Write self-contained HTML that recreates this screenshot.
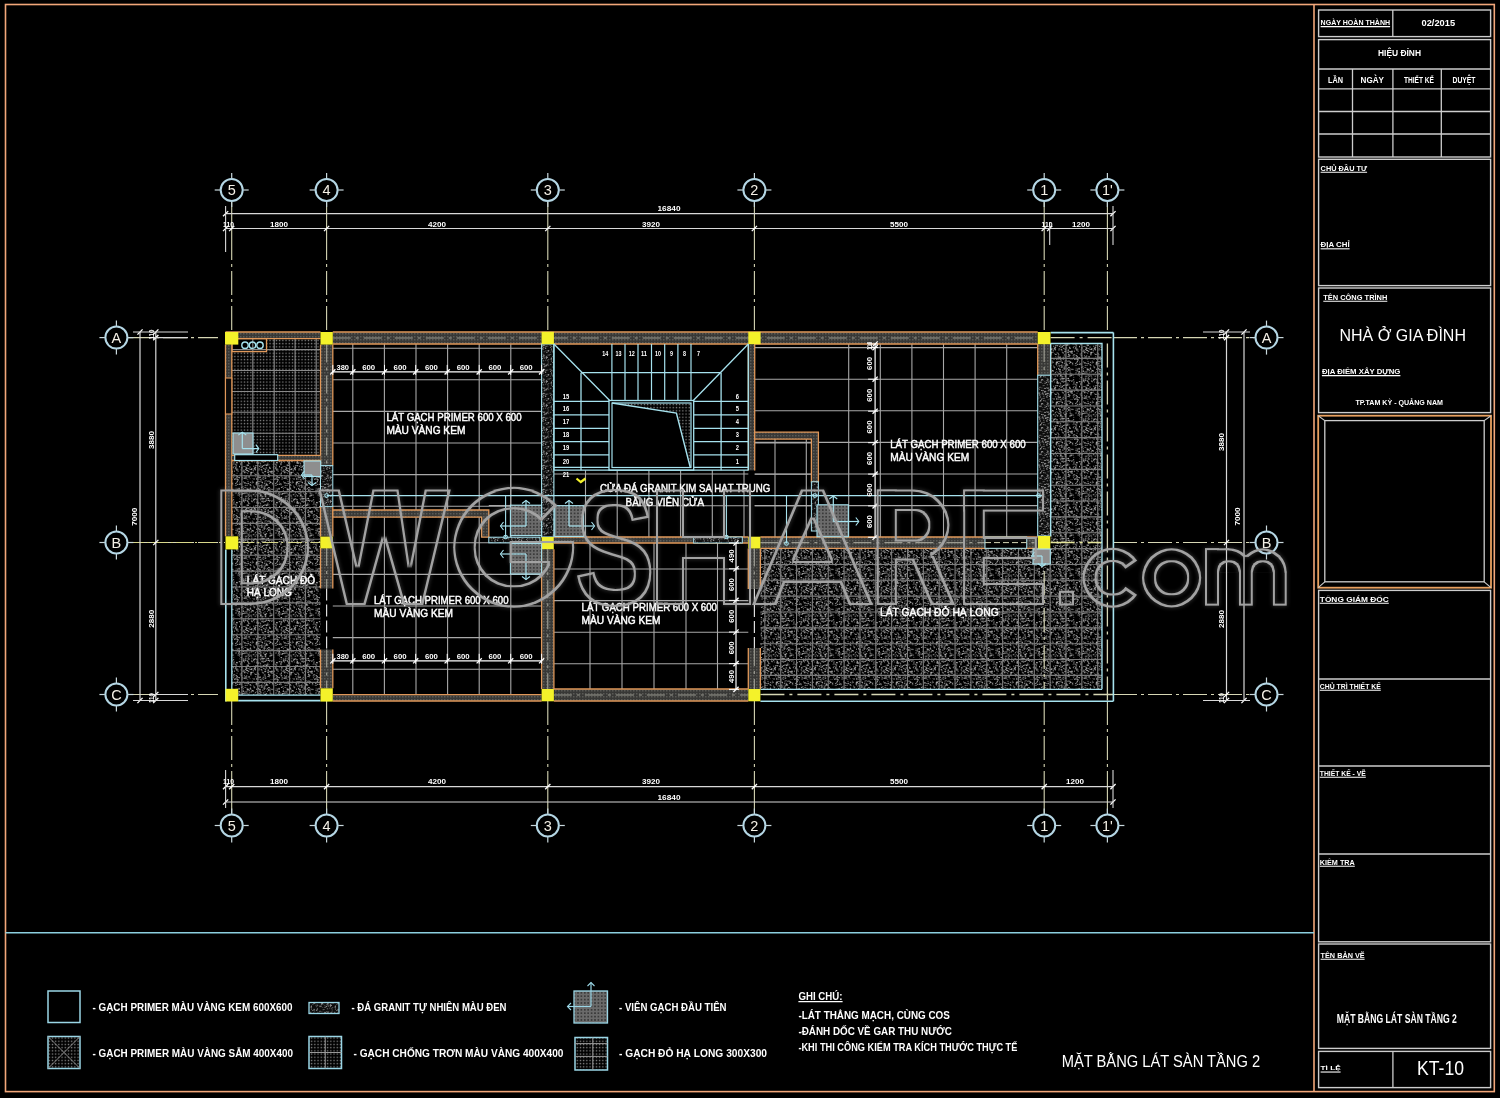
<!DOCTYPE html><html><head><meta charset="utf-8"><title>Mat bang lat san tang 2</title><style>html,body{margin:0;padding:0;background:#000;overflow:hidden}svg{display:block;will-change:transform}</style></head><body><svg width="1500" height="1098" viewBox="0 0 1500 1098" font-family='"Liberation Sans", sans-serif'><defs><pattern id="spk" width="40" height="40" patternUnits="userSpaceOnUse"><rect x="18.1" y="22.39" width="1.5" height="1" fill="#b0b0b0" fill-opacity="0.73"/><rect x="23.5" y="7.39" width="1.5" height="1.2" fill="#b0b0b0" fill-opacity="0.79"/><rect x="7.45" y="17.86" width="1" height="0.8" fill="#b0b0b0" fill-opacity="0.75"/><rect x="35.62" y="25.38" width="1.5" height="1" fill="#b0b0b0" fill-opacity="0.81"/><rect x="24.62" y="6.3" width="0.8" height="1.2" fill="#b0b0b0" fill-opacity="0.48"/><rect x="1.43" y="35.18" width="0.8" height="1" fill="#b0b0b0" fill-opacity="0.63"/><rect x="23.64" y="7.81" width="1" height="1.2" fill="#b0b0b0" fill-opacity="0.61"/><rect x="0.18" y="3.4" width="1.2" height="1" fill="#b0b0b0" fill-opacity="1"/><rect x="39.83" y="33.61" width="1.2" height="1" fill="#b0b0b0" fill-opacity="0.87"/><rect x="20.52" y="1.19" width="0.8" height="1" fill="#b0b0b0" fill-opacity="0.51"/><rect x="11.64" y="2.67" width="0.8" height="1.2" fill="#b0b0b0" fill-opacity="0.45"/><rect x="8.39" y="36.41" width="1.5" height="1" fill="#b0b0b0" fill-opacity="0.99"/><rect x="15.9" y="2.92" width="1" height="1.2" fill="#b0b0b0" fill-opacity="0.6"/><rect x="3.49" y="13.3" width="1.5" height="0.8" fill="#b0b0b0" fill-opacity="0.52"/><rect x="28.28" y="0.44" width="1.5" height="1" fill="#b0b0b0" fill-opacity="0.55"/><rect x="22.37" y="17.9" width="1" height="1.2" fill="#b0b0b0" fill-opacity="0.87"/><rect x="16.77" y="15.35" width="1.5" height="1" fill="#b0b0b0" fill-opacity="0.99"/><rect x="0.02" y="34.57" width="1.2" height="0.8" fill="#b0b0b0" fill-opacity="0.57"/><rect x="15.77" y="34.18" width="0.8" height="0.8" fill="#b0b0b0" fill-opacity="0.99"/><rect x="8.53" y="10.33" width="1.2" height="1" fill="#b0b0b0" fill-opacity="0.66"/><rect x="2.97" y="8.35" width="1" height="0.8" fill="#b0b0b0" fill-opacity="0.78"/><rect x="14.87" y="18.13" width="1.5" height="1.2" fill="#b0b0b0" fill-opacity="0.52"/><rect x="15.44" y="25.09" width="1.2" height="0.8" fill="#b0b0b0" fill-opacity="0.9"/><rect x="9.98" y="7.59" width="1" height="1.2" fill="#b0b0b0" fill-opacity="0.97"/><rect x="35.29" y="24.14" width="1.5" height="0.8" fill="#b0b0b0" fill-opacity="0.51"/><rect x="1.55" y="38.51" width="1" height="1.2" fill="#b0b0b0" fill-opacity="0.84"/><rect x="10.28" y="32.95" width="1.5" height="1" fill="#b0b0b0" fill-opacity="0.74"/><rect x="37.17" y="39.09" width="1" height="0.8" fill="#b0b0b0" fill-opacity="0.71"/><rect x="26.14" y="24.63" width="0.8" height="1" fill="#b0b0b0" fill-opacity="0.57"/><rect x="36.6" y="29.96" width="0.8" height="1" fill="#b0b0b0" fill-opacity="0.68"/><rect x="9.96" y="1.86" width="1.2" height="1" fill="#b0b0b0" fill-opacity="0.74"/><rect x="38.92" y="3.69" width="1" height="1" fill="#b0b0b0" fill-opacity="0.99"/><rect x="26.28" y="27.65" width="1" height="1.2" fill="#b0b0b0" fill-opacity="0.47"/><rect x="0.72" y="36.41" width="1.2" height="0.8" fill="#b0b0b0" fill-opacity="0.46"/><rect x="25.45" y="19.29" width="1.2" height="1" fill="#b0b0b0" fill-opacity="0.53"/><rect x="2.9" y="18.12" width="1.2" height="1.2" fill="#b0b0b0" fill-opacity="0.47"/><rect x="37.45" y="29.49" width="1" height="1" fill="#b0b0b0" fill-opacity="0.64"/><rect x="27.41" y="36.03" width="1.5" height="0.8" fill="#b0b0b0" fill-opacity="0.92"/><rect x="22.91" y="25" width="1.5" height="1" fill="#b0b0b0" fill-opacity="0.77"/><rect x="24.35" y="3.21" width="0.8" height="1" fill="#b0b0b0" fill-opacity="0.93"/><rect x="29.13" y="15.54" width="1.5" height="1" fill="#b0b0b0" fill-opacity="0.7"/><rect x="21.65" y="20.75" width="0.8" height="1" fill="#b0b0b0" fill-opacity="0.78"/><rect x="19.24" y="9.21" width="0.8" height="1" fill="#b0b0b0" fill-opacity="0.88"/><rect x="26.41" y="19.45" width="0.8" height="1" fill="#b0b0b0" fill-opacity="0.62"/><rect x="27.13" y="8.1" width="1" height="1" fill="#b0b0b0" fill-opacity="0.81"/><rect x="17.68" y="35.67" width="1.2" height="1" fill="#b0b0b0" fill-opacity="0.82"/><rect x="7.94" y="17.24" width="1" height="0.8" fill="#b0b0b0" fill-opacity="0.66"/><rect x="23.32" y="12.66" width="1" height="0.8" fill="#b0b0b0" fill-opacity="0.72"/><rect x="33.48" y="33.95" width="0.8" height="1" fill="#b0b0b0" fill-opacity="0.9"/><rect x="4.51" y="18.85" width="1" height="1" fill="#b0b0b0" fill-opacity="0.66"/><rect x="20.8" y="26.89" width="1.5" height="1" fill="#b0b0b0" fill-opacity="0.49"/><rect x="1.26" y="34.91" width="0.8" height="1.2" fill="#b0b0b0" fill-opacity="0.84"/><rect x="22.82" y="12.36" width="0.8" height="1.2" fill="#b0b0b0" fill-opacity="0.52"/><rect x="18.19" y="0.99" width="1.2" height="0.8" fill="#b0b0b0" fill-opacity="0.88"/><rect x="31.87" y="39.36" width="0.8" height="1" fill="#b0b0b0" fill-opacity="0.51"/><rect x="21.42" y="25.6" width="1.2" height="0.8" fill="#b0b0b0" fill-opacity="0.83"/><rect x="7.97" y="19.01" width="1" height="1.2" fill="#b0b0b0" fill-opacity="0.46"/><rect x="18.89" y="28.57" width="1" height="0.8" fill="#b0b0b0" fill-opacity="0.6"/><rect x="13.83" y="27.89" width="1" height="1" fill="#b0b0b0" fill-opacity="0.92"/><rect x="27.99" y="8.96" width="1.5" height="1.2" fill="#b0b0b0" fill-opacity="0.66"/><rect x="18.02" y="7.88" width="0.8" height="1" fill="#b0b0b0" fill-opacity="0.75"/><rect x="26.11" y="20.11" width="1.2" height="1" fill="#b0b0b0" fill-opacity="0.63"/><rect x="39.29" y="3.96" width="0.8" height="0.8" fill="#b0b0b0" fill-opacity="0.58"/><rect x="15.61" y="3.51" width="1.2" height="1.2" fill="#b0b0b0" fill-opacity="0.99"/><rect x="37.29" y="10.48" width="0.8" height="1" fill="#b0b0b0" fill-opacity="0.73"/><rect x="1.49" y="13.68" width="1.5" height="1" fill="#b0b0b0" fill-opacity="0.72"/><rect x="1.14" y="32.37" width="0.8" height="1" fill="#b0b0b0" fill-opacity="0.89"/><rect x="6.92" y="13.4" width="1" height="1" fill="#b0b0b0" fill-opacity="0.53"/><rect x="20.66" y="28.94" width="1.5" height="1" fill="#b0b0b0" fill-opacity="0.77"/><rect x="27.56" y="30.31" width="1.5" height="1.2" fill="#b0b0b0" fill-opacity="0.76"/><rect x="33.25" y="22.46" width="1" height="1.2" fill="#b0b0b0" fill-opacity="0.73"/><rect x="36.29" y="10.26" width="1.5" height="1.2" fill="#b0b0b0" fill-opacity="0.56"/><rect x="34.03" y="38.74" width="1.2" height="1.2" fill="#b0b0b0" fill-opacity="0.72"/><rect x="16.44" y="4.57" width="0.8" height="1.2" fill="#b0b0b0" fill-opacity="0.66"/><rect x="21.53" y="1.76" width="1.5" height="1.2" fill="#b0b0b0" fill-opacity="0.89"/><rect x="22.51" y="19.64" width="1" height="0.8" fill="#b0b0b0" fill-opacity="0.96"/><rect x="18.36" y="36.83" width="1.5" height="1" fill="#b0b0b0" fill-opacity="0.59"/><rect x="19.72" y="13.59" width="1.5" height="1.2" fill="#b0b0b0" fill-opacity="0.62"/><rect x="7.66" y="24.72" width="1.2" height="0.8" fill="#b0b0b0" fill-opacity="0.84"/><rect x="39.09" y="1.42" width="1" height="0.8" fill="#b0b0b0" fill-opacity="0.46"/><rect x="11.36" y="28.94" width="1" height="1.2" fill="#b0b0b0" fill-opacity="0.72"/><rect x="19.99" y="23.29" width="1.2" height="1.2" fill="#b0b0b0" fill-opacity="0.56"/><rect x="21.21" y="17.47" width="1.5" height="1.2" fill="#b0b0b0" fill-opacity="0.68"/><rect x="21.17" y="6.39" width="1" height="1.2" fill="#b0b0b0" fill-opacity="0.74"/><rect x="8.73" y="8.65" width="1" height="0.8" fill="#b0b0b0" fill-opacity="0.95"/><rect x="25.12" y="13.9" width="1" height="1" fill="#b0b0b0" fill-opacity="0.78"/><rect x="35.63" y="7.79" width="1" height="0.8" fill="#b0b0b0" fill-opacity="0.52"/><rect x="9.57" y="29.06" width="1.2" height="1" fill="#b0b0b0" fill-opacity="0.5"/><rect x="33.29" y="16.87" width="1" height="0.8" fill="#b0b0b0" fill-opacity="0.67"/><rect x="27.41" y="0.71" width="1" height="1.2" fill="#b0b0b0" fill-opacity="0.83"/><rect x="36.45" y="38.74" width="0.8" height="1.2" fill="#b0b0b0" fill-opacity="0.73"/><rect x="30.33" y="20.11" width="1" height="0.8" fill="#b0b0b0" fill-opacity="0.72"/><rect x="0.97" y="30.48" width="1.5" height="0.8" fill="#b0b0b0" fill-opacity="0.55"/><rect x="4.6" y="6.9" width="1" height="1" fill="#b0b0b0" fill-opacity="0.96"/><rect x="3.81" y="2.48" width="1.5" height="0.8" fill="#b0b0b0" fill-opacity="0.87"/><rect x="13.07" y="18.68" width="1.2" height="1" fill="#b0b0b0" fill-opacity="0.57"/><rect x="14.93" y="25.36" width="0.8" height="0.8" fill="#b0b0b0" fill-opacity="0.55"/><rect x="18.16" y="29.57" width="1.5" height="0.8" fill="#b0b0b0" fill-opacity="0.78"/><rect x="3.79" y="31.69" width="1.2" height="0.8" fill="#b0b0b0" fill-opacity="0.89"/><rect x="28.19" y="34.43" width="1.5" height="1.2" fill="#b0b0b0" fill-opacity="0.78"/><rect x="20.17" y="39.31" width="1.2" height="1" fill="#b0b0b0" fill-opacity="0.95"/><rect x="29.78" y="31.12" width="1.5" height="0.8" fill="#b0b0b0" fill-opacity="0.94"/><rect x="35.19" y="27.79" width="1.5" height="0.8" fill="#b0b0b0" fill-opacity="0.67"/><rect x="28.91" y="2.82" width="1.2" height="1" fill="#b0b0b0" fill-opacity="0.71"/><rect x="0.42" y="14.23" width="0.8" height="0.8" fill="#b0b0b0" fill-opacity="0.6"/><rect x="38.46" y="11.95" width="1" height="1.2" fill="#b0b0b0" fill-opacity="0.67"/><rect x="7.28" y="3.07" width="1.5" height="1.2" fill="#b0b0b0" fill-opacity="0.57"/><rect x="4.78" y="15.81" width="0.8" height="0.8" fill="#b0b0b0" fill-opacity="0.79"/><rect x="29.55" y="10.27" width="1.5" height="1.2" fill="#b0b0b0" fill-opacity="0.48"/><rect x="7.82" y="15.03" width="0.8" height="1" fill="#b0b0b0" fill-opacity="0.59"/><rect x="36.23" y="22" width="1.5" height="1.2" fill="#b0b0b0" fill-opacity="0.76"/><rect x="39.8" y="25.52" width="0.8" height="1.2" fill="#b0b0b0" fill-opacity="0.78"/><rect x="30.37" y="1.8" width="1" height="1" fill="#b0b0b0" fill-opacity="0.71"/><rect x="6.76" y="19.82" width="0.8" height="1" fill="#b0b0b0" fill-opacity="0.97"/><rect x="16.83" y="21.07" width="1.2" height="1" fill="#b0b0b0" fill-opacity="0.74"/><rect x="19.33" y="10.79" width="1.2" height="1.2" fill="#b0b0b0" fill-opacity="0.84"/><rect x="11.84" y="0.56" width="1" height="1.2" fill="#b0b0b0" fill-opacity="0.47"/><rect x="6.26" y="30.19" width="1.5" height="0.8" fill="#b0b0b0" fill-opacity="0.94"/><rect x="29.93" y="2.01" width="1.2" height="0.8" fill="#b0b0b0" fill-opacity="0.89"/><rect x="8.95" y="28.76" width="1.2" height="0.8" fill="#b0b0b0" fill-opacity="0.47"/><rect x="3.94" y="32.41" width="1.5" height="0.8" fill="#b0b0b0" fill-opacity="0.99"/><rect x="32.67" y="24.14" width="0.8" height="0.8" fill="#b0b0b0" fill-opacity="0.79"/><rect x="18.23" y="8.15" width="0.8" height="1" fill="#b0b0b0" fill-opacity="0.74"/><rect x="4.97" y="17.71" width="1.5" height="1" fill="#b0b0b0" fill-opacity="0.78"/><rect x="25.58" y="27.28" width="1.2" height="1.2" fill="#b0b0b0" fill-opacity="0.74"/><rect x="39.91" y="38.11" width="1" height="0.8" fill="#b0b0b0" fill-opacity="0.71"/><rect x="20.12" y="12.34" width="1.2" height="1" fill="#b0b0b0" fill-opacity="0.6"/><rect x="27.4" y="22.6" width="1" height="1.2" fill="#b0b0b0" fill-opacity="0.6"/><rect x="9.58" y="38.08" width="1" height="1.2" fill="#b0b0b0" fill-opacity="0.47"/><rect x="2.43" y="10.84" width="1.5" height="0.8" fill="#b0b0b0" fill-opacity="0.79"/><rect x="4.1" y="21.67" width="0.8" height="0.8" fill="#b0b0b0" fill-opacity="0.95"/><rect x="6.43" y="9.39" width="1.2" height="1" fill="#b0b0b0" fill-opacity="0.71"/><rect x="8.43" y="13.75" width="1" height="0.8" fill="#b0b0b0" fill-opacity="0.89"/><rect x="17.89" y="32.88" width="1" height="1" fill="#b0b0b0" fill-opacity="0.68"/><rect x="10.32" y="32.4" width="1.2" height="0.8" fill="#b0b0b0" fill-opacity="0.81"/><rect x="39.57" y="13.02" width="1" height="1" fill="#b0b0b0" fill-opacity="0.81"/><rect x="23.22" y="18.48" width="1.2" height="0.8" fill="#b0b0b0" fill-opacity="0.75"/><rect x="17.28" y="22.72" width="1.5" height="1" fill="#b0b0b0" fill-opacity="0.9"/><rect x="0.37" y="12.41" width="0.8" height="1.2" fill="#b0b0b0" fill-opacity="0.62"/><rect x="29" y="27.76" width="1.2" height="0.8" fill="#b0b0b0" fill-opacity="0.57"/><rect x="26.29" y="13.08" width="0.8" height="1" fill="#b0b0b0" fill-opacity="0.84"/><rect x="22.77" y="36.74" width="1.2" height="1" fill="#b0b0b0" fill-opacity="0.74"/><rect x="39.69" y="18.33" width="1" height="1" fill="#b0b0b0" fill-opacity="0.98"/><rect x="29.19" y="20.65" width="0.8" height="1" fill="#b0b0b0" fill-opacity="0.91"/><rect x="0.96" y="27.08" width="1.5" height="0.8" fill="#b0b0b0" fill-opacity="0.86"/><rect x="14.73" y="15.61" width="1" height="1.2" fill="#b0b0b0" fill-opacity="0.76"/><rect x="7.06" y="30.36" width="1.2" height="0.8" fill="#b0b0b0" fill-opacity="0.57"/><rect x="2.31" y="6.35" width="1.2" height="0.8" fill="#b0b0b0" fill-opacity="0.81"/><rect x="32.17" y="2.56" width="1.2" height="1.2" fill="#b0b0b0" fill-opacity="0.5"/><rect x="3.27" y="29.48" width="1.2" height="0.8" fill="#b0b0b0" fill-opacity="0.46"/><rect x="26.14" y="3.9" width="1.5" height="0.8" fill="#b0b0b0" fill-opacity="0.84"/><rect x="19.56" y="36.31" width="1.2" height="1" fill="#b0b0b0" fill-opacity="0.67"/><rect x="13.51" y="38.73" width="1" height="1" fill="#b0b0b0" fill-opacity="0.72"/><rect x="32.19" y="2.9" width="0.8" height="1" fill="#b0b0b0" fill-opacity="0.87"/><rect x="39.43" y="13.97" width="0.8" height="1" fill="#b0b0b0" fill-opacity="0.91"/><rect x="35.55" y="38.31" width="0.8" height="1.2" fill="#b0b0b0" fill-opacity="0.65"/><rect x="0.41" y="4.4" width="1.5" height="0.8" fill="#b0b0b0" fill-opacity="0.59"/><rect x="6.49" y="25.41" width="1" height="1" fill="#b0b0b0" fill-opacity="0.56"/><rect x="17" y="11.68" width="0.8" height="1" fill="#b0b0b0" fill-opacity="0.62"/><rect x="4.59" y="25.92" width="1" height="0.8" fill="#b0b0b0" fill-opacity="0.86"/><rect x="0.69" y="19.24" width="0.8" height="1" fill="#b0b0b0" fill-opacity="0.51"/><rect x="7.38" y="8.69" width="1" height="1.2" fill="#b0b0b0" fill-opacity="0.84"/><rect x="23.79" y="8.96" width="1" height="1" fill="#b0b0b0" fill-opacity="0.67"/><rect x="36.43" y="37.49" width="1.5" height="1" fill="#b0b0b0" fill-opacity="0.72"/><rect x="16.1" y="38.23" width="0.8" height="1" fill="#b0b0b0" fill-opacity="0.92"/><rect x="15.98" y="8.7" width="1" height="1" fill="#b0b0b0" fill-opacity="0.99"/><rect x="31.79" y="30.97" width="0.8" height="1.2" fill="#b0b0b0" fill-opacity="0.96"/><rect x="35.69" y="34.96" width="1.2" height="1" fill="#b0b0b0" fill-opacity="0.89"/><rect x="28.53" y="24.24" width="1" height="1" fill="#b0b0b0" fill-opacity="0.54"/><rect x="12.87" y="10.38" width="1" height="1.2" fill="#b0b0b0" fill-opacity="0.86"/><rect x="24.78" y="20.64" width="0.8" height="0.8" fill="#b0b0b0" fill-opacity="0.76"/><rect x="7.13" y="8.17" width="1" height="0.8" fill="#b0b0b0" fill-opacity="0.5"/><rect x="10.8" y="28.66" width="0.8" height="1" fill="#b0b0b0" fill-opacity="0.83"/><rect x="3.31" y="29.94" width="1.2" height="0.8" fill="#b0b0b0" fill-opacity="0.88"/><rect x="16.68" y="36.67" width="0.8" height="1" fill="#b0b0b0" fill-opacity="0.56"/><rect x="21.73" y="21.03" width="1" height="1" fill="#b0b0b0" fill-opacity="0.62"/><rect x="16.22" y="22.26" width="1.5" height="1.2" fill="#b0b0b0" fill-opacity="0.84"/><rect x="14.39" y="27.48" width="0.8" height="1.2" fill="#b0b0b0" fill-opacity="0.67"/><rect x="18.47" y="38.68" width="0.8" height="1.2" fill="#b0b0b0" fill-opacity="0.69"/><rect x="34.55" y="28.47" width="1.5" height="0.8" fill="#b0b0b0" fill-opacity="0.61"/><rect x="4.53" y="30.87" width="1" height="1.2" fill="#b0b0b0" fill-opacity="0.53"/><rect x="25.11" y="37.5" width="1.2" height="1" fill="#b0b0b0" fill-opacity="0.87"/><rect x="22.22" y="3.48" width="1" height="0.8" fill="#b0b0b0" fill-opacity="0.66"/><rect x="4.38" y="12.39" width="1.2" height="1.2" fill="#b0b0b0" fill-opacity="0.71"/><rect x="25.61" y="17.87" width="1.5" height="0.8" fill="#b0b0b0" fill-opacity="0.51"/><rect x="24.87" y="5.26" width="1" height="0.8" fill="#b0b0b0" fill-opacity="0.56"/><rect x="1.46" y="18.53" width="0.8" height="0.8" fill="#b0b0b0" fill-opacity="0.57"/><rect x="6.28" y="4.96" width="1.5" height="0.8" fill="#b0b0b0" fill-opacity="0.64"/><rect x="32.93" y="37.08" width="1" height="1.2" fill="#b0b0b0" fill-opacity="0.56"/><rect x="5.92" y="27.65" width="1.5" height="1" fill="#b0b0b0" fill-opacity="0.96"/><rect x="24.92" y="29.08" width="1.2" height="0.8" fill="#b0b0b0" fill-opacity="0.81"/><rect x="24.34" y="0.74" width="1.2" height="0.8" fill="#b0b0b0" fill-opacity="0.64"/><rect x="26.03" y="4.25" width="1.5" height="0.8" fill="#b0b0b0" fill-opacity="0.73"/><rect x="31.54" y="33.01" width="1" height="1" fill="#b0b0b0" fill-opacity="0.87"/><rect x="36.12" y="21.93" width="1.2" height="1.2" fill="#b0b0b0" fill-opacity="0.73"/><rect x="5.67" y="28.54" width="1" height="1.2" fill="#b0b0b0" fill-opacity="0.97"/><rect x="25.08" y="7.92" width="0.8" height="0.8" fill="#b0b0b0" fill-opacity="0.58"/><rect x="23.06" y="27.88" width="1.2" height="0.8" fill="#b0b0b0" fill-opacity="0.96"/><rect x="14.45" y="18.52" width="0.8" height="1" fill="#b0b0b0" fill-opacity="0.99"/><rect x="5.42" y="36.16" width="0.8" height="1.2" fill="#b0b0b0" fill-opacity="0.95"/><rect x="6.74" y="29.83" width="1.2" height="1.2" fill="#b0b0b0" fill-opacity="0.53"/><rect x="37.36" y="0.15" width="1.2" height="0.8" fill="#b0b0b0" fill-opacity="0.87"/><rect x="14.52" y="6.64" width="0.8" height="1" fill="#b0b0b0" fill-opacity="0.47"/><rect x="7.2" y="39.48" width="1" height="1" fill="#b0b0b0" fill-opacity="0.87"/><rect x="33.89" y="36.26" width="0.8" height="0.8" fill="#b0b0b0" fill-opacity="0.56"/><rect x="18.72" y="5.72" width="1.5" height="0.8" fill="#b0b0b0" fill-opacity="0.76"/><rect x="6.95" y="20.79" width="1.2" height="0.8" fill="#b0b0b0" fill-opacity="0.76"/><rect x="13.28" y="25.67" width="0.8" height="1.2" fill="#b0b0b0" fill-opacity="0.82"/><rect x="5.79" y="38.37" width="0.8" height="1" fill="#b0b0b0" fill-opacity="0.64"/><rect x="35.87" y="36.52" width="1.5" height="1" fill="#b0b0b0" fill-opacity="0.72"/><rect x="39.78" y="33.53" width="1.5" height="1" fill="#b0b0b0" fill-opacity="0.51"/><rect x="4.59" y="37.56" width="1.2" height="1.2" fill="#b0b0b0" fill-opacity="0.74"/><rect x="16.81" y="0.97" width="0.8" height="1" fill="#b0b0b0" fill-opacity="0.85"/><rect x="36.01" y="29.28" width="1.2" height="1" fill="#b0b0b0" fill-opacity="0.94"/><rect x="35.08" y="9.77" width="1.5" height="0.8" fill="#b0b0b0" fill-opacity="0.73"/><rect x="15.87" y="2.08" width="0.8" height="1.2" fill="#b0b0b0" fill-opacity="0.95"/><rect x="21.8" y="26.27" width="1" height="0.8" fill="#b0b0b0" fill-opacity="1"/><rect x="29.23" y="34.86" width="1.2" height="1.2" fill="#b0b0b0" fill-opacity="0.68"/><rect x="32.21" y="8.87" width="1.5" height="1.2" fill="#b0b0b0" fill-opacity="0.52"/><rect x="2.87" y="20.79" width="1" height="0.8" fill="#b0b0b0" fill-opacity="0.94"/><rect x="23.04" y="18.13" width="1.2" height="0.8" fill="#b0b0b0" fill-opacity="0.85"/><rect x="0.96" y="6.88" width="1.5" height="1" fill="#b0b0b0" fill-opacity="0.9"/><rect x="15.89" y="14.26" width="1" height="0.8" fill="#b0b0b0" fill-opacity="0.62"/><rect x="18.19" y="12.55" width="1.2" height="1" fill="#b0b0b0" fill-opacity="0.53"/><rect x="31.07" y="31.06" width="1" height="0.8" fill="#b0b0b0" fill-opacity="0.61"/><rect x="36.91" y="35.87" width="1" height="1" fill="#b0b0b0" fill-opacity="0.91"/><rect x="14.17" y="18.9" width="1" height="1.2" fill="#b0b0b0" fill-opacity="0.93"/><rect x="39.82" y="8.08" width="1" height="0.8" fill="#b0b0b0" fill-opacity="0.97"/><rect x="39.05" y="26" width="1.2" height="1.2" fill="#b0b0b0" fill-opacity="0.9"/><rect x="38.45" y="10.96" width="1.5" height="1.2" fill="#b0b0b0" fill-opacity="0.93"/><rect x="13.4" y="38.28" width="1.5" height="1" fill="#b0b0b0" fill-opacity="0.49"/><rect x="8.93" y="12.29" width="1" height="1" fill="#b0b0b0" fill-opacity="0.55"/><rect x="9.42" y="26.58" width="1.2" height="1" fill="#b0b0b0" fill-opacity="0.89"/><rect x="20.98" y="4.63" width="1" height="1" fill="#b0b0b0" fill-opacity="0.94"/><rect x="7.22" y="9.04" width="1" height="1.2" fill="#b0b0b0" fill-opacity="0.82"/><rect x="18.51" y="3.05" width="0.8" height="1.2" fill="#b0b0b0" fill-opacity="0.95"/><rect x="0.28" y="23.46" width="1.2" height="1" fill="#b0b0b0" fill-opacity="0.89"/><rect x="3.49" y="11.41" width="1" height="0.8" fill="#b0b0b0" fill-opacity="0.55"/><rect x="29.37" y="1.15" width="1" height="0.8" fill="#b0b0b0" fill-opacity="0.79"/><rect x="36.66" y="23.4" width="0.8" height="1" fill="#b0b0b0" fill-opacity="0.48"/><rect x="2.56" y="31.07" width="1.2" height="1" fill="#b0b0b0" fill-opacity="0.81"/><rect x="31.32" y="20.67" width="1" height="1.2" fill="#b0b0b0" fill-opacity="0.88"/><rect x="6.61" y="24.32" width="1" height="1.2" fill="#b0b0b0" fill-opacity="0.69"/><rect x="30.92" y="31.46" width="1" height="1" fill="#b0b0b0" fill-opacity="0.72"/><rect x="8.85" y="23.2" width="1.5" height="1" fill="#b0b0b0" fill-opacity="0.47"/><rect x="23.87" y="28.59" width="1.5" height="0.8" fill="#b0b0b0" fill-opacity="0.63"/><rect x="24.33" y="24.34" width="1.5" height="1.2" fill="#b0b0b0" fill-opacity="0.69"/><rect x="10.52" y="31.94" width="0.8" height="0.8" fill="#b0b0b0" fill-opacity="0.95"/><rect x="22.76" y="21.73" width="1" height="1.2" fill="#b0b0b0" fill-opacity="0.53"/><rect x="12.44" y="1.69" width="1.2" height="1.2" fill="#b0b0b0" fill-opacity="0.86"/><rect x="31.23" y="30.61" width="1.5" height="0.8" fill="#b0b0b0" fill-opacity="0.81"/><rect x="20.42" y="15.15" width="1" height="0.8" fill="#b0b0b0" fill-opacity="0.72"/><rect x="26.36" y="23.84" width="1.5" height="0.8" fill="#b0b0b0" fill-opacity="0.62"/><rect x="18.67" y="27.95" width="0.8" height="0.8" fill="#b0b0b0" fill-opacity="0.72"/><rect x="30.45" y="39.45" width="1" height="1.2" fill="#b0b0b0" fill-opacity="0.7"/><rect x="29.8" y="1.57" width="1" height="1" fill="#b0b0b0" fill-opacity="0.94"/><rect x="5.66" y="15.72" width="1.2" height="1" fill="#b0b0b0" fill-opacity="0.68"/><rect x="3.06" y="1.37" width="1" height="1" fill="#b0b0b0" fill-opacity="0.59"/><rect x="22.08" y="9.67" width="1.5" height="0.8" fill="#b0b0b0" fill-opacity="0.96"/><rect x="14.56" y="13.48" width="1" height="0.8" fill="#b0b0b0" fill-opacity="0.54"/><rect x="23.41" y="39.79" width="1.2" height="1.2" fill="#b0b0b0" fill-opacity="0.83"/><rect x="34.58" y="23.63" width="1" height="1" fill="#b0b0b0" fill-opacity="0.92"/><rect x="37.42" y="8.53" width="1.5" height="0.8" fill="#b0b0b0" fill-opacity="0.57"/><rect x="13.9" y="7.34" width="1" height="1" fill="#b0b0b0" fill-opacity="0.56"/><rect x="8.58" y="18.71" width="1.2" height="1" fill="#b0b0b0" fill-opacity="0.7"/><rect x="39.73" y="27.17" width="1.5" height="0.8" fill="#b0b0b0" fill-opacity="0.75"/><rect x="16.77" y="1.89" width="1.2" height="1" fill="#b0b0b0" fill-opacity="0.97"/><rect x="24.84" y="20.76" width="1.2" height="1.2" fill="#b0b0b0" fill-opacity="0.67"/><rect x="36.94" y="28.61" width="1.2" height="0.8" fill="#b0b0b0" fill-opacity="0.65"/><rect x="6.14" y="37.47" width="1.2" height="0.8" fill="#b0b0b0" fill-opacity="0.87"/><rect x="28.94" y="36.28" width="0.8" height="1" fill="#b0b0b0" fill-opacity="0.91"/><rect x="18" y="34.18" width="1.5" height="1" fill="#b0b0b0" fill-opacity="0.59"/><rect x="35.15" y="26.77" width="1.2" height="1" fill="#b0b0b0" fill-opacity="0.78"/><rect x="19.54" y="7.51" width="1" height="0.8" fill="#b0b0b0" fill-opacity="0.56"/><rect x="16.43" y="19.14" width="1" height="1.2" fill="#b0b0b0" fill-opacity="0.84"/><rect x="10.42" y="29.02" width="1.5" height="0.8" fill="#b0b0b0" fill-opacity="0.93"/><rect x="33.38" y="21.4" width="1.5" height="1" fill="#b0b0b0" fill-opacity="0.53"/><rect x="20.67" y="14.22" width="0.8" height="1" fill="#b0b0b0" fill-opacity="0.65"/><rect x="24.45" y="5.61" width="0.8" height="1.2" fill="#b0b0b0" fill-opacity="0.8"/><rect x="22.64" y="32.35" width="1.2" height="1.2" fill="#b0b0b0" fill-opacity="0.82"/><rect x="36.76" y="8.65" width="1.2" height="1.2" fill="#b0b0b0" fill-opacity="0.52"/><rect x="30.99" y="14.97" width="1.2" height="0.8" fill="#b0b0b0" fill-opacity="0.89"/><rect x="4.79" y="19.72" width="1.5" height="1" fill="#b0b0b0" fill-opacity="0.96"/><rect x="11.38" y="28.13" width="1" height="0.8" fill="#b0b0b0" fill-opacity="0.96"/><rect x="8.08" y="30.73" width="1.2" height="1.2" fill="#b0b0b0" fill-opacity="0.84"/><rect x="20.82" y="29.71" width="1.5" height="0.8" fill="#b0b0b0" fill-opacity="0.71"/><rect x="10.28" y="34.12" width="1.2" height="1.2" fill="#b0b0b0" fill-opacity="0.95"/><rect x="36.1" y="4.81" width="0.8" height="1" fill="#b0b0b0" fill-opacity="0.6"/><rect x="15.09" y="33.87" width="1.2" height="1" fill="#b0b0b0" fill-opacity="0.85"/><rect x="35.44" y="2.89" width="0.8" height="1" fill="#b0b0b0" fill-opacity="0.63"/><rect x="14.93" y="11.89" width="1" height="1.2" fill="#b0b0b0" fill-opacity="0.71"/><rect x="24.61" y="38.19" width="1.2" height="0.8" fill="#b0b0b0" fill-opacity="0.77"/><rect x="37.7" y="30.86" width="0.8" height="1.2" fill="#b0b0b0" fill-opacity="0.75"/><rect x="24.51" y="2.55" width="0.8" height="1" fill="#b0b0b0" fill-opacity="0.93"/><rect x="15.28" y="36.38" width="0.8" height="0.8" fill="#b0b0b0" fill-opacity="0.83"/><rect x="10.91" y="19.8" width="1.5" height="0.8" fill="#b0b0b0" fill-opacity="0.53"/><rect x="7.7" y="9.14" width="1" height="0.8" fill="#b0b0b0" fill-opacity="0.74"/><rect x="37.06" y="39.19" width="0.8" height="0.8" fill="#b0b0b0" fill-opacity="0.75"/><rect x="33.96" y="30.61" width="0.8" height="1.2" fill="#b0b0b0" fill-opacity="0.9"/><rect x="35.37" y="27.64" width="1.2" height="1" fill="#b0b0b0" fill-opacity="0.64"/><rect x="35.45" y="12.53" width="1" height="1.2" fill="#b0b0b0" fill-opacity="0.67"/><rect x="6.26" y="7.69" width="1" height="0.8" fill="#b0b0b0" fill-opacity="0.63"/><rect x="27.57" y="32.2" width="1.2" height="1" fill="#b0b0b0" fill-opacity="0.68"/><rect x="14.67" y="26.72" width="1.5" height="0.8" fill="#b0b0b0" fill-opacity="0.81"/><rect x="14.49" y="28.25" width="1" height="0.8" fill="#b0b0b0" fill-opacity="0.99"/><rect x="32.71" y="35.42" width="1.2" height="0.8" fill="#b0b0b0" fill-opacity="0.92"/><rect x="20.49" y="27.17" width="0.8" height="0.8" fill="#b0b0b0" fill-opacity="0.79"/><rect x="16.51" y="19.28" width="1.2" height="1" fill="#b0b0b0" fill-opacity="0.67"/><rect x="29.58" y="27.75" width="1.2" height="1.2" fill="#b0b0b0" fill-opacity="0.8"/><rect x="14.71" y="27.31" width="1" height="1" fill="#b0b0b0" fill-opacity="0.92"/><rect x="8.19" y="22.55" width="1" height="1.2" fill="#b0b0b0" fill-opacity="0.99"/><rect x="25.65" y="5.02" width="1.2" height="0.8" fill="#b0b0b0" fill-opacity="0.52"/><rect x="15.08" y="26.77" width="1" height="1.2" fill="#b0b0b0" fill-opacity="0.55"/><rect x="0.55" y="23.42" width="1" height="1" fill="#b0b0b0" fill-opacity="0.83"/><rect x="16.77" y="25.26" width="1.5" height="1" fill="#b0b0b0" fill-opacity="0.96"/><rect x="39.55" y="1.95" width="0.8" height="0.8" fill="#b0b0b0" fill-opacity="0.56"/><rect x="14.26" y="21.54" width="0.8" height="1" fill="#b0b0b0" fill-opacity="0.63"/><rect x="1.06" y="21.7" width="1.5" height="0.8" fill="#b0b0b0" fill-opacity="0.66"/><rect x="12.37" y="32.02" width="1.2" height="0.8" fill="#b0b0b0" fill-opacity="0.67"/><rect x="24.71" y="30.61" width="1.5" height="1.2" fill="#b0b0b0" fill-opacity="0.83"/><rect x="21.84" y="32.01" width="1" height="1" fill="#b0b0b0" fill-opacity="0.55"/><rect x="4.28" y="37.34" width="1.2" height="1" fill="#b0b0b0" fill-opacity="0.69"/><rect x="6.07" y="35.38" width="1.2" height="1.2" fill="#b0b0b0" fill-opacity="0.76"/><rect x="10.95" y="16.01" width="1.2" height="0.8" fill="#b0b0b0" fill-opacity="0.49"/><rect x="8.04" y="22.06" width="0.8" height="0.8" fill="#b0b0b0" fill-opacity="0.49"/><rect x="35.71" y="12.37" width="0.8" height="0.8" fill="#b0b0b0" fill-opacity="0.55"/><rect x="19.34" y="39.89" width="1" height="1" fill="#b0b0b0" fill-opacity="0.72"/><rect x="16.58" y="32.28" width="1.5" height="1.2" fill="#b0b0b0" fill-opacity="0.48"/><rect x="22.02" y="26.28" width="1.2" height="1" fill="#b0b0b0" fill-opacity="0.55"/><rect x="11.63" y="9.98" width="1.5" height="1.2" fill="#b0b0b0" fill-opacity="0.91"/><rect x="29" y="7.03" width="0.8" height="0.8" fill="#b0b0b0" fill-opacity="0.75"/><rect x="26.99" y="10.84" width="0.8" height="1.2" fill="#b0b0b0" fill-opacity="0.62"/><rect x="20.57" y="0.42" width="1" height="0.8" fill="#b0b0b0" fill-opacity="0.98"/><rect x="0.44" y="21.09" width="1" height="1.2" fill="#b0b0b0" fill-opacity="0.72"/><rect x="12.32" y="21.25" width="0.8" height="1" fill="#b0b0b0" fill-opacity="0.67"/><rect x="28.21" y="10.02" width="0.8" height="0.8" fill="#b0b0b0" fill-opacity="0.77"/><rect x="9.09" y="15.54" width="1.2" height="1.2" fill="#b0b0b0" fill-opacity="0.81"/><rect x="32.43" y="14.59" width="1.5" height="1" fill="#b0b0b0" fill-opacity="0.62"/><rect x="2.67" y="26.13" width="0.8" height="1" fill="#b0b0b0" fill-opacity="0.63"/><rect x="29.67" y="8.45" width="1" height="1.2" fill="#b0b0b0" fill-opacity="0.62"/><rect x="8.24" y="13.9" width="1" height="0.8" fill="#b0b0b0" fill-opacity="0.66"/><rect x="7.29" y="0.88" width="1.5" height="1.2" fill="#b0b0b0" fill-opacity="0.48"/><rect x="3.79" y="38.02" width="1" height="0.8" fill="#b0b0b0" fill-opacity="0.93"/><rect x="12.84" y="30.17" width="0.8" height="1.2" fill="#b0b0b0" fill-opacity="0.99"/><rect x="17.2" y="38.51" width="1" height="1" fill="#b0b0b0" fill-opacity="0.67"/><rect x="28.24" y="7.11" width="1.2" height="0.8" fill="#b0b0b0" fill-opacity="0.82"/><rect x="37.91" y="12.89" width="1" height="1" fill="#b0b0b0" fill-opacity="0.74"/><rect x="0.4" y="29.21" width="1.5" height="1.2" fill="#b0b0b0" fill-opacity="0.48"/><rect x="24.66" y="13.78" width="1.5" height="1.2" fill="#b0b0b0" fill-opacity="0.8"/><rect x="20.19" y="22.71" width="0.8" height="0.8" fill="#b0b0b0" fill-opacity="0.91"/><rect x="27.59" y="18.13" width="1.5" height="1" fill="#b0b0b0" fill-opacity="0.91"/><rect x="20.06" y="15.02" width="0.8" height="1.2" fill="#b0b0b0" fill-opacity="0.96"/><rect x="21.13" y="18.07" width="1.2" height="1.2" fill="#b0b0b0" fill-opacity="0.48"/><rect x="2.18" y="12.99" width="1.5" height="1" fill="#b0b0b0" fill-opacity="1"/><rect x="29.52" y="12.52" width="1.5" height="1.2" fill="#b0b0b0" fill-opacity="0.67"/><rect x="34.7" y="5.07" width="1.5" height="0.8" fill="#b0b0b0" fill-opacity="0.58"/><rect x="33.61" y="25.97" width="1" height="0.8" fill="#b0b0b0" fill-opacity="0.89"/><rect x="20.46" y="39.75" width="0.8" height="0.8" fill="#b0b0b0" fill-opacity="0.93"/><rect x="28.47" y="10.03" width="1.2" height="1" fill="#b0b0b0" fill-opacity="0.56"/><rect x="0.57" y="17.07" width="1.5" height="1" fill="#b0b0b0" fill-opacity="0.98"/><rect x="9.54" y="4.29" width="1.5" height="1" fill="#b0b0b0" fill-opacity="0.93"/><rect x="2.89" y="19.87" width="0.8" height="1.2" fill="#b0b0b0" fill-opacity="0.98"/><rect x="2.63" y="37.67" width="1.2" height="0.8" fill="#b0b0b0" fill-opacity="0.51"/><rect x="1.47" y="13.83" width="1" height="1" fill="#b0b0b0" fill-opacity="0.51"/><rect x="7.27" y="15.55" width="1.5" height="1" fill="#b0b0b0" fill-opacity="0.49"/><rect x="39.51" y="8.27" width="1.2" height="1.2" fill="#b0b0b0" fill-opacity="0.98"/><rect x="22.4" y="39.78" width="1.5" height="0.8" fill="#b0b0b0" fill-opacity="0.9"/><rect x="27.99" y="33.79" width="1.2" height="1.2" fill="#b0b0b0" fill-opacity="0.78"/><rect x="27.79" y="7.23" width="1" height="0.8" fill="#b0b0b0" fill-opacity="0.83"/><rect x="18.66" y="5.16" width="0.8" height="1" fill="#b0b0b0" fill-opacity="0.97"/><rect x="24.4" y="14.3" width="1" height="0.8" fill="#b0b0b0" fill-opacity="1"/><rect x="27.67" y="29.45" width="1.2" height="1" fill="#b0b0b0" fill-opacity="0.87"/><rect x="8.01" y="2.86" width="1.2" height="1" fill="#b0b0b0" fill-opacity="0.66"/><rect x="24.51" y="11.17" width="1" height="1.2" fill="#b0b0b0" fill-opacity="0.52"/><rect x="3.8" y="20.55" width="1.5" height="0.8" fill="#b0b0b0" fill-opacity="0.72"/><rect x="4.7" y="4.93" width="1.2" height="0.8" fill="#b0b0b0" fill-opacity="0.82"/><rect x="18.2" y="37.35" width="1.5" height="0.8" fill="#b0b0b0" fill-opacity="0.86"/><rect x="24.05" y="17.94" width="0.8" height="1" fill="#b0b0b0" fill-opacity="0.68"/><rect x="11.25" y="17.64" width="1.2" height="1" fill="#b0b0b0" fill-opacity="0.81"/><rect x="0.51" y="24.42" width="0.8" height="1" fill="#b0b0b0" fill-opacity="0.66"/><rect x="23.73" y="34.65" width="1.5" height="1" fill="#b0b0b0" fill-opacity="0.6"/><rect x="4.08" y="35.2" width="0.8" height="1.2" fill="#b0b0b0" fill-opacity="0.81"/><rect x="18.13" y="8.37" width="1.2" height="0.8" fill="#b0b0b0" fill-opacity="0.66"/><rect x="28.92" y="26.77" width="1.2" height="0.8" fill="#b0b0b0" fill-opacity="0.82"/><rect x="6.23" y="2.9" width="1" height="1" fill="#b0b0b0" fill-opacity="0.73"/><rect x="19.19" y="26.08" width="0.8" height="0.8" fill="#b0b0b0" fill-opacity="0.99"/><rect x="39.7" y="15.81" width="1" height="1.2" fill="#b0b0b0" fill-opacity="0.75"/><rect x="4.4" y="2.3" width="1.5" height="1.2" fill="#b0b0b0" fill-opacity="0.67"/><rect x="26.24" y="8.72" width="1" height="1" fill="#b0b0b0" fill-opacity="0.65"/><rect x="5.72" y="15.79" width="0.8" height="0.8" fill="#b0b0b0" fill-opacity="0.54"/><rect x="25.96" y="24.92" width="1.2" height="1.2" fill="#b0b0b0" fill-opacity="0.9"/><rect x="29.23" y="31.04" width="0.8" height="1" fill="#b0b0b0" fill-opacity="0.71"/><rect x="0.63" y="34.39" width="0.8" height="0.8" fill="#b0b0b0" fill-opacity="0.64"/><rect x="21.44" y="21.35" width="0.8" height="0.8" fill="#b0b0b0" fill-opacity="0.62"/><rect x="20.29" y="4.98" width="1" height="0.8" fill="#b0b0b0" fill-opacity="0.81"/><rect x="20.39" y="12.34" width="1.2" height="0.8" fill="#b0b0b0" fill-opacity="0.59"/><rect x="16.56" y="2.17" width="1" height="1.2" fill="#b0b0b0" fill-opacity="0.7"/><rect x="22.32" y="18.38" width="0.8" height="1.2" fill="#b0b0b0" fill-opacity="0.54"/><rect x="38.81" y="21" width="1.5" height="1.2" fill="#b0b0b0" fill-opacity="0.79"/><rect x="34.55" y="38.55" width="1.5" height="0.8" fill="#b0b0b0" fill-opacity="0.58"/><rect x="31.89" y="4.38" width="1.5" height="0.8" fill="#b0b0b0" fill-opacity="0.61"/><rect x="24.74" y="16.2" width="1.5" height="1" fill="#b0b0b0" fill-opacity="0.95"/><rect x="21.73" y="30.5" width="0.8" height="1" fill="#b0b0b0" fill-opacity="0.68"/><rect x="3.13" y="10.43" width="0.8" height="1.2" fill="#b0b0b0" fill-opacity="0.96"/><rect x="13.15" y="19.56" width="1" height="1.2" fill="#b0b0b0" fill-opacity="0.99"/><rect x="37.08" y="3.89" width="1.2" height="1" fill="#b0b0b0" fill-opacity="0.86"/><rect x="10.33" y="14.71" width="1.5" height="1" fill="#b0b0b0" fill-opacity="0.66"/><rect x="25.95" y="13.35" width="0.8" height="0.8" fill="#b0b0b0" fill-opacity="0.62"/><rect x="21.24" y="6.53" width="1.5" height="1.2" fill="#b0b0b0" fill-opacity="0.63"/><rect x="32.75" y="27" width="1.2" height="0.8" fill="#b0b0b0" fill-opacity="0.62"/><rect x="19.36" y="9.21" width="1.5" height="1.2" fill="#b0b0b0" fill-opacity="0.45"/><rect x="16.26" y="38.65" width="0.8" height="1.2" fill="#b0b0b0" fill-opacity="0.78"/><rect x="38.43" y="14.63" width="1.2" height="1" fill="#b0b0b0" fill-opacity="0.57"/><rect x="30.51" y="2.24" width="1" height="1" fill="#b0b0b0" fill-opacity="0.51"/><rect x="30.34" y="13.79" width="0.8" height="0.8" fill="#b0b0b0" fill-opacity="0.59"/><rect x="10.8" y="31.83" width="1.5" height="1.2" fill="#b0b0b0" fill-opacity="0.92"/><rect x="16.09" y="11.43" width="0.8" height="0.8" fill="#b0b0b0" fill-opacity="0.67"/><rect x="9.01" y="10.01" width="0.8" height="1" fill="#b0b0b0" fill-opacity="0.53"/><rect x="6.24" y="11.42" width="1.2" height="0.8" fill="#b0b0b0" fill-opacity="1"/><rect x="19.61" y="15.81" width="0.8" height="1.2" fill="#b0b0b0" fill-opacity="0.53"/><rect x="13.6" y="28.71" width="1" height="1.2" fill="#b0b0b0" fill-opacity="0.75"/><rect x="32.95" y="19.17" width="1.2" height="1.2" fill="#b0b0b0" fill-opacity="0.79"/><rect x="36.54" y="32.85" width="1" height="0.8" fill="#b0b0b0" fill-opacity="0.69"/><rect x="30.06" y="15.11" width="1.5" height="1.2" fill="#b0b0b0" fill-opacity="0.69"/><rect x="4.72" y="12.8" width="0.8" height="0.8" fill="#b0b0b0" fill-opacity="0.98"/><rect x="14.24" y="33.27" width="0.8" height="1.2" fill="#b0b0b0" fill-opacity="0.52"/><rect x="12.4" y="38.15" width="0.8" height="0.8" fill="#b0b0b0" fill-opacity="0.5"/><rect x="12.97" y="5.6" width="0.8" height="0.8" fill="#b0b0b0" fill-opacity="0.93"/><rect x="18.9" y="1.26" width="1.5" height="1" fill="#b0b0b0" fill-opacity="0.56"/><rect x="28.12" y="19.78" width="1.5" height="1.2" fill="#b0b0b0" fill-opacity="0.89"/><rect x="20.46" y="19.27" width="1" height="1.2" fill="#b0b0b0" fill-opacity="0.63"/><rect x="0.59" y="32.93" width="1.2" height="1" fill="#b0b0b0" fill-opacity="0.78"/><rect x="20.8" y="15.54" width="1.5" height="1" fill="#b0b0b0" fill-opacity="0.87"/><rect x="5.91" y="28.15" width="1.5" height="1" fill="#b0b0b0" fill-opacity="0.5"/><rect x="19.58" y="25.3" width="1.2" height="1.2" fill="#b0b0b0" fill-opacity="0.68"/><rect x="1.8" y="36.87" width="1.2" height="1" fill="#b0b0b0" fill-opacity="0.58"/><rect x="8.53" y="36.32" width="0.8" height="1.2" fill="#b0b0b0" fill-opacity="0.55"/><rect x="16.55" y="21.24" width="1.5" height="1" fill="#b0b0b0" fill-opacity="0.51"/><rect x="7.45" y="24.8" width="1.2" height="1.2" fill="#b0b0b0" fill-opacity="0.92"/><rect x="1.4" y="27.94" width="1" height="1.2" fill="#b0b0b0" fill-opacity="0.72"/><rect x="19.58" y="17.87" width="1.2" height="1" fill="#b0b0b0" fill-opacity="0.5"/><rect x="31.36" y="8.74" width="1" height="1.2" fill="#b0b0b0" fill-opacity="0.86"/><rect x="13.77" y="6.52" width="1" height="1.2" fill="#b0b0b0" fill-opacity="0.54"/><rect x="39.84" y="14.75" width="1.2" height="1" fill="#b0b0b0" fill-opacity="0.51"/><rect x="31.5" y="32.28" width="1.2" height="0.8" fill="#b0b0b0" fill-opacity="0.59"/><rect x="0.81" y="21.49" width="1.2" height="1.2" fill="#b0b0b0" fill-opacity="0.61"/><rect x="10.11" y="5.26" width="1.5" height="0.8" fill="#b0b0b0" fill-opacity="0.6"/><rect x="11.4" y="11.1" width="1" height="1" fill="#b0b0b0" fill-opacity="0.54"/><rect x="34.38" y="34.19" width="0.8" height="1.2" fill="#b0b0b0" fill-opacity="0.89"/><rect x="6.51" y="30.02" width="1.2" height="1" fill="#b0b0b0" fill-opacity="0.48"/><rect x="37.47" y="14.51" width="1" height="1" fill="#b0b0b0" fill-opacity="0.7"/><rect x="14.82" y="29.17" width="1.2" height="1.2" fill="#b0b0b0" fill-opacity="0.85"/><rect x="35.42" y="3.01" width="0.8" height="1.2" fill="#b0b0b0" fill-opacity="0.97"/><rect x="26.29" y="2.87" width="0.8" height="0.8" fill="#b0b0b0" fill-opacity="0.96"/><rect x="38.44" y="7.81" width="1.2" height="1" fill="#b0b0b0" fill-opacity="0.64"/><rect x="5.63" y="37.97" width="0.8" height="0.8" fill="#b0b0b0" fill-opacity="0.47"/><rect x="22.84" y="39.31" width="0.8" height="1" fill="#b0b0b0" fill-opacity="0.74"/><rect x="7.38" y="21.07" width="1.2" height="1.2" fill="#b0b0b0" fill-opacity="0.72"/><rect x="7.9" y="28.2" width="1.5" height="0.8" fill="#b0b0b0" fill-opacity="0.72"/><rect x="3.15" y="19.48" width="0.8" height="0.8" fill="#b0b0b0" fill-opacity="0.94"/><rect x="10.24" y="8.78" width="1.2" height="0.8" fill="#b0b0b0" fill-opacity="0.99"/><rect x="38" y="37.01" width="1.5" height="0.8" fill="#b0b0b0" fill-opacity="0.78"/><rect x="31.82" y="39.86" width="1.2" height="0.8" fill="#b0b0b0" fill-opacity="0.5"/><rect x="20.77" y="38.38" width="0.8" height="0.8" fill="#b0b0b0" fill-opacity="0.51"/><rect x="34.76" y="38.29" width="0.8" height="1" fill="#b0b0b0" fill-opacity="0.47"/><rect x="33.19" y="27.54" width="0.8" height="0.8" fill="#b0b0b0" fill-opacity="0.65"/><rect x="38.33" y="8.65" width="1.5" height="0.8" fill="#b0b0b0" fill-opacity="0.67"/><rect x="13.42" y="13.87" width="0.8" height="0.8" fill="#b0b0b0" fill-opacity="0.59"/><rect x="23.43" y="21.04" width="1.2" height="1.2" fill="#b0b0b0" fill-opacity="0.82"/><rect x="18.2" y="9.38" width="1.5" height="0.8" fill="#b0b0b0" fill-opacity="0.56"/><rect x="8.46" y="18.05" width="1" height="1" fill="#b0b0b0" fill-opacity="0.55"/><rect x="27.12" y="24.41" width="1.2" height="1.2" fill="#b0b0b0" fill-opacity="0.93"/><rect x="7.38" y="9.29" width="1.2" height="1.2" fill="#b0b0b0" fill-opacity="0.63"/><rect x="29.06" y="26.97" width="1" height="1.2" fill="#b0b0b0" fill-opacity="0.5"/><rect x="27.39" y="20.15" width="1.5" height="0.8" fill="#b0b0b0" fill-opacity="0.47"/><rect x="22.28" y="5.52" width="1.2" height="0.8" fill="#b0b0b0" fill-opacity="0.95"/><rect x="39.62" y="15.49" width="1" height="1" fill="#b0b0b0" fill-opacity="0.88"/><rect x="31.29" y="13.53" width="1" height="1" fill="#b0b0b0" fill-opacity="0.95"/><rect x="22.49" y="37.76" width="0.8" height="1" fill="#b0b0b0" fill-opacity="0.99"/><rect x="36.47" y="2.08" width="0.8" height="1" fill="#b0b0b0" fill-opacity="0.97"/><rect x="16.99" y="6.34" width="0.8" height="0.8" fill="#b0b0b0" fill-opacity="0.54"/><rect x="19.71" y="9.04" width="1.2" height="1" fill="#b0b0b0" fill-opacity="0.53"/><rect x="5.45" y="32.14" width="1.2" height="0.8" fill="#b0b0b0" fill-opacity="0.56"/><rect x="5.43" y="27.13" width="1.5" height="1" fill="#b0b0b0" fill-opacity="0.65"/><rect x="4.81" y="10.92" width="0.8" height="0.8" fill="#b0b0b0" fill-opacity="0.85"/><rect x="27.05" y="4.93" width="1.2" height="0.8" fill="#b0b0b0" fill-opacity="0.77"/><rect x="10.96" y="20.88" width="1.5" height="1.2" fill="#b0b0b0" fill-opacity="0.59"/><rect x="3.69" y="26.14" width="0.8" height="0.8" fill="#b0b0b0" fill-opacity="0.96"/><rect x="39.02" y="37.37" width="1" height="0.8" fill="#b0b0b0" fill-opacity="0.98"/><rect x="25.53" y="4.19" width="1.5" height="1.2" fill="#b0b0b0" fill-opacity="0.7"/><rect x="24.12" y="33.84" width="1.5" height="0.8" fill="#b0b0b0" fill-opacity="0.55"/><rect x="37.76" y="39.12" width="0.8" height="1" fill="#b0b0b0" fill-opacity="0.87"/><rect x="16.02" y="2.08" width="1" height="0.8" fill="#b0b0b0" fill-opacity="0.55"/><rect x="29.46" y="8.46" width="0.8" height="0.8" fill="#b0b0b0" fill-opacity="0.57"/><rect x="31.97" y="19.97" width="0.8" height="1" fill="#b0b0b0" fill-opacity="0.46"/><rect x="13.68" y="6.65" width="0.8" height="1" fill="#b0b0b0" fill-opacity="0.59"/><rect x="24.75" y="14.77" width="1.5" height="1" fill="#b0b0b0" fill-opacity="0.79"/><rect x="12.68" y="14.26" width="1.5" height="1" fill="#b0b0b0" fill-opacity="0.75"/><rect x="18.41" y="13.3" width="1.5" height="0.8" fill="#b0b0b0" fill-opacity="0.82"/><rect x="24.87" y="35.64" width="1" height="1" fill="#b0b0b0" fill-opacity="0.73"/><rect x="39.38" y="11.55" width="1" height="1.2" fill="#b0b0b0" fill-opacity="0.62"/><rect x="22.2" y="16.15" width="1.2" height="1" fill="#b0b0b0" fill-opacity="0.8"/><rect x="25.35" y="0.13" width="1.5" height="1.2" fill="#b0b0b0" fill-opacity="0.51"/><rect x="29.81" y="32.02" width="1.5" height="1.2" fill="#b0b0b0" fill-opacity="0.45"/><rect x="19.86" y="10.76" width="1.5" height="0.8" fill="#b0b0b0" fill-opacity="0.5"/><rect x="19.9" y="19.27" width="1" height="0.8" fill="#b0b0b0" fill-opacity="0.6"/><rect x="17.71" y="3.38" width="0.8" height="0.8" fill="#b0b0b0" fill-opacity="0.77"/><rect x="15.94" y="1.67" width="1" height="1.2" fill="#b0b0b0" fill-opacity="0.73"/><rect x="17.05" y="22.21" width="0.8" height="1" fill="#b0b0b0" fill-opacity="0.92"/><rect x="6.06" y="12.64" width="1.2" height="0.8" fill="#b0b0b0" fill-opacity="0.81"/><rect x="27.58" y="17.84" width="1.2" height="1.2" fill="#b0b0b0" fill-opacity="0.95"/><rect x="27.4" y="31.9" width="1.2" height="1" fill="#b0b0b0" fill-opacity="0.89"/><rect x="7.05" y="32.59" width="1.2" height="1.2" fill="#b0b0b0" fill-opacity="0.58"/><rect x="36.78" y="0.91" width="1.2" height="1" fill="#b0b0b0" fill-opacity="0.89"/><rect x="24.42" y="36.44" width="0.8" height="1.2" fill="#b0b0b0" fill-opacity="0.54"/><rect x="10.39" y="11.52" width="1.5" height="1" fill="#b0b0b0" fill-opacity="0.59"/><rect x="24.41" y="30.99" width="1.2" height="1.2" fill="#b0b0b0" fill-opacity="0.79"/><rect x="5.01" y="29.07" width="0.8" height="1" fill="#b0b0b0" fill-opacity="0.93"/><rect x="30.75" y="31.41" width="0.8" height="1.2" fill="#b0b0b0" fill-opacity="0.6"/><rect x="19.75" y="36.98" width="1" height="1" fill="#b0b0b0" fill-opacity="0.84"/></pattern><pattern id="spk2" width="30" height="30" patternUnits="userSpaceOnUse"><rect x="14.24" y="19.72" width="1.2" height="0.8" fill="#c8c8c8" fill-opacity="0.66"/><rect x="29.9" y="14.48" width="1.5" height="1.2" fill="#c8c8c8" fill-opacity="0.93"/><rect x="6.83" y="0.05" width="1" height="1" fill="#c8c8c8" fill-opacity="0.65"/><rect x="10.19" y="6.31" width="1" height="0.8" fill="#c8c8c8" fill-opacity="0.73"/><rect x="24.58" y="20.44" width="0.8" height="0.8" fill="#c8c8c8" fill-opacity="0.96"/><rect x="24.59" y="19.86" width="1" height="0.8" fill="#c8c8c8" fill-opacity="0.99"/><rect x="12.71" y="13.31" width="1.5" height="0.8" fill="#c8c8c8" fill-opacity="0.75"/><rect x="26.46" y="16.74" width="0.8" height="1.2" fill="#c8c8c8" fill-opacity="0.54"/><rect x="24.47" y="12.02" width="1.5" height="1.2" fill="#c8c8c8" fill-opacity="0.78"/><rect x="14.3" y="11.54" width="0.8" height="1.2" fill="#c8c8c8" fill-opacity="0.85"/><rect x="29.02" y="29.29" width="1.2" height="1" fill="#c8c8c8" fill-opacity="0.97"/><rect x="25.98" y="11.57" width="1.2" height="0.8" fill="#c8c8c8" fill-opacity="0.59"/><rect x="10.06" y="11.14" width="1" height="0.8" fill="#c8c8c8" fill-opacity="0.66"/><rect x="25.77" y="0.98" width="0.8" height="0.8" fill="#c8c8c8" fill-opacity="0.82"/><rect x="1.3" y="6.13" width="0.8" height="1.2" fill="#c8c8c8" fill-opacity="0.57"/><rect x="2.34" y="8.21" width="1.5" height="1" fill="#c8c8c8" fill-opacity="0.72"/><rect x="18.06" y="21.78" width="1.5" height="1" fill="#c8c8c8" fill-opacity="0.56"/><rect x="8.46" y="14.29" width="1.5" height="0.8" fill="#c8c8c8" fill-opacity="0.98"/><rect x="5.03" y="27.73" width="1.2" height="0.8" fill="#c8c8c8" fill-opacity="0.55"/><rect x="22.46" y="27.36" width="0.8" height="1" fill="#c8c8c8" fill-opacity="0.95"/><rect x="24.04" y="5.39" width="0.8" height="1.2" fill="#c8c8c8" fill-opacity="0.47"/><rect x="18.57" y="29.51" width="1" height="0.8" fill="#c8c8c8" fill-opacity="0.96"/><rect x="26.46" y="20.06" width="1.2" height="1.2" fill="#c8c8c8" fill-opacity="0.51"/><rect x="23.53" y="15.07" width="1.5" height="1.2" fill="#c8c8c8" fill-opacity="0.64"/><rect x="20.54" y="13.34" width="1" height="1" fill="#c8c8c8" fill-opacity="0.61"/><rect x="26.2" y="8.35" width="1.5" height="1.2" fill="#c8c8c8" fill-opacity="0.89"/><rect x="22.02" y="15.63" width="0.8" height="1.2" fill="#c8c8c8" fill-opacity="0.45"/><rect x="0.82" y="16.74" width="1.2" height="1" fill="#c8c8c8" fill-opacity="0.53"/><rect x="6.01" y="14.15" width="0.8" height="1.2" fill="#c8c8c8" fill-opacity="0.76"/><rect x="21.56" y="28.09" width="1.2" height="0.8" fill="#c8c8c8" fill-opacity="0.68"/><rect x="17.65" y="27.03" width="1" height="1.2" fill="#c8c8c8" fill-opacity="0.76"/><rect x="29.4" y="19.14" width="1.5" height="1.2" fill="#c8c8c8" fill-opacity="0.54"/><rect x="20.66" y="4.66" width="0.8" height="0.8" fill="#c8c8c8" fill-opacity="0.94"/><rect x="27.32" y="16.05" width="1.5" height="0.8" fill="#c8c8c8" fill-opacity="0.84"/><rect x="5.67" y="8.12" width="1.5" height="1.2" fill="#c8c8c8" fill-opacity="0.79"/><rect x="6.36" y="17.97" width="1.5" height="1.2" fill="#c8c8c8" fill-opacity="0.59"/><rect x="12.21" y="9.71" width="1.2" height="0.8" fill="#c8c8c8" fill-opacity="0.83"/><rect x="21.62" y="9.32" width="1" height="1.2" fill="#c8c8c8" fill-opacity="0.81"/><rect x="28.04" y="10.97" width="0.8" height="0.8" fill="#c8c8c8" fill-opacity="0.72"/><rect x="13.31" y="5.38" width="1.2" height="1" fill="#c8c8c8" fill-opacity="0.58"/><rect x="9.82" y="28.31" width="0.8" height="1" fill="#c8c8c8" fill-opacity="0.65"/><rect x="25.46" y="20.65" width="1.2" height="0.8" fill="#c8c8c8" fill-opacity="0.73"/><rect x="4.4" y="27.08" width="1.2" height="0.8" fill="#c8c8c8" fill-opacity="0.73"/><rect x="11.67" y="15.03" width="1" height="1" fill="#c8c8c8" fill-opacity="0.7"/><rect x="25.64" y="24.95" width="1" height="1" fill="#c8c8c8" fill-opacity="0.75"/><rect x="22.84" y="11.86" width="1.5" height="1.2" fill="#c8c8c8" fill-opacity="0.48"/><rect x="3.19" y="17.11" width="1.2" height="1" fill="#c8c8c8" fill-opacity="0.87"/><rect x="0.51" y="23.25" width="1.2" height="1.2" fill="#c8c8c8" fill-opacity="0.62"/><rect x="4.08" y="6.77" width="1" height="1" fill="#c8c8c8" fill-opacity="0.72"/><rect x="12.87" y="10.94" width="1.5" height="1.2" fill="#c8c8c8" fill-opacity="0.78"/><rect x="11.67" y="26.19" width="1.2" height="0.8" fill="#c8c8c8" fill-opacity="0.52"/><rect x="19.23" y="25.28" width="1.5" height="1" fill="#c8c8c8" fill-opacity="0.68"/><rect x="19.75" y="10.2" width="1.5" height="1" fill="#c8c8c8" fill-opacity="0.66"/><rect x="11.99" y="24.22" width="1" height="0.8" fill="#c8c8c8" fill-opacity="0.91"/><rect x="3.29" y="8.04" width="0.8" height="1.2" fill="#c8c8c8" fill-opacity="0.93"/><rect x="24.63" y="10.76" width="1.2" height="0.8" fill="#c8c8c8" fill-opacity="0.92"/><rect x="9.33" y="26.18" width="0.8" height="1.2" fill="#c8c8c8" fill-opacity="0.62"/><rect x="0.39" y="5.13" width="1" height="0.8" fill="#c8c8c8" fill-opacity="0.84"/><rect x="8.9" y="5.7" width="1" height="1" fill="#c8c8c8" fill-opacity="0.75"/><rect x="0.65" y="27.32" width="1.2" height="1.2" fill="#c8c8c8" fill-opacity="0.72"/><rect x="6.01" y="2.94" width="0.8" height="1.2" fill="#c8c8c8" fill-opacity="0.52"/><rect x="11.78" y="14.59" width="1.2" height="1" fill="#c8c8c8" fill-opacity="0.65"/><rect x="25.21" y="25.59" width="0.8" height="1.2" fill="#c8c8c8" fill-opacity="0.91"/><rect x="0.62" y="4.65" width="1.2" height="1.2" fill="#c8c8c8" fill-opacity="0.51"/><rect x="25.3" y="23.89" width="1.5" height="1.2" fill="#c8c8c8" fill-opacity="0.66"/><rect x="2.15" y="27.51" width="1.2" height="0.8" fill="#c8c8c8" fill-opacity="0.58"/><rect x="12.69" y="24.18" width="0.8" height="0.8" fill="#c8c8c8" fill-opacity="0.47"/><rect x="20.6" y="16.94" width="0.8" height="1.2" fill="#c8c8c8" fill-opacity="0.58"/><rect x="27.78" y="14.26" width="1" height="1" fill="#c8c8c8" fill-opacity="0.87"/><rect x="12.71" y="16.29" width="1.2" height="0.8" fill="#c8c8c8" fill-opacity="0.66"/><rect x="19.68" y="10.12" width="0.8" height="1.2" fill="#c8c8c8" fill-opacity="0.96"/><rect x="10.87" y="8.95" width="1.5" height="1.2" fill="#c8c8c8" fill-opacity="0.53"/><rect x="8.33" y="5.92" width="0.8" height="1" fill="#c8c8c8" fill-opacity="0.69"/><rect x="10.2" y="12.16" width="1.2" height="1" fill="#c8c8c8" fill-opacity="0.78"/><rect x="22.96" y="26.45" width="1.5" height="1" fill="#c8c8c8" fill-opacity="0.56"/><rect x="18.73" y="16.08" width="1.2" height="0.8" fill="#c8c8c8" fill-opacity="0.58"/><rect x="11.56" y="18.37" width="1" height="1.2" fill="#c8c8c8" fill-opacity="0.82"/><rect x="13.21" y="8.37" width="1.2" height="1" fill="#c8c8c8" fill-opacity="0.99"/><rect x="3.58" y="17.61" width="1.5" height="0.8" fill="#c8c8c8" fill-opacity="0.65"/><rect x="4.68" y="18.63" width="1.2" height="1" fill="#c8c8c8" fill-opacity="0.63"/><rect x="11.23" y="27.2" width="1.2" height="1.2" fill="#c8c8c8" fill-opacity="0.78"/><rect x="2.14" y="18.74" width="1" height="1" fill="#c8c8c8" fill-opacity="0.79"/><rect x="18.48" y="25.75" width="1" height="1" fill="#c8c8c8" fill-opacity="0.63"/><rect x="29.75" y="19.27" width="0.8" height="1.2" fill="#c8c8c8" fill-opacity="0.63"/><rect x="16.12" y="25.05" width="0.8" height="1" fill="#c8c8c8" fill-opacity="0.54"/><rect x="14.56" y="2.72" width="1.2" height="0.8" fill="#c8c8c8" fill-opacity="0.89"/><rect x="6.86" y="2.02" width="1" height="0.8" fill="#c8c8c8" fill-opacity="0.56"/><rect x="19.14" y="19.12" width="1" height="1" fill="#c8c8c8" fill-opacity="0.86"/><rect x="9.3" y="3.97" width="1.5" height="1" fill="#c8c8c8" fill-opacity="0.69"/><rect x="11.66" y="8.19" width="1" height="0.8" fill="#c8c8c8" fill-opacity="0.77"/><rect x="23.53" y="14.55" width="1.2" height="1" fill="#c8c8c8" fill-opacity="0.67"/><rect x="4.1" y="2.23" width="1.2" height="1" fill="#c8c8c8" fill-opacity="0.82"/><rect x="8.7" y="14.42" width="1.5" height="1.2" fill="#c8c8c8" fill-opacity="0.62"/><rect x="7.77" y="12.41" width="0.8" height="0.8" fill="#c8c8c8" fill-opacity="0.48"/><rect x="3.51" y="9.22" width="1" height="0.8" fill="#c8c8c8" fill-opacity="0.52"/><rect x="24.96" y="11.39" width="1.5" height="1" fill="#c8c8c8" fill-opacity="0.78"/><rect x="27.99" y="4.38" width="1" height="1" fill="#c8c8c8" fill-opacity="0.92"/><rect x="27.29" y="27.95" width="1.2" height="0.8" fill="#c8c8c8" fill-opacity="0.52"/><rect x="6.22" y="25.32" width="0.8" height="0.8" fill="#c8c8c8" fill-opacity="0.59"/><rect x="16.01" y="27.2" width="0.8" height="1" fill="#c8c8c8" fill-opacity="0.79"/><rect x="5.56" y="25.13" width="0.8" height="1" fill="#c8c8c8" fill-opacity="0.62"/><rect x="29.73" y="11.52" width="1.5" height="0.8" fill="#c8c8c8" fill-opacity="0.49"/><rect x="27.61" y="15.66" width="1.5" height="1.2" fill="#c8c8c8" fill-opacity="0.45"/><rect x="15.13" y="12.45" width="1" height="0.8" fill="#c8c8c8" fill-opacity="0.63"/><rect x="2.18" y="20.33" width="1.2" height="1" fill="#c8c8c8" fill-opacity="0.57"/><rect x="12.22" y="23.99" width="1.5" height="1.2" fill="#c8c8c8" fill-opacity="0.49"/><rect x="20.39" y="1.35" width="1.2" height="1.2" fill="#c8c8c8" fill-opacity="0.98"/><rect x="20.77" y="10.4" width="0.8" height="0.8" fill="#c8c8c8" fill-opacity="0.51"/><rect x="24.23" y="1.92" width="1" height="0.8" fill="#c8c8c8" fill-opacity="0.88"/><rect x="15.1" y="5.03" width="1.2" height="0.8" fill="#c8c8c8" fill-opacity="0.91"/><rect x="0.59" y="4.34" width="1.5" height="1.2" fill="#c8c8c8" fill-opacity="0.7"/><rect x="9.79" y="5.03" width="1.2" height="0.8" fill="#c8c8c8" fill-opacity="0.61"/><rect x="22.67" y="13.01" width="1" height="0.8" fill="#c8c8c8" fill-opacity="0.96"/><rect x="10.65" y="8.78" width="1.5" height="1" fill="#c8c8c8" fill-opacity="0.68"/><rect x="9.76" y="16.99" width="0.8" height="1" fill="#c8c8c8" fill-opacity="0.79"/><rect x="16.78" y="4.18" width="0.8" height="1" fill="#c8c8c8" fill-opacity="0.58"/><rect x="16.36" y="23.46" width="1" height="0.8" fill="#c8c8c8" fill-opacity="0.5"/><rect x="28.76" y="18.29" width="1.5" height="1.2" fill="#c8c8c8" fill-opacity="0.64"/><rect x="8.03" y="1.35" width="1" height="1" fill="#c8c8c8" fill-opacity="0.62"/><rect x="1.54" y="28.78" width="1.2" height="1.2" fill="#c8c8c8" fill-opacity="0.83"/><rect x="27.04" y="25.81" width="0.8" height="0.8" fill="#c8c8c8" fill-opacity="0.82"/><rect x="14.81" y="24.24" width="1" height="1.2" fill="#c8c8c8" fill-opacity="0.56"/><rect x="27.14" y="16.02" width="1.5" height="1.2" fill="#c8c8c8" fill-opacity="0.63"/><rect x="5.73" y="27.59" width="1" height="1.2" fill="#c8c8c8" fill-opacity="0.83"/><rect x="15.9" y="21.52" width="1" height="0.8" fill="#c8c8c8" fill-opacity="0.56"/><rect x="12.34" y="5.27" width="0.8" height="1" fill="#c8c8c8" fill-opacity="0.71"/><rect x="27.7" y="13.52" width="0.8" height="1" fill="#c8c8c8" fill-opacity="0.81"/><rect x="27.24" y="5.07" width="1" height="1.2" fill="#c8c8c8" fill-opacity="0.77"/><rect x="2.52" y="21.04" width="1.2" height="1.2" fill="#c8c8c8" fill-opacity="0.77"/><rect x="5.11" y="6.99" width="1.5" height="1.2" fill="#c8c8c8" fill-opacity="0.94"/><rect x="4.78" y="2.66" width="1.5" height="1.2" fill="#c8c8c8" fill-opacity="1"/><rect x="16.86" y="6.89" width="1.5" height="0.8" fill="#c8c8c8" fill-opacity="0.94"/><rect x="15.5" y="17.83" width="1.2" height="1" fill="#c8c8c8" fill-opacity="0.49"/><rect x="4.89" y="8.16" width="0.8" height="1" fill="#c8c8c8" fill-opacity="0.78"/><rect x="13.52" y="15.61" width="1" height="1.2" fill="#c8c8c8" fill-opacity="0.69"/><rect x="25.87" y="5.49" width="0.8" height="1.2" fill="#c8c8c8" fill-opacity="0.95"/><rect x="0.25" y="22.03" width="1" height="1" fill="#c8c8c8" fill-opacity="0.61"/><rect x="6.23" y="13.17" width="0.8" height="1.2" fill="#c8c8c8" fill-opacity="0.55"/><rect x="8.86" y="23.82" width="1.5" height="0.8" fill="#c8c8c8" fill-opacity="0.91"/><rect x="29.33" y="0.32" width="0.8" height="0.8" fill="#c8c8c8" fill-opacity="0.46"/><rect x="22.79" y="11.13" width="1.2" height="1.2" fill="#c8c8c8" fill-opacity="0.65"/><rect x="27.5" y="17.54" width="1.5" height="1.2" fill="#c8c8c8" fill-opacity="0.89"/><rect x="2.9" y="21.03" width="1.5" height="1" fill="#c8c8c8" fill-opacity="0.97"/><rect x="27.42" y="29.96" width="0.8" height="1" fill="#c8c8c8" fill-opacity="0.6"/><rect x="20.88" y="26.56" width="1.2" height="1" fill="#c8c8c8" fill-opacity="0.71"/><rect x="0.12" y="2.55" width="0.8" height="0.8" fill="#c8c8c8" fill-opacity="0.58"/><rect x="27.98" y="20.38" width="1.5" height="1.2" fill="#c8c8c8" fill-opacity="0.87"/><rect x="11.6" y="2.02" width="1" height="1.2" fill="#c8c8c8" fill-opacity="0.69"/><rect x="20.63" y="22.34" width="1.5" height="1" fill="#c8c8c8" fill-opacity="0.75"/><rect x="28.88" y="7.08" width="0.8" height="0.8" fill="#c8c8c8" fill-opacity="0.62"/></pattern><pattern id="dot3" width="3.2" height="3.2" patternUnits="userSpaceOnUse"><rect x="0.6" y="0.6" width="1.3" height="1.3" fill="#8c8c8c"/></pattern><pattern id="wallh" width="3" height="3" patternUnits="userSpaceOnUse"><rect width="3" height="3" fill="#383836"/><rect x="0" y="0" width="1.5" height="1.5" fill="#5a5a56"/></pattern><pattern id="ftile" width="3.4" height="3.4" patternUnits="userSpaceOnUse"><rect width="3.4" height="3.4" fill="#3a3a3a"/><circle cx="1.7" cy="1.7" r="1.1" fill="none" stroke="#9a9a9a" stroke-width="0.7"/></pattern><pattern id="gran" width="24" height="24" patternUnits="userSpaceOnUse"><rect width="24" height="24" fill="#0c0c0c"/><rect x="3.96" y="16.55" width="1.2" height="1" fill="#9a9a9a" fill-opacity="0.91"/><rect x="23.75" y="11.39" width="1" height="1.2" fill="#9a9a9a" fill-opacity="0.74"/><rect x="18.92" y="0.34" width="1.5" height="0.8" fill="#9a9a9a" fill-opacity="0.53"/><rect x="18.03" y="22.12" width="0.8" height="1" fill="#9a9a9a" fill-opacity="1"/><rect x="17.73" y="21" width="1.5" height="0.8" fill="#9a9a9a" fill-opacity="0.98"/><rect x="12.96" y="16.65" width="1.2" height="0.8" fill="#9a9a9a" fill-opacity="0.54"/><rect x="19.62" y="3" width="0.8" height="1" fill="#9a9a9a" fill-opacity="0.54"/><rect x="17.48" y="9.63" width="1" height="0.8" fill="#9a9a9a" fill-opacity="0.82"/><rect x="11.28" y="19.68" width="0.8" height="0.8" fill="#9a9a9a" fill-opacity="0.56"/><rect x="23.25" y="21.46" width="0.8" height="0.8" fill="#9a9a9a" fill-opacity="0.76"/><rect x="13.41" y="9.31" width="1.2" height="0.8" fill="#9a9a9a" fill-opacity="0.94"/><rect x="9.83" y="8.77" width="1.5" height="1.2" fill="#9a9a9a" fill-opacity="0.66"/><rect x="23.88" y="9.28" width="0.8" height="0.8" fill="#9a9a9a" fill-opacity="0.54"/><rect x="17.18" y="23.58" width="0.8" height="1" fill="#9a9a9a" fill-opacity="0.49"/><rect x="14.39" y="12.53" width="1.2" height="1.2" fill="#9a9a9a" fill-opacity="0.99"/><rect x="2.71" y="16.07" width="1.2" height="1" fill="#9a9a9a" fill-opacity="0.64"/><rect x="14.33" y="7.36" width="0.8" height="0.8" fill="#9a9a9a" fill-opacity="0.49"/><rect x="19.53" y="18.65" width="1.2" height="0.8" fill="#9a9a9a" fill-opacity="0.83"/><rect x="16.22" y="21.57" width="1" height="1" fill="#9a9a9a" fill-opacity="0.95"/><rect x="3.91" y="17.8" width="0.8" height="1" fill="#9a9a9a" fill-opacity="0.72"/><rect x="9.01" y="5.93" width="1" height="0.8" fill="#9a9a9a" fill-opacity="0.76"/><rect x="10.54" y="9.78" width="1.5" height="0.8" fill="#9a9a9a" fill-opacity="0.91"/><rect x="1.25" y="6.19" width="1.2" height="0.8" fill="#9a9a9a" fill-opacity="0.68"/><rect x="4.1" y="1.67" width="1.2" height="1.2" fill="#9a9a9a" fill-opacity="0.94"/><rect x="23.6" y="17.9" width="1.5" height="0.8" fill="#9a9a9a" fill-opacity="0.59"/><rect x="23.01" y="12.62" width="1.5" height="0.8" fill="#9a9a9a" fill-opacity="0.97"/><rect x="21.59" y="8.78" width="1" height="1" fill="#9a9a9a" fill-opacity="0.78"/><rect x="10.23" y="13.95" width="1.5" height="1" fill="#9a9a9a" fill-opacity="0.53"/><rect x="14.12" y="3.34" width="0.8" height="1" fill="#9a9a9a" fill-opacity="0.83"/><rect x="22.9" y="0.56" width="1.2" height="1.2" fill="#9a9a9a" fill-opacity="0.59"/><rect x="22.94" y="10.11" width="1.5" height="0.8" fill="#9a9a9a" fill-opacity="0.52"/><rect x="2.28" y="2.25" width="0.8" height="1.2" fill="#9a9a9a" fill-opacity="0.7"/><rect x="3.38" y="20.82" width="1.2" height="0.8" fill="#9a9a9a" fill-opacity="0.62"/><rect x="22.61" y="9.51" width="1" height="1.2" fill="#9a9a9a" fill-opacity="0.54"/><rect x="4.41" y="9.07" width="0.8" height="1.2" fill="#9a9a9a" fill-opacity="0.84"/><rect x="20.97" y="18.58" width="0.8" height="1" fill="#9a9a9a" fill-opacity="0.71"/><rect x="1.52" y="18.33" width="1" height="1.2" fill="#9a9a9a" fill-opacity="0.58"/><rect x="23.14" y="14.52" width="0.8" height="0.8" fill="#9a9a9a" fill-opacity="0.66"/><rect x="7.43" y="21.62" width="1.2" height="1.2" fill="#9a9a9a" fill-opacity="0.89"/><rect x="11.76" y="13.75" width="0.8" height="1.2" fill="#9a9a9a" fill-opacity="0.78"/><rect x="7.77" y="12.4" width="1.2" height="1.2" fill="#9a9a9a" fill-opacity="0.79"/><rect x="18.19" y="4.55" width="1.2" height="0.8" fill="#9a9a9a" fill-opacity="0.65"/><rect x="7.63" y="23.84" width="0.8" height="0.8" fill="#9a9a9a" fill-opacity="0.81"/><rect x="15.04" y="19.38" width="1.5" height="1.2" fill="#9a9a9a" fill-opacity="0.79"/><rect x="0.47" y="15.47" width="1.5" height="1" fill="#9a9a9a" fill-opacity="0.73"/><rect x="9.35" y="9.64" width="1" height="0.8" fill="#9a9a9a" fill-opacity="0.48"/><rect x="10.41" y="5.93" width="1.5" height="1.2" fill="#9a9a9a" fill-opacity="0.68"/><rect x="19.14" y="9.57" width="1.2" height="1" fill="#9a9a9a" fill-opacity="0.58"/><rect x="21.95" y="15.7" width="0.8" height="1" fill="#9a9a9a" fill-opacity="0.55"/><rect x="8.95" y="14.51" width="1" height="1" fill="#9a9a9a" fill-opacity="0.79"/><rect x="18.2" y="16.03" width="1.2" height="0.8" fill="#9a9a9a" fill-opacity="0.71"/><rect x="11.97" y="7.34" width="1.5" height="1.2" fill="#9a9a9a" fill-opacity="0.98"/><rect x="23.74" y="0.15" width="1.2" height="0.8" fill="#9a9a9a" fill-opacity="0.62"/><rect x="9.39" y="3.49" width="1" height="0.8" fill="#9a9a9a" fill-opacity="0.74"/><rect x="14.88" y="9.01" width="1.5" height="0.8" fill="#9a9a9a" fill-opacity="0.99"/><rect x="3.99" y="10.4" width="1.2" height="1" fill="#9a9a9a" fill-opacity="0.8"/><rect x="16.36" y="6.26" width="0.8" height="1" fill="#9a9a9a" fill-opacity="0.73"/><rect x="22.68" y="23.21" width="1" height="0.8" fill="#9a9a9a" fill-opacity="0.78"/><rect x="6.66" y="9.1" width="1.5" height="1" fill="#9a9a9a" fill-opacity="0.67"/><rect x="11.06" y="15.98" width="1" height="1.2" fill="#9a9a9a" fill-opacity="0.66"/><rect x="6.54" y="4.52" width="1" height="0.8" fill="#9a9a9a" fill-opacity="0.64"/><rect x="15.11" y="20.93" width="1.2" height="0.8" fill="#9a9a9a" fill-opacity="0.49"/><rect x="13.92" y="9.56" width="1.5" height="1.2" fill="#9a9a9a" fill-opacity="0.7"/><rect x="23.78" y="22.6" width="1" height="0.8" fill="#9a9a9a" fill-opacity="0.99"/><rect x="4.57" y="8.89" width="0.8" height="1" fill="#9a9a9a" fill-opacity="0.54"/><rect x="13.7" y="21.89" width="1.5" height="1.2" fill="#9a9a9a" fill-opacity="0.91"/><rect x="7.41" y="10.01" width="1" height="0.8" fill="#9a9a9a" fill-opacity="0.77"/><rect x="19.77" y="14.03" width="1.5" height="0.8" fill="#9a9a9a" fill-opacity="0.81"/><rect x="1.75" y="10.46" width="1" height="0.8" fill="#9a9a9a" fill-opacity="0.48"/><rect x="19.56" y="14.56" width="1.5" height="1" fill="#9a9a9a" fill-opacity="0.82"/><rect x="16.23" y="3.66" width="1" height="1" fill="#9a9a9a" fill-opacity="0.61"/><rect x="15.36" y="0.22" width="0.8" height="1.2" fill="#9a9a9a" fill-opacity="0.49"/><rect x="12.28" y="16.27" width="1" height="1" fill="#9a9a9a" fill-opacity="0.6"/><rect x="1.41" y="0.89" width="1.5" height="1" fill="#9a9a9a" fill-opacity="0.82"/><rect x="15.68" y="3.8" width="0.8" height="0.8" fill="#9a9a9a" fill-opacity="0.96"/><rect x="12.93" y="9.8" width="1" height="1.2" fill="#9a9a9a" fill-opacity="0.97"/><rect x="10.16" y="7.79" width="1" height="0.8" fill="#9a9a9a" fill-opacity="0.73"/><rect x="17.47" y="14.56" width="1" height="0.8" fill="#9a9a9a" fill-opacity="0.84"/><rect x="11.85" y="3.89" width="1.5" height="0.8" fill="#9a9a9a" fill-opacity="0.95"/><rect x="16.31" y="5.22" width="0.8" height="1" fill="#9a9a9a" fill-opacity="0.66"/><rect x="22.6" y="22.48" width="1.2" height="0.8" fill="#9a9a9a" fill-opacity="0.95"/><rect x="4.16" y="6.36" width="0.8" height="1" fill="#9a9a9a" fill-opacity="0.81"/><rect x="3.88" y="22.34" width="1.5" height="0.8" fill="#9a9a9a" fill-opacity="0.57"/><rect x="12.35" y="6.86" width="1.5" height="1.2" fill="#9a9a9a" fill-opacity="0.87"/><rect x="22.92" y="21.84" width="1" height="1" fill="#9a9a9a" fill-opacity="0.78"/><rect x="8.45" y="16.12" width="1.2" height="1.2" fill="#9a9a9a" fill-opacity="0.52"/><rect x="0.65" y="10.15" width="0.8" height="1.2" fill="#9a9a9a" fill-opacity="0.86"/><rect x="17.8" y="5.1" width="1.2" height="1.2" fill="#9a9a9a" fill-opacity="0.61"/><rect x="3.87" y="15.89" width="1.5" height="1" fill="#9a9a9a" fill-opacity="0.86"/><rect x="15.62" y="6.07" width="1.5" height="1" fill="#9a9a9a" fill-opacity="0.57"/><rect x="11.45" y="0.97" width="1.5" height="0.8" fill="#9a9a9a" fill-opacity="0.47"/><rect x="19.75" y="14.07" width="1.2" height="1.2" fill="#9a9a9a" fill-opacity="0.53"/><rect x="5.25" y="3.8" width="1" height="1" fill="#9a9a9a" fill-opacity="0.47"/><rect x="18.66" y="20.8" width="1.2" height="1.2" fill="#9a9a9a" fill-opacity="0.91"/><rect x="10.99" y="11.66" width="1.5" height="1.2" fill="#9a9a9a" fill-opacity="0.48"/><rect x="8.89" y="19.83" width="1.5" height="1" fill="#9a9a9a" fill-opacity="0.7"/><rect x="9.35" y="15.08" width="0.8" height="1" fill="#9a9a9a" fill-opacity="0.86"/><rect x="9" y="6.01" width="1.5" height="0.8" fill="#9a9a9a" fill-opacity="0.96"/><rect x="4.77" y="20.34" width="0.8" height="1.2" fill="#9a9a9a" fill-opacity="0.62"/><rect x="15.21" y="3.51" width="1.2" height="0.8" fill="#9a9a9a" fill-opacity="0.83"/><rect x="7.1" y="5.24" width="1" height="0.8" fill="#9a9a9a" fill-opacity="0.72"/><rect x="17.11" y="5.23" width="1.2" height="1.2" fill="#9a9a9a" fill-opacity="0.74"/><rect x="0.22" y="20.23" width="1.2" height="0.8" fill="#9a9a9a" fill-opacity="0.59"/><rect x="19.8" y="1.45" width="0.8" height="1.2" fill="#9a9a9a" fill-opacity="0.58"/><rect x="16.91" y="11.71" width="1.2" height="1" fill="#9a9a9a" fill-opacity="0.8"/><rect x="15.26" y="8.78" width="1.2" height="1" fill="#9a9a9a" fill-opacity="0.87"/><rect x="15.26" y="10.97" width="1" height="1" fill="#9a9a9a" fill-opacity="0.88"/><rect x="0.48" y="15.44" width="1.5" height="0.8" fill="#9a9a9a" fill-opacity="0.88"/><rect x="21.65" y="17.98" width="1.2" height="1" fill="#9a9a9a" fill-opacity="0.53"/><rect x="0.32" y="6.51" width="1.2" height="1" fill="#9a9a9a" fill-opacity="0.57"/><rect x="1.16" y="4.48" width="1" height="0.8" fill="#9a9a9a" fill-opacity="0.79"/><rect x="20.34" y="5.3" width="0.8" height="0.8" fill="#9a9a9a" fill-opacity="0.74"/><rect x="2.77" y="9.73" width="0.8" height="0.8" fill="#9a9a9a" fill-opacity="0.84"/><rect x="5" y="0.43" width="1" height="0.8" fill="#9a9a9a" fill-opacity="0.78"/><rect x="2.31" y="4.89" width="0.8" height="1" fill="#9a9a9a" fill-opacity="0.62"/><rect x="7.64" y="21.92" width="1.2" height="1" fill="#9a9a9a" fill-opacity="0.47"/><rect x="11.96" y="21.39" width="1.5" height="0.8" fill="#9a9a9a" fill-opacity="0.47"/><rect x="15.37" y="18.7" width="1.2" height="1" fill="#9a9a9a" fill-opacity="0.85"/><rect x="12.74" y="3.94" width="1.2" height="1" fill="#9a9a9a" fill-opacity="0.82"/><rect x="15.74" y="9.34" width="1.2" height="0.8" fill="#9a9a9a" fill-opacity="0.51"/><rect x="14.04" y="11.68" width="1" height="1.2" fill="#9a9a9a" fill-opacity="0.53"/><rect x="7.4" y="2.69" width="1.5" height="0.8" fill="#9a9a9a" fill-opacity="0.48"/><rect x="17.9" y="19.86" width="0.8" height="1.2" fill="#9a9a9a" fill-opacity="0.98"/><rect x="5.23" y="21.2" width="1" height="0.8" fill="#9a9a9a" fill-opacity="0.72"/><rect x="7.31" y="7.92" width="1" height="0.8" fill="#9a9a9a" fill-opacity="0.68"/><rect x="4.81" y="0.76" width="1" height="0.8" fill="#9a9a9a" fill-opacity="0.93"/><rect x="8.08" y="16.01" width="1" height="1.2" fill="#9a9a9a" fill-opacity="0.98"/><rect x="5.97" y="8.51" width="1.5" height="0.8" fill="#9a9a9a" fill-opacity="0.6"/><rect x="14.26" y="19.96" width="1.2" height="1" fill="#9a9a9a" fill-opacity="0.53"/><rect x="8.83" y="21.66" width="1" height="1" fill="#9a9a9a" fill-opacity="0.82"/><rect x="18.53" y="16.22" width="0.8" height="0.8" fill="#9a9a9a" fill-opacity="0.59"/><rect x="23.92" y="7.86" width="1.5" height="0.8" fill="#9a9a9a" fill-opacity="0.85"/><rect x="0.67" y="13.87" width="1.2" height="0.8" fill="#9a9a9a" fill-opacity="0.89"/><rect x="14.7" y="17.85" width="0.8" height="0.8" fill="#9a9a9a" fill-opacity="0.94"/><rect x="19.76" y="23.48" width="1.5" height="1.2" fill="#9a9a9a" fill-opacity="0.84"/><rect x="12.33" y="23.26" width="1.5" height="1" fill="#9a9a9a" fill-opacity="0.82"/><rect x="7.08" y="3.11" width="1.5" height="0.8" fill="#9a9a9a" fill-opacity="0.53"/><rect x="0.1" y="2.22" width="1.5" height="0.8" fill="#9a9a9a" fill-opacity="0.87"/><rect x="1.16" y="15.28" width="0.8" height="0.8" fill="#9a9a9a" fill-opacity="0.73"/><rect x="7.1" y="10.7" width="1.2" height="1" fill="#9a9a9a" fill-opacity="0.87"/><rect x="22.82" y="13.3" width="1.2" height="1" fill="#9a9a9a" fill-opacity="0.45"/><rect x="9.82" y="19" width="1.2" height="1" fill="#9a9a9a" fill-opacity="0.79"/><rect x="7.5" y="16.84" width="1.2" height="0.8" fill="#9a9a9a" fill-opacity="0.74"/><rect x="15.63" y="15.12" width="1" height="1.2" fill="#9a9a9a" fill-opacity="0.54"/><rect x="2.2" y="19.07" width="1" height="0.8" fill="#9a9a9a" fill-opacity="0.98"/><rect x="1.04" y="18.94" width="1" height="1.2" fill="#9a9a9a" fill-opacity="0.46"/><rect x="19.28" y="4.16" width="1" height="0.8" fill="#9a9a9a" fill-opacity="0.92"/><rect x="14.92" y="4.05" width="1" height="0.8" fill="#9a9a9a" fill-opacity="0.55"/><rect x="17.57" y="9.9" width="1.2" height="0.8" fill="#9a9a9a" fill-opacity="0.85"/><rect x="9.22" y="19.08" width="1.2" height="1.2" fill="#9a9a9a" fill-opacity="0.96"/><rect x="0.99" y="7.18" width="1" height="1" fill="#9a9a9a" fill-opacity="0.9"/><rect x="18.47" y="4.54" width="0.8" height="1.2" fill="#9a9a9a" fill-opacity="0.98"/><rect x="22.04" y="11.06" width="1" height="0.8" fill="#9a9a9a" fill-opacity="0.85"/><rect x="10.52" y="1.2" width="1.5" height="1" fill="#9a9a9a" fill-opacity="0.5"/><rect x="17.15" y="11.68" width="1" height="1.2" fill="#9a9a9a" fill-opacity="0.95"/><rect x="14.79" y="0.21" width="0.8" height="1" fill="#9a9a9a" fill-opacity="0.74"/><rect x="17.32" y="0.05" width="0.8" height="1" fill="#9a9a9a" fill-opacity="0.5"/><rect x="9.78" y="23.61" width="1.5" height="1" fill="#9a9a9a" fill-opacity="0.72"/><rect x="6.37" y="13.58" width="1" height="1" fill="#9a9a9a" fill-opacity="0.49"/><rect x="21.88" y="3.83" width="1.5" height="1.2" fill="#9a9a9a" fill-opacity="0.62"/></pattern><filter id="glow" x="-5%" y="-5%" width="110%" height="110%"><feGaussianBlur stdDeviation="1.6"/></filter></defs>
<rect x="0" y="0" width="1500" height="1098" fill="#000" stroke="none" stroke-width="1" />
<rect x="5.5" y="4.5" width="1488.8" height="1087.1" fill="none" stroke="#f2a77a" stroke-width="1.6" />
<line x1="1314" y1="4.5" x2="1314" y2="1091.6" stroke="#f2a77a" stroke-width="1.6" />
<line x1="5.5" y1="932.8" x2="1314" y2="932.8" stroke="#8ccfe0" stroke-width="1.4" />
<rect x="1318.6" y="10" width="172" height="26.6" fill="none" stroke="#cdcdcd" stroke-width="1.4" />
<line x1="1392.8" y1="10" x2="1392.8" y2="36.6" stroke="#cdcdcd" stroke-width="1.3" />
<text x="1320.6" y="24.85" font-size="6.8" fill="#ffffff"  textLength="69.5" lengthAdjust="spacingAndGlyphs"  font-weight="bold" >NGÀY HOÀN THÀNH</text>
<line x1="1320.6" y1="26.65" x2="1390.1" y2="26.65" stroke="#ffffff" stroke-width="1.1" />
<text x="1438.3" y="25.6" font-size="9.5" fill="#ffffff" text-anchor="middle" textLength="33.5" lengthAdjust="spacingAndGlyphs"  font-weight="bold" >02/2015</text>
<rect x="1318.6" y="39.6" width="172" height="117.4" fill="none" stroke="#cdcdcd" stroke-width="1.4" />
<text x="1399.5" y="56" font-size="8.6" fill="#ffffff" text-anchor="middle" textLength="43" lengthAdjust="spacingAndGlyphs"  font-weight="bold" >HIỆU ĐÍNH</text>
<line x1="1318.6" y1="69" x2="1490.6" y2="69" stroke="#cdcdcd" stroke-width="1.3" />
<line x1="1318.6" y1="88.8" x2="1490.6" y2="88.8" stroke="#cdcdcd" stroke-width="1.3" />
<line x1="1318.6" y1="111.5" x2="1490.6" y2="111.5" stroke="#cdcdcd" stroke-width="1.3" />
<line x1="1318.6" y1="134" x2="1490.6" y2="134" stroke="#cdcdcd" stroke-width="1.3" />
<line x1="1352.5" y1="69" x2="1352.5" y2="157" stroke="#cdcdcd" stroke-width="1.3" />
<line x1="1392.9" y1="69" x2="1392.9" y2="157" stroke="#cdcdcd" stroke-width="1.3" />
<line x1="1441.3" y1="69" x2="1441.3" y2="157" stroke="#cdcdcd" stroke-width="1.3" />
<text x="1335.5" y="82.9" font-size="8.4" fill="#ffffff" text-anchor="middle" textLength="15" lengthAdjust="spacingAndGlyphs"  font-weight="bold" >LẦN</text>
<text x="1372.3" y="82.9" font-size="8.4" fill="#ffffff" text-anchor="middle" textLength="23.5" lengthAdjust="spacingAndGlyphs"  font-weight="bold" >NGÀY</text>
<text x="1419" y="82.9" font-size="8.4" fill="#ffffff" text-anchor="middle" textLength="30" lengthAdjust="spacingAndGlyphs"  font-weight="bold" >THIẾT KẾ</text>
<text x="1464" y="82.9" font-size="8.4" fill="#ffffff" text-anchor="middle" textLength="23" lengthAdjust="spacingAndGlyphs"  font-weight="bold" >DUYỆT</text>
<rect x="1318.6" y="159.3" width="172" height="126.3" fill="none" stroke="#cdcdcd" stroke-width="1.4" />
<text x="1320.6" y="170.52" font-size="7" fill="#ffffff"  textLength="46.5" lengthAdjust="spacingAndGlyphs"  font-weight="bold" >CHỦ ĐẦU TƯ</text>
<line x1="1320.6" y1="172.32" x2="1367.1" y2="172.32" stroke="#ffffff" stroke-width="1.1" />
<text x="1320.6" y="247.02" font-size="7" fill="#ffffff"  textLength="29" lengthAdjust="spacingAndGlyphs"  font-weight="bold" >ĐỊA CHỈ</text>
<line x1="1320.6" y1="248.82" x2="1349.6" y2="248.82" stroke="#ffffff" stroke-width="1.1" />
<rect x="1318.6" y="288" width="172" height="124.6" fill="none" stroke="#cdcdcd" stroke-width="1.4" />
<text x="1323.3" y="299.52" font-size="7" fill="#ffffff"  textLength="64" lengthAdjust="spacingAndGlyphs"  font-weight="bold" >TÊN CÔNG TRÌNH</text>
<line x1="1323.3" y1="301.32" x2="1387.3" y2="301.32" stroke="#ffffff" stroke-width="1.1" />
<text x="1402.7" y="341.3" font-size="16.2" fill="#ffffff" text-anchor="middle" textLength="126.5" lengthAdjust="spacingAndGlyphs"   >NHÀ Ở GIA ĐÌNH</text>
<text x="1321.9" y="373.82" font-size="7" fill="#ffffff"  textLength="78.5" lengthAdjust="spacingAndGlyphs"  font-weight="bold" >ĐỊA ĐIỂM XÂY DỰNG</text>
<line x1="1321.9" y1="375.62" x2="1400.4" y2="375.62" stroke="#ffffff" stroke-width="1.1" />
<text x="1399.2" y="405" font-size="8" fill="#ffffff" text-anchor="middle" textLength="87.5" lengthAdjust="spacingAndGlyphs"  font-weight="bold" >TP.TAM KỲ - QUẢNG NAM</text>
<rect x="1318.2" y="415.7" width="172.8" height="172" fill="none" stroke="#e8a060" stroke-width="1.8" />
<rect x="1324.8" y="420.6" width="159.4" height="161.2" fill="none" stroke="#cdcdcd" stroke-width="1.3" />
<line x1="1318.2" y1="415.7" x2="1324.8" y2="420.6" stroke="#cdcdcd" stroke-width="1.1" />
<line x1="1491" y1="415.7" x2="1484.2" y2="420.6" stroke="#cdcdcd" stroke-width="1.1" />
<line x1="1318.2" y1="587.7" x2="1324.8" y2="581.8" stroke="#cdcdcd" stroke-width="1.1" />
<line x1="1491" y1="587.7" x2="1484.2" y2="581.8" stroke="#cdcdcd" stroke-width="1.1" />
<rect x="1318.6" y="590.4" width="172" height="351.4" fill="none" stroke="#cdcdcd" stroke-width="1.4" />
<line x1="1318.6" y1="679" x2="1490.6" y2="679" stroke="#cdcdcd" stroke-width="1.3" />
<line x1="1318.6" y1="766" x2="1490.6" y2="766" stroke="#cdcdcd" stroke-width="1.3" />
<line x1="1318.6" y1="854" x2="1490.6" y2="854" stroke="#cdcdcd" stroke-width="1.3" />
<text x="1319.8" y="601.52" font-size="7" fill="#ffffff"  textLength="69" lengthAdjust="spacingAndGlyphs"  font-weight="bold" >TỔNG GIÁM ĐỐC</text>
<line x1="1319.8" y1="603.32" x2="1388.8" y2="603.32" stroke="#ffffff" stroke-width="1.1" />
<text x="1319.8" y="688.52" font-size="7" fill="#ffffff"  textLength="61" lengthAdjust="spacingAndGlyphs"  font-weight="bold" >CHỦ TRÌ THIẾT KẾ</text>
<line x1="1319.8" y1="690.32" x2="1380.8" y2="690.32" stroke="#ffffff" stroke-width="1.1" />
<text x="1319.8" y="775.52" font-size="7" fill="#ffffff"  textLength="46" lengthAdjust="spacingAndGlyphs"  font-weight="bold" >THIẾT KẾ - VẼ</text>
<line x1="1319.8" y1="777.32" x2="1365.8" y2="777.32" stroke="#ffffff" stroke-width="1.1" />
<text x="1319.8" y="864.52" font-size="7" fill="#ffffff"  textLength="35" lengthAdjust="spacingAndGlyphs"  font-weight="bold" >KIỂM TRA</text>
<line x1="1319.8" y1="866.32" x2="1354.8" y2="866.32" stroke="#ffffff" stroke-width="1.1" />
<rect x="1318.6" y="944" width="172" height="104.4" fill="none" stroke="#cdcdcd" stroke-width="1.4" />
<text x="1320.6" y="957.52" font-size="7" fill="#ffffff"  textLength="44" lengthAdjust="spacingAndGlyphs"  font-weight="bold" >TÊN BẢN VẼ</text>
<line x1="1320.6" y1="959.32" x2="1364.6" y2="959.32" stroke="#ffffff" stroke-width="1.1" />
<text x="1396.8" y="1022.6" font-size="13.5" fill="#ffffff" text-anchor="middle" textLength="120" lengthAdjust="spacingAndGlyphs"  font-weight="bold" >MẶT BẰNG LÁT SÀN TẦNG 2</text>
<rect x="1318.6" y="1051.4" width="172" height="36.2" fill="none" stroke="#cdcdcd" stroke-width="1.4" />
<line x1="1392.9" y1="1051.4" x2="1392.9" y2="1087.6" stroke="#cdcdcd" stroke-width="1.3" />
<text x="1320.6" y="1070.23" font-size="6.2" fill="#ffffff"  textLength="20" lengthAdjust="spacingAndGlyphs"  font-weight="bold" >TỈ LỆ</text>
<line x1="1320.6" y1="1072.03" x2="1340.6" y2="1072.03" stroke="#ffffff" stroke-width="1.1" />
<text x="1440.5" y="1075.3" font-size="19.5" fill="#ffffff" text-anchor="middle" textLength="47" lengthAdjust="spacingAndGlyphs"   >KT-10</text>
<rect x="48" y="991" width="32" height="31.5" fill="none" stroke="#9ad6e6" stroke-width="1.5" />
<text x="92.5" y="1010.75" font-size="10.2" fill="#ffffff"  textLength="200" lengthAdjust="spacingAndGlyphs"  font-weight="bold" >- GẠCH PRIMER MÀU VÀNG KEM 600X600</text>
<rect x="309" y="1002.5" width="30" height="11" fill="url(#gran)" stroke="#9ad6e6" stroke-width="1.3" />
<text x="351.5" y="1010.75" font-size="10.2" fill="#ffffff"  textLength="155" lengthAdjust="spacingAndGlyphs"  font-weight="bold" >- ĐÁ GRANIT TỰ NHIÊN MÀU ĐEN</text>
<rect x="574" y="991" width="33.5" height="32" fill="url(#ftile)" stroke="#9ad6e6" stroke-width="1.3" />
<line x1="591" y1="982.5" x2="591" y2="1006.5" stroke="#9ad6e6" stroke-width="1.2" />
<line x1="567.5" y1="1006.5" x2="591" y2="1006.5" stroke="#9ad6e6" stroke-width="1.2" />
<polyline points="587.5,986 591,982.5 594.5,986" fill="none" stroke="#9ad6e6" stroke-width="1.1"/>
<polyline points="571,1003 567.5,1006.5 571,1010" fill="none" stroke="#9ad6e6" stroke-width="1.1"/>
<text x="619" y="1011.25" font-size="10.2" fill="#ffffff"  textLength="107.5" lengthAdjust="spacingAndGlyphs"  font-weight="bold" >- VIÊN GẠCH ĐẦU TIÊN</text>
<rect x="48" y="1036.5" width="32" height="32" fill="url(#dot3)" stroke="#9ad6e6" stroke-width="1.5" />
<line x1="48" y1="1036.5" x2="80" y2="1068.5" stroke="#888" stroke-width="1" />
<line x1="80" y1="1036.5" x2="48" y2="1068.5" stroke="#888" stroke-width="1" />
<text x="92.5" y="1056.75" font-size="10.2" fill="#ffffff"  textLength="200.5" lengthAdjust="spacingAndGlyphs"  font-weight="bold" >- GẠCH PRIMER MÀU VÀNG SẪM 400X400</text>
<rect x="309" y="1036.5" width="32.5" height="32" fill="url(#dot3)" stroke="#9ad6e6" stroke-width="1.5" />
<line x1="325.25" y1="1036.5" x2="325.25" y2="1068.5" stroke="#999" stroke-width="1" />
<line x1="309" y1="1052.5" x2="341.5" y2="1052.5" stroke="#999" stroke-width="1" />
<text x="353.5" y="1056.75" font-size="10.2" fill="#ffffff"  textLength="210" lengthAdjust="spacingAndGlyphs"  font-weight="bold" >- GẠCH CHỐNG TRƠN MÀU VÀNG 400X400</text>
<rect x="575" y="1037.5" width="32.5" height="32.5" fill="url(#dot3)" stroke="#9ad6e6" stroke-width="1.5" />
<line x1="592.8" y1="1037.5" x2="592.8" y2="1070" stroke="#999" stroke-width="1" />
<line x1="575" y1="1043.6" x2="607.5" y2="1043.6" stroke="#999" stroke-width="1" />
<line x1="575" y1="1056.4" x2="607.5" y2="1056.4" stroke="#999" stroke-width="1" />
<text x="619" y="1057.25" font-size="10.2" fill="#ffffff"  textLength="148" lengthAdjust="spacingAndGlyphs"  font-weight="bold" >- GẠCH ĐỎ HẠ LONG 300X300</text>
<text x="798.4" y="1000.2" font-size="10.2" fill="#ffffff"  textLength="44" lengthAdjust="spacingAndGlyphs"  font-weight="bold" >GHI CHÚ:</text>
<line x1="798.4" y1="1001.6" x2="842.6" y2="1001.6" stroke="#ffffff" stroke-width="1.1" />
<text x="798.4" y="1018.75" font-size="10.2" fill="#ffffff"  textLength="151.5" lengthAdjust="spacingAndGlyphs"  font-weight="bold" >-LÁT THẲNG MẠCH, CÙNG COS</text>
<text x="798.4" y="1035.25" font-size="10.2" fill="#ffffff"  textLength="153.5" lengthAdjust="spacingAndGlyphs"  font-weight="bold" >-ĐÁNH DỐC VỀ GAR THU NƯỚC</text>
<text x="798.4" y="1051.05" font-size="10.2" fill="#ffffff"  textLength="219" lengthAdjust="spacingAndGlyphs"  font-weight="bold" >-KHI THI CÔNG KIỂM TRA KÍCH THƯỚC THỰC TẾ</text>
<text x="1061.7" y="1067.4" font-size="17" fill="#ffffff"  textLength="198.5" lengthAdjust="spacingAndGlyphs"   >MẶT BẰNG LÁT SÀN TẦNG 2</text>
<polygon points="232,351.6 266.5,351.6 266.5,338.6 320.5,338.6 320.5,455.4 232,455.4" fill="url(#dot3)"/>
<line x1="252.8" y1="338.6" x2="252.8" y2="455.4" stroke="#8a8a8a" stroke-width="1.1" />
<line x1="274.2" y1="338.6" x2="274.2" y2="455.4" stroke="#8a8a8a" stroke-width="1.1" />
<line x1="295.1" y1="338.6" x2="295.1" y2="455.4" stroke="#8a8a8a" stroke-width="1.1" />
<line x1="316.2" y1="338.6" x2="316.2" y2="455.4" stroke="#8a8a8a" stroke-width="1.1" />
<line x1="232" y1="349.6" x2="320.5" y2="349.6" stroke="#8a8a8a" stroke-width="1.1" />
<line x1="232" y1="370.5" x2="320.5" y2="370.5" stroke="#8a8a8a" stroke-width="1.1" />
<line x1="232" y1="391.5" x2="320.5" y2="391.5" stroke="#8a8a8a" stroke-width="1.1" />
<line x1="232" y1="412.3" x2="320.5" y2="412.3" stroke="#8a8a8a" stroke-width="1.1" />
<line x1="232" y1="433.3" x2="320.5" y2="433.3" stroke="#8a8a8a" stroke-width="1.1" />
<rect x="232" y="460.5" width="88.5" height="234.5" fill="url(#spk)" stroke="none" stroke-width="1" />
<line x1="241.9" y1="460.5" x2="241.9" y2="695" stroke="#7a7a7a" stroke-width="1.1" />
<line x1="257.8" y1="460.5" x2="257.8" y2="695" stroke="#7a7a7a" stroke-width="1.1" />
<line x1="273.7" y1="460.5" x2="273.7" y2="695" stroke="#7a7a7a" stroke-width="1.1" />
<line x1="289.6" y1="460.5" x2="289.6" y2="695" stroke="#7a7a7a" stroke-width="1.1" />
<line x1="305.5" y1="460.5" x2="305.5" y2="695" stroke="#7a7a7a" stroke-width="1.1" />
<line x1="232" y1="475.7" x2="320.5" y2="475.7" stroke="#7a7a7a" stroke-width="1.1" />
<line x1="232" y1="491.6" x2="320.5" y2="491.6" stroke="#7a7a7a" stroke-width="1.1" />
<line x1="232" y1="507.5" x2="320.5" y2="507.5" stroke="#7a7a7a" stroke-width="1.1" />
<line x1="232" y1="523.4" x2="320.5" y2="523.4" stroke="#7a7a7a" stroke-width="1.1" />
<line x1="232" y1="539.3" x2="320.5" y2="539.3" stroke="#7a7a7a" stroke-width="1.1" />
<line x1="232" y1="555.2" x2="320.5" y2="555.2" stroke="#7a7a7a" stroke-width="1.1" />
<line x1="232" y1="571.1" x2="320.5" y2="571.1" stroke="#7a7a7a" stroke-width="1.1" />
<line x1="232" y1="587" x2="320.5" y2="587" stroke="#7a7a7a" stroke-width="1.1" />
<line x1="232" y1="602.9" x2="320.5" y2="602.9" stroke="#7a7a7a" stroke-width="1.1" />
<line x1="232" y1="618.8" x2="320.5" y2="618.8" stroke="#7a7a7a" stroke-width="1.1" />
<line x1="232" y1="634.7" x2="320.5" y2="634.7" stroke="#7a7a7a" stroke-width="1.1" />
<line x1="232" y1="650.6" x2="320.5" y2="650.6" stroke="#7a7a7a" stroke-width="1.1" />
<line x1="232" y1="666.5" x2="320.5" y2="666.5" stroke="#7a7a7a" stroke-width="1.1" />
<line x1="232" y1="682.4" x2="320.5" y2="682.4" stroke="#7a7a7a" stroke-width="1.1" />
<line x1="352.8" y1="344" x2="352.8" y2="510" stroke="#a8a8a8" stroke-width="1.1" />
<line x1="384.4" y1="344" x2="384.4" y2="510" stroke="#a8a8a8" stroke-width="1.1" />
<line x1="416" y1="344" x2="416" y2="510" stroke="#a8a8a8" stroke-width="1.1" />
<line x1="447.6" y1="344" x2="447.6" y2="510" stroke="#a8a8a8" stroke-width="1.1" />
<line x1="479.2" y1="344" x2="479.2" y2="510" stroke="#a8a8a8" stroke-width="1.1" />
<line x1="510.8" y1="344" x2="510.8" y2="510" stroke="#a8a8a8" stroke-width="1.1" />
<line x1="332.8" y1="348.2" x2="541.6" y2="348.2" stroke="#a8a8a8" stroke-width="1.1" />
<line x1="332.8" y1="379.8" x2="541.6" y2="379.8" stroke="#a8a8a8" stroke-width="1.1" />
<line x1="332.8" y1="411.4" x2="541.6" y2="411.4" stroke="#a8a8a8" stroke-width="1.1" />
<line x1="332.8" y1="443" x2="541.6" y2="443" stroke="#a8a8a8" stroke-width="1.1" />
<line x1="332.8" y1="474.6" x2="541.6" y2="474.6" stroke="#a8a8a8" stroke-width="1.1" />
<line x1="332.8" y1="506.2" x2="541.6" y2="506.2" stroke="#a8a8a8" stroke-width="1.1" />
<line x1="510.7" y1="474" x2="510.7" y2="537" stroke="#a8a8a8" stroke-width="1.1" />
<line x1="488.8" y1="505.5" x2="541.6" y2="505.5" stroke="#a8a8a8" stroke-width="1.1" />
<line x1="585.5" y1="470.2" x2="585.5" y2="537" stroke="#a8a8a8" stroke-width="1.1" />
<line x1="617.2" y1="470.2" x2="617.2" y2="537" stroke="#a8a8a8" stroke-width="1.1" />
<line x1="648.9" y1="470.2" x2="648.9" y2="537" stroke="#a8a8a8" stroke-width="1.1" />
<line x1="680.6" y1="470.2" x2="680.6" y2="537" stroke="#a8a8a8" stroke-width="1.1" />
<line x1="712.3" y1="470.2" x2="712.3" y2="537" stroke="#a8a8a8" stroke-width="1.1" />
<line x1="744" y1="470.2" x2="744" y2="537" stroke="#a8a8a8" stroke-width="1.1" />
<line x1="553.9" y1="474" x2="748.3" y2="474" stroke="#a8a8a8" stroke-width="1.1" />
<line x1="553.9" y1="505.7" x2="748.3" y2="505.7" stroke="#a8a8a8" stroke-width="1.1" />
<line x1="352.8" y1="517.2" x2="352.8" y2="694.7" stroke="#a8a8a8" stroke-width="1.1" />
<line x1="384.4" y1="517.2" x2="384.4" y2="694.7" stroke="#a8a8a8" stroke-width="1.1" />
<line x1="416" y1="517.2" x2="416" y2="694.7" stroke="#a8a8a8" stroke-width="1.1" />
<line x1="447.6" y1="517.2" x2="447.6" y2="694.7" stroke="#a8a8a8" stroke-width="1.1" />
<line x1="479.2" y1="517.2" x2="479.2" y2="694.7" stroke="#a8a8a8" stroke-width="1.1" />
<line x1="510.8" y1="517.2" x2="510.8" y2="694.7" stroke="#a8a8a8" stroke-width="1.1" />
<line x1="332.8" y1="542.8" x2="541.6" y2="542.8" stroke="#a8a8a8" stroke-width="1.1" />
<line x1="332.8" y1="574.4" x2="541.6" y2="574.4" stroke="#a8a8a8" stroke-width="1.1" />
<line x1="332.8" y1="606" x2="541.6" y2="606" stroke="#a8a8a8" stroke-width="1.1" />
<line x1="332.8" y1="637.6" x2="541.6" y2="637.6" stroke="#a8a8a8" stroke-width="1.1" />
<line x1="332.8" y1="669.2" x2="541.6" y2="669.2" stroke="#a8a8a8" stroke-width="1.1" />
<line x1="590" y1="543" x2="590" y2="689.3" stroke="#a8a8a8" stroke-width="1.1" />
<line x1="622" y1="543" x2="622" y2="689.3" stroke="#a8a8a8" stroke-width="1.1" />
<line x1="654" y1="543" x2="654" y2="689.3" stroke="#a8a8a8" stroke-width="1.1" />
<line x1="686" y1="543" x2="686" y2="689.3" stroke="#a8a8a8" stroke-width="1.1" />
<line x1="717.5" y1="543" x2="717.5" y2="689.3" stroke="#a8a8a8" stroke-width="1.1" />
<line x1="553.9" y1="569" x2="748.3" y2="569" stroke="#a8a8a8" stroke-width="1.1" />
<line x1="553.9" y1="600.6" x2="748.3" y2="600.6" stroke="#a8a8a8" stroke-width="1.1" />
<line x1="553.9" y1="632.2" x2="748.3" y2="632.2" stroke="#a8a8a8" stroke-width="1.1" />
<line x1="553.9" y1="663.8" x2="748.3" y2="663.8" stroke="#a8a8a8" stroke-width="1.1" />
<line x1="848.7" y1="344" x2="848.7" y2="537" stroke="#a8a8a8" stroke-width="1.1" />
<line x1="880.3" y1="344" x2="880.3" y2="537" stroke="#a8a8a8" stroke-width="1.1" />
<line x1="911.9" y1="344" x2="911.9" y2="537" stroke="#a8a8a8" stroke-width="1.1" />
<line x1="943.5" y1="344" x2="943.5" y2="537" stroke="#a8a8a8" stroke-width="1.1" />
<line x1="975.1" y1="344" x2="975.1" y2="537" stroke="#a8a8a8" stroke-width="1.1" />
<line x1="1006.7" y1="344" x2="1006.7" y2="537" stroke="#a8a8a8" stroke-width="1.1" />
<line x1="754.7" y1="347.6" x2="1037.7" y2="347.6" stroke="#a8a8a8" stroke-width="1.1" />
<line x1="754.7" y1="379.2" x2="1037.7" y2="379.2" stroke="#a8a8a8" stroke-width="1.1" />
<line x1="754.7" y1="410.8" x2="1037.7" y2="410.8" stroke="#a8a8a8" stroke-width="1.1" />
<line x1="754.7" y1="442.4" x2="1037.7" y2="442.4" stroke="#a8a8a8" stroke-width="1.1" />
<line x1="754.7" y1="474" x2="1037.7" y2="474" stroke="#a8a8a8" stroke-width="1.1" />
<line x1="754.7" y1="505.6" x2="1037.7" y2="505.6" stroke="#a8a8a8" stroke-width="1.1" />
<line x1="775" y1="439.1" x2="775" y2="537" stroke="#a8a8a8" stroke-width="1.1" />
<line x1="806.3" y1="439.1" x2="806.3" y2="537" stroke="#a8a8a8" stroke-width="1.1" />
<line x1="754.7" y1="443" x2="811.4" y2="443" stroke="#a8a8a8" stroke-width="1.1" />
<line x1="754.7" y1="474.2" x2="811.4" y2="474.2" stroke="#a8a8a8" stroke-width="1.1" />
<line x1="754.7" y1="505.7" x2="811.4" y2="505.7" stroke="#a8a8a8" stroke-width="1.1" />
<rect x="760.4" y="549" width="341.6" height="140.3" fill="url(#spk)" stroke="none" stroke-width="1" />
<rect x="1050.6" y="343.5" width="51.4" height="205.5" fill="url(#spk)" stroke="none" stroke-width="1" />
<line x1="764.85" y1="549" x2="764.85" y2="689.3" stroke="#7a7a7a" stroke-width="1.1" />
<line x1="780.7" y1="549" x2="780.7" y2="689.3" stroke="#7a7a7a" stroke-width="1.1" />
<line x1="796.55" y1="549" x2="796.55" y2="689.3" stroke="#7a7a7a" stroke-width="1.1" />
<line x1="812.4" y1="549" x2="812.4" y2="689.3" stroke="#7a7a7a" stroke-width="1.1" />
<line x1="828.25" y1="549" x2="828.25" y2="689.3" stroke="#7a7a7a" stroke-width="1.1" />
<line x1="844.1" y1="549" x2="844.1" y2="689.3" stroke="#7a7a7a" stroke-width="1.1" />
<line x1="859.95" y1="549" x2="859.95" y2="689.3" stroke="#7a7a7a" stroke-width="1.1" />
<line x1="875.8" y1="549" x2="875.8" y2="689.3" stroke="#7a7a7a" stroke-width="1.1" />
<line x1="891.65" y1="549" x2="891.65" y2="689.3" stroke="#7a7a7a" stroke-width="1.1" />
<line x1="907.5" y1="549" x2="907.5" y2="689.3" stroke="#7a7a7a" stroke-width="1.1" />
<line x1="923.35" y1="549" x2="923.35" y2="689.3" stroke="#7a7a7a" stroke-width="1.1" />
<line x1="939.2" y1="549" x2="939.2" y2="689.3" stroke="#7a7a7a" stroke-width="1.1" />
<line x1="955.05" y1="549" x2="955.05" y2="689.3" stroke="#7a7a7a" stroke-width="1.1" />
<line x1="970.9" y1="549" x2="970.9" y2="689.3" stroke="#7a7a7a" stroke-width="1.1" />
<line x1="986.75" y1="549" x2="986.75" y2="689.3" stroke="#7a7a7a" stroke-width="1.1" />
<line x1="1002.6" y1="549" x2="1002.6" y2="689.3" stroke="#7a7a7a" stroke-width="1.1" />
<line x1="1018.45" y1="549" x2="1018.45" y2="689.3" stroke="#7a7a7a" stroke-width="1.1" />
<line x1="1034.3" y1="549" x2="1034.3" y2="689.3" stroke="#7a7a7a" stroke-width="1.1" />
<line x1="1050.15" y1="549" x2="1050.15" y2="689.3" stroke="#7a7a7a" stroke-width="1.1" />
<line x1="1066" y1="549" x2="1066" y2="689.3" stroke="#7a7a7a" stroke-width="1.1" />
<line x1="1081.85" y1="549" x2="1081.85" y2="689.3" stroke="#7a7a7a" stroke-width="1.1" />
<line x1="1097.7" y1="549" x2="1097.7" y2="689.3" stroke="#7a7a7a" stroke-width="1.1" />
<line x1="760.4" y1="564.45" x2="1102" y2="564.45" stroke="#7a7a7a" stroke-width="1.1" />
<line x1="760.4" y1="580.3" x2="1102" y2="580.3" stroke="#7a7a7a" stroke-width="1.1" />
<line x1="760.4" y1="596.15" x2="1102" y2="596.15" stroke="#7a7a7a" stroke-width="1.1" />
<line x1="760.4" y1="612" x2="1102" y2="612" stroke="#7a7a7a" stroke-width="1.1" />
<line x1="760.4" y1="627.85" x2="1102" y2="627.85" stroke="#7a7a7a" stroke-width="1.1" />
<line x1="760.4" y1="643.7" x2="1102" y2="643.7" stroke="#7a7a7a" stroke-width="1.1" />
<line x1="760.4" y1="659.55" x2="1102" y2="659.55" stroke="#7a7a7a" stroke-width="1.1" />
<line x1="760.4" y1="675.4" x2="1102" y2="675.4" stroke="#7a7a7a" stroke-width="1.1" />
<line x1="1066" y1="343.5" x2="1066" y2="549" stroke="#7a7a7a" stroke-width="1.1" />
<line x1="1081.85" y1="343.5" x2="1081.85" y2="549" stroke="#7a7a7a" stroke-width="1.1" />
<line x1="1097.7" y1="343.5" x2="1097.7" y2="549" stroke="#7a7a7a" stroke-width="1.1" />
<line x1="1050.6" y1="358.4" x2="1102" y2="358.4" stroke="#7a7a7a" stroke-width="1.1" />
<line x1="1050.6" y1="374.25" x2="1102" y2="374.25" stroke="#7a7a7a" stroke-width="1.1" />
<line x1="1050.6" y1="390.1" x2="1102" y2="390.1" stroke="#7a7a7a" stroke-width="1.1" />
<line x1="1050.6" y1="405.95" x2="1102" y2="405.95" stroke="#7a7a7a" stroke-width="1.1" />
<line x1="1050.6" y1="421.8" x2="1102" y2="421.8" stroke="#7a7a7a" stroke-width="1.1" />
<line x1="1050.6" y1="437.65" x2="1102" y2="437.65" stroke="#7a7a7a" stroke-width="1.1" />
<line x1="1050.6" y1="453.5" x2="1102" y2="453.5" stroke="#7a7a7a" stroke-width="1.1" />
<line x1="1050.6" y1="469.35" x2="1102" y2="469.35" stroke="#7a7a7a" stroke-width="1.1" />
<line x1="1050.6" y1="485.2" x2="1102" y2="485.2" stroke="#7a7a7a" stroke-width="1.1" />
<line x1="1050.6" y1="501.05" x2="1102" y2="501.05" stroke="#7a7a7a" stroke-width="1.1" />
<line x1="1050.6" y1="516.9" x2="1102" y2="516.9" stroke="#7a7a7a" stroke-width="1.1" />
<line x1="1050.6" y1="532.75" x2="1102" y2="532.75" stroke="#7a7a7a" stroke-width="1.1" />
<line x1="1050.6" y1="548.6" x2="1102" y2="548.6" stroke="#7a7a7a" stroke-width="1.1" />
<line x1="231.7" y1="202" x2="231.7" y2="236" stroke="#d6d6b4" stroke-width="1.1" />
<line x1="231.7" y1="236" x2="231.7" y2="332" stroke="#d6d6b4" stroke-width="1.1" stroke-dasharray="24 4 3 4"/>
<line x1="231.7" y1="701" x2="231.7" y2="780" stroke="#d6d6b4" stroke-width="1.1" stroke-dasharray="24 4 3 4"/>
<line x1="231.7" y1="780" x2="231.7" y2="813.5" stroke="#d6d6b4" stroke-width="1.1" />
<line x1="326.6" y1="202" x2="326.6" y2="236" stroke="#d6d6b4" stroke-width="1.1" />
<line x1="326.6" y1="236" x2="326.6" y2="332" stroke="#d6d6b4" stroke-width="1.1" stroke-dasharray="24 4 3 4"/>
<line x1="326.6" y1="701" x2="326.6" y2="780" stroke="#d6d6b4" stroke-width="1.1" stroke-dasharray="24 4 3 4"/>
<line x1="326.6" y1="780" x2="326.6" y2="813.5" stroke="#d6d6b4" stroke-width="1.1" />
<line x1="547.8" y1="202" x2="547.8" y2="236" stroke="#d6d6b4" stroke-width="1.1" />
<line x1="547.8" y1="236" x2="547.8" y2="332" stroke="#d6d6b4" stroke-width="1.1" stroke-dasharray="24 4 3 4"/>
<line x1="547.8" y1="701" x2="547.8" y2="780" stroke="#d6d6b4" stroke-width="1.1" stroke-dasharray="24 4 3 4"/>
<line x1="547.8" y1="780" x2="547.8" y2="813.5" stroke="#d6d6b4" stroke-width="1.1" />
<line x1="754.4" y1="202" x2="754.4" y2="236" stroke="#d6d6b4" stroke-width="1.1" />
<line x1="754.4" y1="236" x2="754.4" y2="332" stroke="#d6d6b4" stroke-width="1.1" stroke-dasharray="24 4 3 4"/>
<line x1="754.4" y1="701" x2="754.4" y2="780" stroke="#d6d6b4" stroke-width="1.1" stroke-dasharray="24 4 3 4"/>
<line x1="754.4" y1="780" x2="754.4" y2="813.5" stroke="#d6d6b4" stroke-width="1.1" />
<line x1="1044.2" y1="202" x2="1044.2" y2="236" stroke="#d6d6b4" stroke-width="1.1" />
<line x1="1044.2" y1="236" x2="1044.2" y2="332" stroke="#d6d6b4" stroke-width="1.1" stroke-dasharray="24 4 3 4"/>
<line x1="1044.2" y1="701" x2="1044.2" y2="780" stroke="#d6d6b4" stroke-width="1.1" stroke-dasharray="24 4 3 4"/>
<line x1="1044.2" y1="780" x2="1044.2" y2="813.5" stroke="#d6d6b4" stroke-width="1.1" />
<line x1="1107.4" y1="202" x2="1107.4" y2="236" stroke="#d6d6b4" stroke-width="1.1" />
<line x1="1107.4" y1="236" x2="1107.4" y2="332" stroke="#d6d6b4" stroke-width="1.1" stroke-dasharray="24 4 3 4"/>
<line x1="1107.4" y1="701" x2="1107.4" y2="780" stroke="#d6d6b4" stroke-width="1.1" stroke-dasharray="24 4 3 4"/>
<line x1="1107.4" y1="780" x2="1107.4" y2="813.5" stroke="#d6d6b4" stroke-width="1.1" />
<line x1="128" y1="337.6" x2="218" y2="337.6" stroke="#d6d6b4" stroke-width="1.1" stroke-dasharray="24 4 3 4"/>
<line x1="1113" y1="337.6" x2="1254.5" y2="337.6" stroke="#d6d6b4" stroke-width="1.1" stroke-dasharray="24 4 3 4"/>
<line x1="128" y1="542.5" x2="218" y2="542.5" stroke="#d6d6b4" stroke-width="1.1" stroke-dasharray="24 4 3 4"/>
<line x1="1113" y1="542.5" x2="1254.5" y2="542.5" stroke="#d6d6b4" stroke-width="1.1" stroke-dasharray="24 4 3 4"/>
<line x1="128" y1="694.5" x2="218" y2="694.5" stroke="#d6d6b4" stroke-width="1.1" stroke-dasharray="24 4 3 4"/>
<line x1="1113" y1="694.5" x2="1254.5" y2="694.5" stroke="#d6d6b4" stroke-width="1.1" stroke-dasharray="24 4 3 4"/>
<line x1="1050.6" y1="337.6" x2="1113" y2="337.6" stroke="#d6d6b4" stroke-width="1.3" stroke-dasharray="24 5 3 5"/>
<line x1="1050.6" y1="542.5" x2="1102" y2="542.5" stroke="#e6e69a" stroke-width="1.3" stroke-dasharray="24 5 3 5"/>
<line x1="760.4" y1="694.5" x2="1113" y2="694.5" stroke="#d6d6b4" stroke-width="1.3" stroke-dasharray="24 5 3 5"/>
<line x1="1044.2" y1="349" x2="1044.2" y2="689" stroke="#d6d6b4" stroke-width="1.2" stroke-dasharray="24 5 3 5"/>
<line x1="1107.4" y1="343.5" x2="1107.4" y2="701.3" stroke="#d6d6b4" stroke-width="1.3" stroke-dasharray="24 5 3 5"/>
<line x1="128" y1="542.5" x2="225" y2="542.5" stroke="#d8d88a" stroke-width="1.2" stroke-dasharray="16 3 2 3"/>
<line x1="238.3" y1="542.5" x2="320.5" y2="542.5" stroke="#d8d88a" stroke-width="1.2" stroke-dasharray="16 3 2 3"/>
<rect x="225.5" y="332" width="95" height="6.6" fill="url(#wallh)" stroke="none" stroke-width="1" />
<line x1="225.5" y1="332" x2="320.5" y2="332" stroke="#e0985a" stroke-width="1.3" />
<line x1="225.5" y1="338.6" x2="320.5" y2="338.6" stroke="#e0985a" stroke-width="1.3" />
<rect x="332.8" y="332" width="704.9" height="12" fill="url(#wallh)" stroke="none" stroke-width="1" />
<line x1="332.8" y1="332" x2="1037.7" y2="332" stroke="#e0985a" stroke-width="1.3" />
<line x1="332.8" y1="344" x2="1037.7" y2="344" stroke="#e0985a" stroke-width="1.3" />
<line x1="332.8" y1="338" x2="1037.7" y2="338" stroke="#9a9a90" stroke-width="1.2" stroke-dasharray="18 5 3 5"/>
<rect x="232" y="338.6" width="34.5" height="13" fill="none" stroke="#e0985a" stroke-width="1.3" />
<circle cx="245" cy="345.2" r="3.2" fill="none" stroke="#a6e2ee" stroke-width="1.4"/>
<circle cx="252.5" cy="345.2" r="3.2" fill="none" stroke="#a6e2ee" stroke-width="1.4"/>
<circle cx="260" cy="345.2" r="3.2" fill="none" stroke="#a6e2ee" stroke-width="1.4"/>
<rect x="225.5" y="344.6" width="6.3" height="191.7" fill="url(#wallh)" stroke="none" stroke-width="1" />
<line x1="225.5" y1="344.6" x2="225.5" y2="536.3" stroke="#e0985a" stroke-width="1.3" />
<line x1="231.8" y1="344.6" x2="231.8" y2="536.3" stroke="#e0985a" stroke-width="1.3" />
<rect x="225.5" y="378" width="6.3" height="36" fill="#0a0a0a" stroke="#e0985a" stroke-width="1.1" />
<rect x="320.5" y="344.6" width="12.3" height="121" fill="url(#wallh)" stroke="none" stroke-width="1" />
<line x1="320.5" y1="344.6" x2="320.5" y2="465.6" stroke="#e0985a" stroke-width="1.3" />
<line x1="332.8" y1="344.6" x2="332.8" y2="465.6" stroke="#e0985a" stroke-width="1.3" />
<line x1="326.65" y1="344.6" x2="326.65" y2="465.6" stroke="#9a9a90" stroke-width="1.2" stroke-dasharray="18 5 3 5"/>
<rect x="320.5" y="506.4" width="12.3" height="30.2" fill="url(#wallh)" stroke="none" stroke-width="1" />
<line x1="320.5" y1="506.4" x2="320.5" y2="536.6" stroke="#e0985a" stroke-width="1.3" />
<line x1="332.8" y1="506.4" x2="332.8" y2="536.6" stroke="#e0985a" stroke-width="1.3" />
<rect x="320.5" y="465.6" width="12.3" height="40.8" fill="url(#gran)" stroke="#a6e2ee" stroke-width="1" />
<rect x="232" y="455.4" width="88.5" height="5.1" fill="url(#wallh)" stroke="none" stroke-width="1" />
<line x1="232" y1="455.4" x2="320.5" y2="455.4" stroke="#e0985a" stroke-width="1.3" />
<line x1="232" y1="460.5" x2="320.5" y2="460.5" stroke="#e0985a" stroke-width="1.3" />
<rect x="234.7" y="454.7" width="43" height="5.8" fill="#000" stroke="#a6e2ee" stroke-width="1.2" />
<polygon points="332.8,510 488.8,510 488.8,537.2 481.6,537.2 481.6,517.2 332.8,517.2" fill="url(#wallh)" stroke="#e0985a" stroke-width="1.3"/>
<rect x="488.8" y="537.2" width="51.2" height="5.6" fill="url(#gran)" stroke="#a6e2ee" stroke-width="1" />
<rect x="541.6" y="344" width="12.3" height="193" fill="url(#gran)" stroke="#a6e2ee" stroke-width="1.1" />
<rect x="553.9" y="537" width="194.4" height="6" fill="url(#wallh)" stroke="none" stroke-width="1" />
<line x1="553.9" y1="537" x2="748.3" y2="537" stroke="#e0985a" stroke-width="1.3" />
<line x1="553.9" y1="543" x2="748.3" y2="543" stroke="#e0985a" stroke-width="1.3" />
<rect x="693.7" y="537" width="48.6" height="6" fill="url(#gran)" stroke="#a6e2ee" stroke-width="1" />
<rect x="748.3" y="344" width="6.4" height="126.4" fill="url(#wallh)" stroke="none" stroke-width="1" />
<line x1="748.3" y1="344" x2="748.3" y2="470.4" stroke="#e0985a" stroke-width="1.3" />
<line x1="754.7" y1="344" x2="754.7" y2="470.4" stroke="#e0985a" stroke-width="1.3" />
<polygon points="754.7,432.1 818.4,432.1 818.4,481.8 811.4,481.8 811.4,439.1 754.7,439.1" fill="url(#wallh)" stroke="#e0985a" stroke-width="1.3"/>
<rect x="811.4" y="481.8" width="7" height="49.2" fill="url(#gran)" stroke="#a6e2ee" stroke-width="1" />
<rect x="760.4" y="537" width="277.3" height="11.3" fill="url(#wallh)" stroke="none" stroke-width="1" />
<line x1="760.4" y1="537" x2="1037.7" y2="537" stroke="#e0985a" stroke-width="1.3" />
<line x1="760.4" y1="548.3" x2="1037.7" y2="548.3" stroke="#e0985a" stroke-width="1.3" />
<line x1="760.4" y1="542.65" x2="1037.7" y2="542.65" stroke="#9a9a90" stroke-width="1.2" stroke-dasharray="18 5 3 5"/>
<rect x="985" y="537" width="41.7" height="11.3" fill="#000" stroke="#a6e2ee" stroke-width="1" />
<line x1="985" y1="542.6" x2="1026.7" y2="542.6" stroke="#d6d6b4" stroke-width="1" stroke-dasharray="6 3"/>
<rect x="1037.7" y="344" width="12.9" height="31.2" fill="url(#wallh)" stroke="none" stroke-width="1" />
<line x1="1037.7" y1="344" x2="1037.7" y2="375.2" stroke="#e0985a" stroke-width="1.3" />
<line x1="1050.6" y1="344" x2="1050.6" y2="375.2" stroke="#e0985a" stroke-width="1.3" />
<line x1="1044.15" y1="344" x2="1044.15" y2="375.2" stroke="#9a9a90" stroke-width="1.2" stroke-dasharray="18 5 3 5"/>
<rect x="1037.7" y="375.2" width="12.9" height="160.8" fill="url(#gran)" stroke="#a6e2ee" stroke-width="1.1" />
<rect x="320.5" y="548" width="12.3" height="40.4" fill="url(#wallh)" stroke="none" stroke-width="1" />
<line x1="320.5" y1="548" x2="320.5" y2="588.4" stroke="#e0985a" stroke-width="1.3" />
<line x1="332.8" y1="548" x2="332.8" y2="588.4" stroke="#e0985a" stroke-width="1.3" />
<line x1="326.65" y1="548" x2="326.65" y2="588.4" stroke="#9a9a90" stroke-width="1.2" stroke-dasharray="18 5 3 5"/>
<rect x="320.5" y="649.6" width="12.3" height="38.7" fill="url(#wallh)" stroke="none" stroke-width="1" />
<line x1="320.5" y1="649.6" x2="320.5" y2="688.3" stroke="#e0985a" stroke-width="1.3" />
<line x1="332.8" y1="649.6" x2="332.8" y2="688.3" stroke="#e0985a" stroke-width="1.3" />
<line x1="326.65" y1="649.6" x2="326.65" y2="688.3" stroke="#9a9a90" stroke-width="1.2" stroke-dasharray="18 5 3 5"/>
<line x1="326.6" y1="588.4" x2="326.6" y2="649.6" stroke="#dddddd" stroke-width="1.2" stroke-dasharray="12 4"/>
<rect x="541.6" y="549.2" width="12.3" height="139.8" fill="url(#wallh)" stroke="none" stroke-width="1" />
<line x1="541.6" y1="549.2" x2="541.6" y2="689" stroke="#e0985a" stroke-width="1.3" />
<line x1="553.9" y1="549.2" x2="553.9" y2="689" stroke="#e0985a" stroke-width="1.3" />
<line x1="547.75" y1="549.2" x2="547.75" y2="689" stroke="#9a9a90" stroke-width="1.2" stroke-dasharray="18 5 3 5"/>
<rect x="748.3" y="548.5" width="12.1" height="40.5" fill="url(#wallh)" stroke="none" stroke-width="1" />
<line x1="748.3" y1="548.5" x2="748.3" y2="589" stroke="#e0985a" stroke-width="1.3" />
<line x1="760.4" y1="548.5" x2="760.4" y2="589" stroke="#e0985a" stroke-width="1.3" />
<line x1="754.35" y1="548.5" x2="754.35" y2="589" stroke="#9a9a90" stroke-width="1.2" stroke-dasharray="18 5 3 5"/>
<rect x="748.3" y="648" width="12.1" height="41" fill="url(#wallh)" stroke="none" stroke-width="1" />
<line x1="748.3" y1="648" x2="748.3" y2="689" stroke="#e0985a" stroke-width="1.3" />
<line x1="760.4" y1="648" x2="760.4" y2="689" stroke="#e0985a" stroke-width="1.3" />
<line x1="754.35" y1="648" x2="754.35" y2="689" stroke="#9a9a90" stroke-width="1.2" stroke-dasharray="18 5 3 5"/>
<line x1="754.4" y1="589" x2="754.4" y2="648" stroke="#dddddd" stroke-width="1.2" stroke-dasharray="12 4"/>
<rect x="332.8" y="694.7" width="208.8" height="6.3" fill="url(#wallh)" stroke="none" stroke-width="1" />
<line x1="332.8" y1="694.7" x2="541.6" y2="694.7" stroke="#e0985a" stroke-width="1.3" />
<line x1="332.8" y1="701" x2="541.6" y2="701" stroke="#e0985a" stroke-width="1.3" />
<rect x="553.9" y="689" width="194.4" height="12" fill="url(#wallh)" stroke="none" stroke-width="1" />
<line x1="553.9" y1="689" x2="748.3" y2="689" stroke="#e0985a" stroke-width="1.3" />
<line x1="553.9" y1="701" x2="748.3" y2="701" stroke="#e0985a" stroke-width="1.3" />
<line x1="553.9" y1="695" x2="748.3" y2="695" stroke="#9a9a90" stroke-width="1.2" stroke-dasharray="18 5 3 5"/>
<line x1="225.8" y1="549.4" x2="225.8" y2="701.5" stroke="#a6e2ee" stroke-width="1.6" />
<line x1="231.8" y1="549.4" x2="231.8" y2="695.1" stroke="#a6e2ee" stroke-width="1.3" />
<line x1="238.2" y1="695.1" x2="320.5" y2="695.1" stroke="#a6e2ee" stroke-width="1.3" />
<line x1="238.2" y1="700.6" x2="320.5" y2="700.6" stroke="#a6e2ee" stroke-width="1.6" />
<line x1="760.4" y1="689.3" x2="1102" y2="689.3" stroke="#a6e2ee" stroke-width="1.3" />
<line x1="760.4" y1="701.3" x2="1113.4" y2="701.3" stroke="#a6e2ee" stroke-width="1.6" />
<line x1="1050.6" y1="332.6" x2="1113.4" y2="332.6" stroke="#a6e2ee" stroke-width="1.6" />
<line x1="1113.4" y1="332.6" x2="1113.4" y2="701.3" stroke="#a6e2ee" stroke-width="1.6" />
<polyline points="1050.6,536 1050.6,343.5 1102,343.5 1102,689.3" fill="none" stroke="#a6e2ee" stroke-width="1.3"/>
<rect x="225" y="332" width="13.3" height="12.6" fill="#f4f22a" stroke="none" stroke-width="1" />
<rect x="320.5" y="332" width="12.3" height="12.6" fill="#f4f22a" stroke="none" stroke-width="1" />
<rect x="541.6" y="331.8" width="12.3" height="12.4" fill="#f4f22a" stroke="none" stroke-width="1" />
<rect x="748.3" y="331.8" width="12.3" height="12.4" fill="#f4f22a" stroke="none" stroke-width="1" />
<rect x="1037.7" y="332" width="12.8" height="12.2" fill="#f4f22a" stroke="none" stroke-width="1" />
<rect x="225.5" y="536.3" width="12.8" height="13.1" fill="#f4f22a" stroke="none" stroke-width="1" />
<rect x="320.3" y="536.6" width="12.5" height="11.8" fill="#f4f22a" stroke="none" stroke-width="1" />
<rect x="541.6" y="537" width="12.2" height="12.2" fill="#f4f22a" stroke="none" stroke-width="1" />
<rect x="748.3" y="536.7" width="12.1" height="11.8" fill="#f4f22a" stroke="none" stroke-width="1" />
<rect x="1038" y="536" width="12.3" height="13" fill="#f4f22a" stroke="none" stroke-width="1" />
<rect x="225.5" y="688.8" width="12.7" height="12.7" fill="#f4f22a" stroke="none" stroke-width="1" />
<rect x="320.5" y="688.3" width="12.3" height="13.3" fill="#f4f22a" stroke="none" stroke-width="1" />
<rect x="541.6" y="689" width="12.3" height="12.3" fill="#f4f22a" stroke="none" stroke-width="1" />
<rect x="748.3" y="689" width="12.1" height="12.3" fill="#f4f22a" stroke="none" stroke-width="1" />
<line x1="553.9" y1="344" x2="553.9" y2="470.2" stroke="#a6e2ee" stroke-width="1.3" />
<line x1="748.3" y1="344" x2="748.3" y2="470.2" stroke="#a6e2ee" stroke-width="1.3" />
<line x1="553.9" y1="344" x2="609.7" y2="400.5" stroke="#a6e2ee" stroke-width="1.3" />
<line x1="748.3" y1="344" x2="693.3" y2="400.5" stroke="#a6e2ee" stroke-width="1.3" />
<line x1="581" y1="372.7" x2="721.1" y2="372.7" stroke="#a6e2ee" stroke-width="1.3" />
<line x1="581" y1="372.7" x2="581" y2="470.2" stroke="#a6e2ee" stroke-width="1.3" />
<line x1="721.1" y1="372.7" x2="721.1" y2="470.2" stroke="#a6e2ee" stroke-width="1.3" />
<line x1="611.9" y1="344" x2="611.9" y2="400.5" stroke="#a6e2ee" stroke-width="1.2" />
<line x1="625" y1="344" x2="625" y2="400.5" stroke="#a6e2ee" stroke-width="1.2" />
<line x1="638" y1="344" x2="638" y2="400.5" stroke="#a6e2ee" stroke-width="1.2" />
<line x1="651.5" y1="344" x2="651.5" y2="400.5" stroke="#a6e2ee" stroke-width="1.2" />
<line x1="664.7" y1="344" x2="664.7" y2="400.5" stroke="#a6e2ee" stroke-width="1.2" />
<line x1="677.9" y1="344" x2="677.9" y2="400.5" stroke="#a6e2ee" stroke-width="1.2" />
<line x1="691" y1="344" x2="691" y2="400.5" stroke="#a6e2ee" stroke-width="1.2" />
<line x1="553.9" y1="401.3" x2="609" y2="401.3" stroke="#a6e2ee" stroke-width="1.2" />
<line x1="693.7" y1="401.3" x2="748.3" y2="401.3" stroke="#a6e2ee" stroke-width="1.2" />
<line x1="553.9" y1="414.8" x2="609" y2="414.8" stroke="#a6e2ee" stroke-width="1.2" />
<line x1="693.7" y1="414.8" x2="748.3" y2="414.8" stroke="#a6e2ee" stroke-width="1.2" />
<line x1="553.9" y1="428.4" x2="609" y2="428.4" stroke="#a6e2ee" stroke-width="1.2" />
<line x1="693.7" y1="428.4" x2="748.3" y2="428.4" stroke="#a6e2ee" stroke-width="1.2" />
<line x1="553.9" y1="441.6" x2="609" y2="441.6" stroke="#a6e2ee" stroke-width="1.2" />
<line x1="693.7" y1="441.6" x2="748.3" y2="441.6" stroke="#a6e2ee" stroke-width="1.2" />
<line x1="553.9" y1="454.8" x2="609" y2="454.8" stroke="#a6e2ee" stroke-width="1.2" />
<line x1="693.7" y1="454.8" x2="748.3" y2="454.8" stroke="#a6e2ee" stroke-width="1.2" />
<line x1="553.9" y1="467.3" x2="609" y2="467.3" stroke="#a6e2ee" stroke-width="1.2" />
<line x1="693.7" y1="467.3" x2="748.3" y2="467.3" stroke="#a6e2ee" stroke-width="1.2" />
<rect x="609" y="400.5" width="84.7" height="69.7" fill="#000" stroke="#a6e2ee" stroke-width="1.3" />
<polygon points="612,403 691,403 691,467.5 690.3,467.5 676.4,413" fill="url(#dot3)"/>
<rect x="612" y="403" width="79" height="64.5" fill="none" stroke="#a6e2ee" stroke-width="1.2" />
<polyline points="612,403 676.4,413 690.3,467.5" fill="none" stroke="#a6e2ee" stroke-width="1.4"/>
<line x1="553.9" y1="470.2" x2="748.3" y2="470.2" stroke="#a6e2ee" stroke-width="1.3" />
<text x="605.3" y="356.2" font-size="6.4" fill="#ffffff" text-anchor="middle" textLength="6" lengthAdjust="spacingAndGlyphs"  font-weight="bold" >14</text>
<text x="618.6" y="356.2" font-size="6.4" fill="#ffffff" text-anchor="middle" textLength="6" lengthAdjust="spacingAndGlyphs"  font-weight="bold" >13</text>
<text x="631.7" y="356.2" font-size="6.4" fill="#ffffff" text-anchor="middle" textLength="6" lengthAdjust="spacingAndGlyphs"  font-weight="bold" >12</text>
<text x="644" y="356.2" font-size="6.4" fill="#ffffff" text-anchor="middle" textLength="6" lengthAdjust="spacingAndGlyphs"  font-weight="bold" >11</text>
<text x="658" y="356.2" font-size="6.4" fill="#ffffff" text-anchor="middle" textLength="6" lengthAdjust="spacingAndGlyphs"  font-weight="bold" >10</text>
<text x="671.5" y="356.2" font-size="6.4" fill="#ffffff" text-anchor="middle" textLength="3" lengthAdjust="spacingAndGlyphs"  font-weight="bold" >9</text>
<text x="684.5" y="356.2" font-size="6.4" fill="#ffffff" text-anchor="middle" textLength="3" lengthAdjust="spacingAndGlyphs"  font-weight="bold" >8</text>
<text x="698.5" y="356.2" font-size="6.4" fill="#ffffff" text-anchor="middle" textLength="3" lengthAdjust="spacingAndGlyphs"  font-weight="bold" >7</text>
<text x="566" y="398.5" font-size="6.4" fill="#ffffff" text-anchor="middle" textLength="6.5" lengthAdjust="spacingAndGlyphs"  font-weight="bold" >15</text>
<text x="566" y="411.3" font-size="6.4" fill="#ffffff" text-anchor="middle" textLength="6.5" lengthAdjust="spacingAndGlyphs"  font-weight="bold" >16</text>
<text x="566" y="424" font-size="6.4" fill="#ffffff" text-anchor="middle" textLength="6.5" lengthAdjust="spacingAndGlyphs"  font-weight="bold" >17</text>
<text x="566" y="437.2" font-size="6.4" fill="#ffffff" text-anchor="middle" textLength="6.5" lengthAdjust="spacingAndGlyphs"  font-weight="bold" >18</text>
<text x="566" y="450" font-size="6.4" fill="#ffffff" text-anchor="middle" textLength="6.5" lengthAdjust="spacingAndGlyphs"  font-weight="bold" >19</text>
<text x="566" y="463.5" font-size="6.4" fill="#ffffff" text-anchor="middle" textLength="6.5" lengthAdjust="spacingAndGlyphs"  font-weight="bold" >20</text>
<text x="566" y="476.5" font-size="6.4" fill="#ffffff" text-anchor="middle" textLength="6.5" lengthAdjust="spacingAndGlyphs"  font-weight="bold" >21</text>
<text x="737.3" y="398.5" font-size="6.4" fill="#ffffff" text-anchor="middle" textLength="3.2" lengthAdjust="spacingAndGlyphs"  font-weight="bold" >6</text>
<text x="737.3" y="411.3" font-size="6.4" fill="#ffffff" text-anchor="middle" textLength="3.2" lengthAdjust="spacingAndGlyphs"  font-weight="bold" >5</text>
<text x="737.3" y="424" font-size="6.4" fill="#ffffff" text-anchor="middle" textLength="3.2" lengthAdjust="spacingAndGlyphs"  font-weight="bold" >4</text>
<text x="737.3" y="437.2" font-size="6.4" fill="#ffffff" text-anchor="middle" textLength="3.2" lengthAdjust="spacingAndGlyphs"  font-weight="bold" >3</text>
<text x="737.3" y="450" font-size="6.4" fill="#ffffff" text-anchor="middle" textLength="3.2" lengthAdjust="spacingAndGlyphs"  font-weight="bold" >2</text>
<text x="737.3" y="463.5" font-size="6.4" fill="#ffffff" text-anchor="middle" textLength="3.2" lengthAdjust="spacingAndGlyphs"  font-weight="bold" >1</text>
<polyline points="576.5,478.5 580.8,482 585.5,478.5" fill="none" stroke="#f4f22a" stroke-width="2.2"/>
<line x1="326.6" y1="495.6" x2="1044.2" y2="495.6" stroke="#a6e2ee" stroke-width="1.3" />
<circle cx="326.6" cy="495.6" r="1.8" fill="none" stroke="#a6e2ee" stroke-width="1.1"/>
<circle cx="814.8" cy="495.6" r="1.8" fill="none" stroke="#a6e2ee" stroke-width="1.1"/>
<circle cx="1038.5" cy="495.6" r="1.8" fill="none" stroke="#a6e2ee" stroke-width="1.1"/>
<line x1="505.6" y1="495.6" x2="505.6" y2="537" stroke="#a6e2ee" stroke-width="1.1" />
<circle cx="505.6" cy="537" r="1.8" fill="none" stroke="#a6e2ee" stroke-width="1.1"/>
<line x1="726.4" y1="495.6" x2="726.4" y2="537" stroke="#a6e2ee" stroke-width="1.1" />
<circle cx="726.4" cy="537" r="1.8" fill="none" stroke="#a6e2ee" stroke-width="1.1"/>
<line x1="786.5" y1="495.6" x2="786.5" y2="543.5" stroke="#a6e2ee" stroke-width="1.1" />
<circle cx="786.5" cy="543.5" r="1.8" fill="none" stroke="#a6e2ee" stroke-width="1.1"/>
<rect x="233" y="433" width="20" height="21" fill="#8e8e8e" stroke="#a6e2ee" stroke-width="1.1" />
<line x1="242.3" y1="448.6" x2="242.3" y2="432.1" stroke="#a6e2ee" stroke-width="1.2" />
<polyline points="238.3,435.1 242.3,432.1 246.3,435.1" fill="none" stroke="#a6e2ee" stroke-width="1.1"/>
<line x1="242.3" y1="448.6" x2="258.8" y2="448.6" stroke="#a6e2ee" stroke-width="1.2" />
<polyline points="255.8,444.6 258.8,448.6 255.8,452.6" fill="none" stroke="#a6e2ee" stroke-width="1.1"/>
<rect x="304" y="461" width="16.7" height="15.5" fill="#8e8e8e" stroke="#a6e2ee" stroke-width="1.1" />
<line x1="312" y1="475" x2="312" y2="485.5" stroke="#a6e2ee" stroke-width="1.2" />
<polyline points="308,482.5 312,485.5 316,482.5" fill="none" stroke="#a6e2ee" stroke-width="1.1"/>
<line x1="312" y1="475" x2="301.5" y2="475" stroke="#a6e2ee" stroke-width="1.2" />
<polyline points="304.5,471 301.5,475 304.5,479" fill="none" stroke="#a6e2ee" stroke-width="1.1"/>
<rect x="510.4" y="505.2" width="31.2" height="30.4" fill="url(#ftile)" stroke="#a6e2ee" stroke-width="1.1" />
<line x1="526" y1="526" x2="526" y2="500.5" stroke="#a6e2ee" stroke-width="1.2" />
<polyline points="522,503.5 526,500.5 530,503.5" fill="none" stroke="#a6e2ee" stroke-width="1.1"/>
<line x1="526" y1="526" x2="500.5" y2="526" stroke="#a6e2ee" stroke-width="1.2" />
<polyline points="503.5,522 500.5,526 503.5,530" fill="none" stroke="#a6e2ee" stroke-width="1.1"/>
<rect x="554.7" y="505.7" width="28.9" height="30.8" fill="url(#ftile)" stroke="#a6e2ee" stroke-width="1.1" />
<line x1="569" y1="526" x2="569" y2="500.5" stroke="#a6e2ee" stroke-width="1.2" />
<polyline points="565,503.5 569,500.5 573,503.5" fill="none" stroke="#a6e2ee" stroke-width="1.1"/>
<line x1="569" y1="526" x2="594.5" y2="526" stroke="#a6e2ee" stroke-width="1.2" />
<polyline points="591.5,522 594.5,526 591.5,530" fill="none" stroke="#a6e2ee" stroke-width="1.1"/>
<rect x="510.4" y="543.6" width="31.2" height="30.4" fill="url(#ftile)" stroke="#a6e2ee" stroke-width="1.1" />
<line x1="526" y1="554" x2="526" y2="579.5" stroke="#a6e2ee" stroke-width="1.2" />
<polyline points="522,576.5 526,579.5 530,576.5" fill="none" stroke="#a6e2ee" stroke-width="1.1"/>
<line x1="526" y1="554" x2="500.5" y2="554" stroke="#a6e2ee" stroke-width="1.2" />
<polyline points="503.5,550 500.5,554 503.5,558" fill="none" stroke="#a6e2ee" stroke-width="1.1"/>
<rect x="817" y="504.8" width="31.4" height="31.9" fill="url(#ftile)" stroke="#a6e2ee" stroke-width="1.1" />
<line x1="833.3" y1="521.5" x2="833.3" y2="496" stroke="#a6e2ee" stroke-width="1.2" />
<polyline points="829.3,499 833.3,496 837.3,499" fill="none" stroke="#a6e2ee" stroke-width="1.1"/>
<line x1="833.3" y1="521.5" x2="858.8" y2="521.5" stroke="#a6e2ee" stroke-width="1.2" />
<polyline points="855.8,517.5 858.8,521.5 855.8,525.5" fill="none" stroke="#a6e2ee" stroke-width="1.1"/>
<rect x="1033" y="549" width="17.3" height="15" fill="#8e8e8e" stroke="#a6e2ee" stroke-width="1.1" />
<line x1="1042" y1="556" x2="1042" y2="566.5" stroke="#a6e2ee" stroke-width="1.2" />
<polyline points="1038,563.5 1042,566.5 1046,563.5" fill="none" stroke="#a6e2ee" stroke-width="1.1"/>
<line x1="1042" y1="556" x2="1031.5" y2="556" stroke="#a6e2ee" stroke-width="1.2" />
<polyline points="1034.5,552 1031.5,556 1034.5,560" fill="none" stroke="#a6e2ee" stroke-width="1.1"/>
<line x1="214.7" y1="190" x2="220.2" y2="190" stroke="#c8d8dc" stroke-width="1.2" />
<line x1="243.2" y1="190" x2="248.7" y2="190" stroke="#c8d8dc" stroke-width="1.2" />
<line x1="231.7" y1="173" x2="231.7" y2="178.5" stroke="#c8d8dc" stroke-width="1.2" />
<line x1="231.7" y1="201.5" x2="231.7" y2="207" stroke="#c8d8dc" stroke-width="1.2" />
<circle cx="231.7" cy="190" r="11" fill="#000" stroke="#b4d6e4" stroke-width="2"/>
<text x="231.7" y="195.2" font-size="14.5" fill="#f4f0e6" text-anchor="middle"    >5</text>
<line x1="214.7" y1="825.5" x2="220.2" y2="825.5" stroke="#c8d8dc" stroke-width="1.2" />
<line x1="243.2" y1="825.5" x2="248.7" y2="825.5" stroke="#c8d8dc" stroke-width="1.2" />
<line x1="231.7" y1="808.5" x2="231.7" y2="814" stroke="#c8d8dc" stroke-width="1.2" />
<line x1="231.7" y1="837" x2="231.7" y2="842.5" stroke="#c8d8dc" stroke-width="1.2" />
<circle cx="231.7" cy="825.5" r="11" fill="#000" stroke="#b4d6e4" stroke-width="2"/>
<text x="231.7" y="830.7" font-size="14.5" fill="#f4f0e6" text-anchor="middle"    >5</text>
<line x1="309.6" y1="190" x2="315.1" y2="190" stroke="#c8d8dc" stroke-width="1.2" />
<line x1="338.1" y1="190" x2="343.6" y2="190" stroke="#c8d8dc" stroke-width="1.2" />
<line x1="326.6" y1="173" x2="326.6" y2="178.5" stroke="#c8d8dc" stroke-width="1.2" />
<line x1="326.6" y1="201.5" x2="326.6" y2="207" stroke="#c8d8dc" stroke-width="1.2" />
<circle cx="326.6" cy="190" r="11" fill="#000" stroke="#b4d6e4" stroke-width="2"/>
<text x="326.6" y="195.2" font-size="14.5" fill="#f4f0e6" text-anchor="middle"    >4</text>
<line x1="309.6" y1="825.5" x2="315.1" y2="825.5" stroke="#c8d8dc" stroke-width="1.2" />
<line x1="338.1" y1="825.5" x2="343.6" y2="825.5" stroke="#c8d8dc" stroke-width="1.2" />
<line x1="326.6" y1="808.5" x2="326.6" y2="814" stroke="#c8d8dc" stroke-width="1.2" />
<line x1="326.6" y1="837" x2="326.6" y2="842.5" stroke="#c8d8dc" stroke-width="1.2" />
<circle cx="326.6" cy="825.5" r="11" fill="#000" stroke="#b4d6e4" stroke-width="2"/>
<text x="326.6" y="830.7" font-size="14.5" fill="#f4f0e6" text-anchor="middle"    >4</text>
<line x1="530.8" y1="190" x2="536.3" y2="190" stroke="#c8d8dc" stroke-width="1.2" />
<line x1="559.3" y1="190" x2="564.8" y2="190" stroke="#c8d8dc" stroke-width="1.2" />
<line x1="547.8" y1="173" x2="547.8" y2="178.5" stroke="#c8d8dc" stroke-width="1.2" />
<line x1="547.8" y1="201.5" x2="547.8" y2="207" stroke="#c8d8dc" stroke-width="1.2" />
<circle cx="547.8" cy="190" r="11" fill="#000" stroke="#b4d6e4" stroke-width="2"/>
<text x="547.8" y="195.2" font-size="14.5" fill="#f4f0e6" text-anchor="middle"    >3</text>
<line x1="530.8" y1="825.5" x2="536.3" y2="825.5" stroke="#c8d8dc" stroke-width="1.2" />
<line x1="559.3" y1="825.5" x2="564.8" y2="825.5" stroke="#c8d8dc" stroke-width="1.2" />
<line x1="547.8" y1="808.5" x2="547.8" y2="814" stroke="#c8d8dc" stroke-width="1.2" />
<line x1="547.8" y1="837" x2="547.8" y2="842.5" stroke="#c8d8dc" stroke-width="1.2" />
<circle cx="547.8" cy="825.5" r="11" fill="#000" stroke="#b4d6e4" stroke-width="2"/>
<text x="547.8" y="830.7" font-size="14.5" fill="#f4f0e6" text-anchor="middle"    >3</text>
<line x1="737.4" y1="190" x2="742.9" y2="190" stroke="#c8d8dc" stroke-width="1.2" />
<line x1="765.9" y1="190" x2="771.4" y2="190" stroke="#c8d8dc" stroke-width="1.2" />
<line x1="754.4" y1="173" x2="754.4" y2="178.5" stroke="#c8d8dc" stroke-width="1.2" />
<line x1="754.4" y1="201.5" x2="754.4" y2="207" stroke="#c8d8dc" stroke-width="1.2" />
<circle cx="754.4" cy="190" r="11" fill="#000" stroke="#b4d6e4" stroke-width="2"/>
<text x="754.4" y="195.2" font-size="14.5" fill="#f4f0e6" text-anchor="middle"    >2</text>
<line x1="737.4" y1="825.5" x2="742.9" y2="825.5" stroke="#c8d8dc" stroke-width="1.2" />
<line x1="765.9" y1="825.5" x2="771.4" y2="825.5" stroke="#c8d8dc" stroke-width="1.2" />
<line x1="754.4" y1="808.5" x2="754.4" y2="814" stroke="#c8d8dc" stroke-width="1.2" />
<line x1="754.4" y1="837" x2="754.4" y2="842.5" stroke="#c8d8dc" stroke-width="1.2" />
<circle cx="754.4" cy="825.5" r="11" fill="#000" stroke="#b4d6e4" stroke-width="2"/>
<text x="754.4" y="830.7" font-size="14.5" fill="#f4f0e6" text-anchor="middle"    >2</text>
<line x1="1027.2" y1="190" x2="1032.7" y2="190" stroke="#c8d8dc" stroke-width="1.2" />
<line x1="1055.7" y1="190" x2="1061.2" y2="190" stroke="#c8d8dc" stroke-width="1.2" />
<line x1="1044.2" y1="173" x2="1044.2" y2="178.5" stroke="#c8d8dc" stroke-width="1.2" />
<line x1="1044.2" y1="201.5" x2="1044.2" y2="207" stroke="#c8d8dc" stroke-width="1.2" />
<circle cx="1044.2" cy="190" r="11" fill="#000" stroke="#b4d6e4" stroke-width="2"/>
<text x="1044.2" y="195.2" font-size="14.5" fill="#f4f0e6" text-anchor="middle"    >1</text>
<line x1="1027.2" y1="825.5" x2="1032.7" y2="825.5" stroke="#c8d8dc" stroke-width="1.2" />
<line x1="1055.7" y1="825.5" x2="1061.2" y2="825.5" stroke="#c8d8dc" stroke-width="1.2" />
<line x1="1044.2" y1="808.5" x2="1044.2" y2="814" stroke="#c8d8dc" stroke-width="1.2" />
<line x1="1044.2" y1="837" x2="1044.2" y2="842.5" stroke="#c8d8dc" stroke-width="1.2" />
<circle cx="1044.2" cy="825.5" r="11" fill="#000" stroke="#b4d6e4" stroke-width="2"/>
<text x="1044.2" y="830.7" font-size="14.5" fill="#f4f0e6" text-anchor="middle"    >1</text>
<line x1="1090.4" y1="190" x2="1095.9" y2="190" stroke="#c8d8dc" stroke-width="1.2" />
<line x1="1118.9" y1="190" x2="1124.4" y2="190" stroke="#c8d8dc" stroke-width="1.2" />
<line x1="1107.4" y1="173" x2="1107.4" y2="178.5" stroke="#c8d8dc" stroke-width="1.2" />
<line x1="1107.4" y1="201.5" x2="1107.4" y2="207" stroke="#c8d8dc" stroke-width="1.2" />
<circle cx="1107.4" cy="190" r="11" fill="#000" stroke="#b4d6e4" stroke-width="2"/>
<text x="1107.4" y="195.2" font-size="14.5" fill="#f4f0e6" text-anchor="middle"    >1'</text>
<line x1="1090.4" y1="825.5" x2="1095.9" y2="825.5" stroke="#c8d8dc" stroke-width="1.2" />
<line x1="1118.9" y1="825.5" x2="1124.4" y2="825.5" stroke="#c8d8dc" stroke-width="1.2" />
<line x1="1107.4" y1="808.5" x2="1107.4" y2="814" stroke="#c8d8dc" stroke-width="1.2" />
<line x1="1107.4" y1="837" x2="1107.4" y2="842.5" stroke="#c8d8dc" stroke-width="1.2" />
<circle cx="1107.4" cy="825.5" r="11" fill="#000" stroke="#b4d6e4" stroke-width="2"/>
<text x="1107.4" y="830.7" font-size="14.5" fill="#f4f0e6" text-anchor="middle"    >1'</text>
<line x1="99.4" y1="337.6" x2="104.9" y2="337.6" stroke="#c8d8dc" stroke-width="1.2" />
<line x1="127.9" y1="337.6" x2="133.4" y2="337.6" stroke="#c8d8dc" stroke-width="1.2" />
<line x1="116.4" y1="320.6" x2="116.4" y2="326.1" stroke="#c8d8dc" stroke-width="1.2" />
<line x1="116.4" y1="349.1" x2="116.4" y2="354.6" stroke="#c8d8dc" stroke-width="1.2" />
<circle cx="116.4" cy="337.6" r="11" fill="#000" stroke="#b4d6e4" stroke-width="2"/>
<text x="116.4" y="342.8" font-size="14.5" fill="#f4f0e6" text-anchor="middle"    >A</text>
<line x1="1249.5" y1="337.6" x2="1255" y2="337.6" stroke="#c8d8dc" stroke-width="1.2" />
<line x1="1278" y1="337.6" x2="1283.5" y2="337.6" stroke="#c8d8dc" stroke-width="1.2" />
<line x1="1266.5" y1="320.6" x2="1266.5" y2="326.1" stroke="#c8d8dc" stroke-width="1.2" />
<line x1="1266.5" y1="349.1" x2="1266.5" y2="354.6" stroke="#c8d8dc" stroke-width="1.2" />
<circle cx="1266.5" cy="337.6" r="11" fill="#000" stroke="#b4d6e4" stroke-width="2"/>
<text x="1266.5" y="342.8" font-size="14.5" fill="#f4f0e6" text-anchor="middle"    >A</text>
<line x1="99.4" y1="542.5" x2="104.9" y2="542.5" stroke="#c8d8dc" stroke-width="1.2" />
<line x1="127.9" y1="542.5" x2="133.4" y2="542.5" stroke="#c8d8dc" stroke-width="1.2" />
<line x1="116.4" y1="525.5" x2="116.4" y2="531" stroke="#c8d8dc" stroke-width="1.2" />
<line x1="116.4" y1="554" x2="116.4" y2="559.5" stroke="#c8d8dc" stroke-width="1.2" />
<circle cx="116.4" cy="542.5" r="11" fill="#000" stroke="#b4d6e4" stroke-width="2"/>
<text x="116.4" y="547.7" font-size="14.5" fill="#f4f0e6" text-anchor="middle"    >B</text>
<line x1="1249.5" y1="542.5" x2="1255" y2="542.5" stroke="#c8d8dc" stroke-width="1.2" />
<line x1="1278" y1="542.5" x2="1283.5" y2="542.5" stroke="#c8d8dc" stroke-width="1.2" />
<line x1="1266.5" y1="525.5" x2="1266.5" y2="531" stroke="#c8d8dc" stroke-width="1.2" />
<line x1="1266.5" y1="554" x2="1266.5" y2="559.5" stroke="#c8d8dc" stroke-width="1.2" />
<circle cx="1266.5" cy="542.5" r="11" fill="#000" stroke="#b4d6e4" stroke-width="2"/>
<text x="1266.5" y="547.7" font-size="14.5" fill="#f4f0e6" text-anchor="middle"    >B</text>
<line x1="99.4" y1="694.5" x2="104.9" y2="694.5" stroke="#c8d8dc" stroke-width="1.2" />
<line x1="127.9" y1="694.5" x2="133.4" y2="694.5" stroke="#c8d8dc" stroke-width="1.2" />
<line x1="116.4" y1="677.5" x2="116.4" y2="683" stroke="#c8d8dc" stroke-width="1.2" />
<line x1="116.4" y1="706" x2="116.4" y2="711.5" stroke="#c8d8dc" stroke-width="1.2" />
<circle cx="116.4" cy="694.5" r="11" fill="#000" stroke="#b4d6e4" stroke-width="2"/>
<text x="116.4" y="699.7" font-size="14.5" fill="#f4f0e6" text-anchor="middle"    >C</text>
<line x1="1249.5" y1="694.5" x2="1255" y2="694.5" stroke="#c8d8dc" stroke-width="1.2" />
<line x1="1278" y1="694.5" x2="1283.5" y2="694.5" stroke="#c8d8dc" stroke-width="1.2" />
<line x1="1266.5" y1="677.5" x2="1266.5" y2="683" stroke="#c8d8dc" stroke-width="1.2" />
<line x1="1266.5" y1="706" x2="1266.5" y2="711.5" stroke="#c8d8dc" stroke-width="1.2" />
<circle cx="1266.5" cy="694.5" r="11" fill="#000" stroke="#b4d6e4" stroke-width="2"/>
<text x="1266.5" y="699.7" font-size="14.5" fill="#f4f0e6" text-anchor="middle"    >C</text>
<line x1="225.6" y1="213.7" x2="1113" y2="213.7" stroke="#d8d8d8" stroke-width="1.2" />
<line x1="225.6" y1="228.5" x2="1113" y2="228.5" stroke="#d8d8d8" stroke-width="1.2" />
<line x1="223" y1="216.3" x2="228.2" y2="211.1" stroke="#ffffff" stroke-width="1.3" />
<line x1="1110.4" y1="216.3" x2="1115.6" y2="211.1" stroke="#ffffff" stroke-width="1.3" />
<line x1="223" y1="231.1" x2="228.2" y2="225.9" stroke="#ffffff" stroke-width="1.3" />
<line x1="229.1" y1="231.1" x2="234.3" y2="225.9" stroke="#ffffff" stroke-width="1.3" />
<line x1="324" y1="231.1" x2="329.2" y2="225.9" stroke="#ffffff" stroke-width="1.3" />
<line x1="545.2" y1="231.1" x2="550.4" y2="225.9" stroke="#ffffff" stroke-width="1.3" />
<line x1="751.8" y1="231.1" x2="757" y2="225.9" stroke="#ffffff" stroke-width="1.3" />
<line x1="1041.6" y1="231.1" x2="1046.8" y2="225.9" stroke="#ffffff" stroke-width="1.3" />
<line x1="1047.1" y1="231.1" x2="1052.3" y2="225.9" stroke="#ffffff" stroke-width="1.3" />
<line x1="1110.4" y1="231.1" x2="1115.6" y2="225.9" stroke="#ffffff" stroke-width="1.3" />
<line x1="225.6" y1="206" x2="225.6" y2="252" stroke="#d8d8d8" stroke-width="1.1" />
<line x1="1049.7" y1="222" x2="1049.7" y2="245" stroke="#d8d8d8" stroke-width="1.1" />
<line x1="1113" y1="206" x2="1113" y2="245" stroke="#d8d8d8" stroke-width="1.1" />
<text x="669" y="211.4" font-size="7.2" fill="#ffffff" text-anchor="middle" textLength="23" lengthAdjust="spacingAndGlyphs"  font-weight="bold" >16840</text>
<text x="228.5" y="226.6" font-size="7.2" fill="#ffffff" text-anchor="middle" textLength="11" lengthAdjust="spacingAndGlyphs"  font-weight="bold" >110</text>
<text x="279" y="226.6" font-size="7.2" fill="#ffffff" text-anchor="middle" textLength="18" lengthAdjust="spacingAndGlyphs"  font-weight="bold" >1800</text>
<text x="437" y="226.6" font-size="7.2" fill="#ffffff" text-anchor="middle" textLength="18" lengthAdjust="spacingAndGlyphs"  font-weight="bold" >4200</text>
<text x="651" y="226.6" font-size="7.2" fill="#ffffff" text-anchor="middle" textLength="18" lengthAdjust="spacingAndGlyphs"  font-weight="bold" >3920</text>
<text x="899" y="226.6" font-size="7.2" fill="#ffffff" text-anchor="middle" textLength="18" lengthAdjust="spacingAndGlyphs"  font-weight="bold" >5500</text>
<text x="1047" y="226.6" font-size="7.2" fill="#ffffff" text-anchor="middle" textLength="11" lengthAdjust="spacingAndGlyphs"  font-weight="bold" >110</text>
<text x="1081" y="226.6" font-size="7.2" fill="#ffffff" text-anchor="middle" textLength="18" lengthAdjust="spacingAndGlyphs"  font-weight="bold" >1200</text>
<line x1="225.6" y1="786.6" x2="1113" y2="786.6" stroke="#d8d8d8" stroke-width="1.2" />
<line x1="225.6" y1="802" x2="1113" y2="802" stroke="#d8d8d8" stroke-width="1.2" />
<line x1="223" y1="789.2" x2="228.2" y2="784" stroke="#ffffff" stroke-width="1.3" />
<line x1="229.1" y1="789.2" x2="234.3" y2="784" stroke="#ffffff" stroke-width="1.3" />
<line x1="324" y1="789.2" x2="329.2" y2="784" stroke="#ffffff" stroke-width="1.3" />
<line x1="545.2" y1="789.2" x2="550.4" y2="784" stroke="#ffffff" stroke-width="1.3" />
<line x1="751.8" y1="789.2" x2="757" y2="784" stroke="#ffffff" stroke-width="1.3" />
<line x1="1041.6" y1="789.2" x2="1046.8" y2="784" stroke="#ffffff" stroke-width="1.3" />
<line x1="1110.4" y1="789.2" x2="1115.6" y2="784" stroke="#ffffff" stroke-width="1.3" />
<line x1="223" y1="804.6" x2="228.2" y2="799.4" stroke="#ffffff" stroke-width="1.3" />
<line x1="1110.4" y1="804.6" x2="1115.6" y2="799.4" stroke="#ffffff" stroke-width="1.3" />
<line x1="225.6" y1="770" x2="225.6" y2="808" stroke="#d8d8d8" stroke-width="1.1" />
<line x1="1113" y1="770" x2="1113" y2="808" stroke="#d8d8d8" stroke-width="1.1" />
<text x="228.5" y="784" font-size="7.2" fill="#ffffff" text-anchor="middle" textLength="11" lengthAdjust="spacingAndGlyphs"  font-weight="bold" >110</text>
<text x="279" y="784" font-size="7.2" fill="#ffffff" text-anchor="middle" textLength="18" lengthAdjust="spacingAndGlyphs"  font-weight="bold" >1800</text>
<text x="437" y="784" font-size="7.2" fill="#ffffff" text-anchor="middle" textLength="18" lengthAdjust="spacingAndGlyphs"  font-weight="bold" >4200</text>
<text x="651" y="784" font-size="7.2" fill="#ffffff" text-anchor="middle" textLength="18" lengthAdjust="spacingAndGlyphs"  font-weight="bold" >3920</text>
<text x="899" y="784" font-size="7.2" fill="#ffffff" text-anchor="middle" textLength="18" lengthAdjust="spacingAndGlyphs"  font-weight="bold" >5500</text>
<text x="1075" y="784" font-size="7.2" fill="#ffffff" text-anchor="middle" textLength="18" lengthAdjust="spacingAndGlyphs"  font-weight="bold" >1200</text>
<text x="669" y="799.8" font-size="7.2" fill="#ffffff" text-anchor="middle" textLength="23" lengthAdjust="spacingAndGlyphs"  font-weight="bold" >16840</text>
<line x1="140" y1="332" x2="140" y2="700.5" stroke="#d8d8d8" stroke-width="1.2" />
<line x1="155.8" y1="332" x2="155.8" y2="700.5" stroke="#d8d8d8" stroke-width="1.2" />
<line x1="137.4" y1="334.6" x2="142.6" y2="329.4" stroke="#ffffff" stroke-width="1.3" />
<line x1="137.4" y1="703.1" x2="142.6" y2="697.9" stroke="#ffffff" stroke-width="1.3" />
<line x1="153.2" y1="334.6" x2="158.4" y2="329.4" stroke="#ffffff" stroke-width="1.3" />
<line x1="153.2" y1="340.2" x2="158.4" y2="335" stroke="#ffffff" stroke-width="1.3" />
<line x1="153.2" y1="545.1" x2="158.4" y2="539.9" stroke="#ffffff" stroke-width="1.3" />
<line x1="153.2" y1="697.1" x2="158.4" y2="691.9" stroke="#ffffff" stroke-width="1.3" />
<line x1="153.2" y1="703.1" x2="158.4" y2="697.9" stroke="#ffffff" stroke-width="1.3" />
<line x1="133" y1="332" x2="188" y2="332" stroke="#d8d8d8" stroke-width="1.1" />
<line x1="133" y1="700.5" x2="188" y2="700.5" stroke="#d8d8d8" stroke-width="1.1" />
<line x1="150" y1="337.6" x2="188" y2="337.6" stroke="#d8d8d8" stroke-width="1.1" />
<line x1="150" y1="694.5" x2="188" y2="694.5" stroke="#d8d8d8" stroke-width="1.1" />
<text x="137.2" y="516.7" font-size="7.2" fill="#ffffff" text-anchor="middle" textLength="18" lengthAdjust="spacingAndGlyphs" transform="rotate(-90 137.2 516.7)" font-weight="bold" >7000</text>
<text x="153.6" y="440" font-size="7.2" fill="#ffffff" text-anchor="middle" textLength="18" lengthAdjust="spacingAndGlyphs" transform="rotate(-90 153.6 440)" font-weight="bold" >3880</text>
<text x="153.6" y="618.7" font-size="7.2" fill="#ffffff" text-anchor="middle" textLength="18" lengthAdjust="spacingAndGlyphs" transform="rotate(-90 153.6 618.7)" font-weight="bold" >2880</text>
<text x="153.6" y="334.6" font-size="7.2" fill="#ffffff" text-anchor="middle" textLength="10" lengthAdjust="spacingAndGlyphs" transform="rotate(-90 153.6 334.6)" font-weight="bold" >110</text>
<text x="153.6" y="698" font-size="7.2" fill="#ffffff" text-anchor="middle" textLength="10" lengthAdjust="spacingAndGlyphs" transform="rotate(-90 153.6 698)" font-weight="bold" >110</text>
<line x1="1226.5" y1="332" x2="1226.5" y2="700.5" stroke="#d8d8d8" stroke-width="1.2" />
<line x1="1244" y1="332" x2="1244" y2="700.5" stroke="#d8d8d8" stroke-width="1.2" />
<line x1="1223.9" y1="334.6" x2="1229.1" y2="329.4" stroke="#ffffff" stroke-width="1.3" />
<line x1="1223.9" y1="340.2" x2="1229.1" y2="335" stroke="#ffffff" stroke-width="1.3" />
<line x1="1223.9" y1="545.1" x2="1229.1" y2="539.9" stroke="#ffffff" stroke-width="1.3" />
<line x1="1223.9" y1="697.1" x2="1229.1" y2="691.9" stroke="#ffffff" stroke-width="1.3" />
<line x1="1223.9" y1="703.1" x2="1229.1" y2="697.9" stroke="#ffffff" stroke-width="1.3" />
<line x1="1241.4" y1="334.6" x2="1246.6" y2="329.4" stroke="#ffffff" stroke-width="1.3" />
<line x1="1241.4" y1="703.1" x2="1246.6" y2="697.9" stroke="#ffffff" stroke-width="1.3" />
<line x1="1203" y1="332" x2="1250" y2="332" stroke="#d8d8d8" stroke-width="1.1" />
<line x1="1203" y1="700.5" x2="1250" y2="700.5" stroke="#d8d8d8" stroke-width="1.1" />
<text x="1224.2" y="442" font-size="7.2" fill="#ffffff" text-anchor="middle" textLength="18" lengthAdjust="spacingAndGlyphs" transform="rotate(-90 1224.2 442)" font-weight="bold" >3880</text>
<text x="1240.2" y="516.6" font-size="7.2" fill="#ffffff" text-anchor="middle" textLength="18" lengthAdjust="spacingAndGlyphs" transform="rotate(-90 1240.2 516.6)" font-weight="bold" >7000</text>
<text x="1224.2" y="619" font-size="7.2" fill="#ffffff" text-anchor="middle" textLength="18" lengthAdjust="spacingAndGlyphs" transform="rotate(-90 1224.2 619)" font-weight="bold" >2880</text>
<text x="1224.2" y="334.6" font-size="7.2" fill="#ffffff" text-anchor="middle" textLength="10" lengthAdjust="spacingAndGlyphs" transform="rotate(-90 1224.2 334.6)" font-weight="bold" >110</text>
<text x="1224.2" y="698" font-size="7.2" fill="#ffffff" text-anchor="middle" textLength="10" lengthAdjust="spacingAndGlyphs" transform="rotate(-90 1224.2 698)" font-weight="bold" >110</text>
<line x1="332.8" y1="371.9" x2="541.6" y2="371.9" stroke="#ffffff" stroke-width="1.2" />
<line x1="330.2" y1="374.5" x2="335.4" y2="369.3" stroke="#ffffff" stroke-width="1.3" />
<line x1="332.8" y1="364.9" x2="332.8" y2="374.9" stroke="#ffffff" stroke-width="1" />
<line x1="350.2" y1="374.5" x2="355.4" y2="369.3" stroke="#ffffff" stroke-width="1.3" />
<line x1="352.8" y1="364.9" x2="352.8" y2="374.9" stroke="#ffffff" stroke-width="1" />
<line x1="381.9" y1="374.5" x2="387.1" y2="369.3" stroke="#ffffff" stroke-width="1.3" />
<line x1="384.5" y1="364.9" x2="384.5" y2="374.9" stroke="#ffffff" stroke-width="1" />
<line x1="413.1" y1="374.5" x2="418.3" y2="369.3" stroke="#ffffff" stroke-width="1.3" />
<line x1="415.7" y1="364.9" x2="415.7" y2="374.9" stroke="#ffffff" stroke-width="1" />
<line x1="444.6" y1="374.5" x2="449.8" y2="369.3" stroke="#ffffff" stroke-width="1.3" />
<line x1="447.2" y1="364.9" x2="447.2" y2="374.9" stroke="#ffffff" stroke-width="1" />
<line x1="476.6" y1="374.5" x2="481.8" y2="369.3" stroke="#ffffff" stroke-width="1.3" />
<line x1="479.2" y1="364.9" x2="479.2" y2="374.9" stroke="#ffffff" stroke-width="1" />
<line x1="508.1" y1="374.5" x2="513.3" y2="369.3" stroke="#ffffff" stroke-width="1.3" />
<line x1="510.7" y1="364.9" x2="510.7" y2="374.9" stroke="#ffffff" stroke-width="1" />
<line x1="539" y1="374.5" x2="544.2" y2="369.3" stroke="#ffffff" stroke-width="1.3" />
<line x1="541.6" y1="364.9" x2="541.6" y2="374.9" stroke="#ffffff" stroke-width="1" />
<text x="342.8" y="369.5" font-size="8" fill="#ffffff" text-anchor="middle" textLength="12.5" lengthAdjust="spacingAndGlyphs"  font-weight="bold" >380</text>
<text x="368.65" y="369.5" font-size="8" fill="#ffffff" text-anchor="middle" textLength="13" lengthAdjust="spacingAndGlyphs"  font-weight="bold" >600</text>
<text x="400.1" y="369.5" font-size="8" fill="#ffffff" text-anchor="middle" textLength="13" lengthAdjust="spacingAndGlyphs"  font-weight="bold" >600</text>
<text x="431.45" y="369.5" font-size="8" fill="#ffffff" text-anchor="middle" textLength="13" lengthAdjust="spacingAndGlyphs"  font-weight="bold" >600</text>
<text x="463.2" y="369.5" font-size="8" fill="#ffffff" text-anchor="middle" textLength="13" lengthAdjust="spacingAndGlyphs"  font-weight="bold" >600</text>
<text x="494.95" y="369.5" font-size="8" fill="#ffffff" text-anchor="middle" textLength="13" lengthAdjust="spacingAndGlyphs"  font-weight="bold" >600</text>
<text x="526.15" y="369.5" font-size="8" fill="#ffffff" text-anchor="middle" textLength="13" lengthAdjust="spacingAndGlyphs"  font-weight="bold" >600</text>
<line x1="332.8" y1="660.8" x2="541.6" y2="660.8" stroke="#ffffff" stroke-width="1.2" />
<line x1="330.2" y1="663.4" x2="335.4" y2="658.2" stroke="#ffffff" stroke-width="1.3" />
<line x1="332.8" y1="653.8" x2="332.8" y2="663.8" stroke="#ffffff" stroke-width="1" />
<line x1="350.2" y1="663.4" x2="355.4" y2="658.2" stroke="#ffffff" stroke-width="1.3" />
<line x1="352.8" y1="653.8" x2="352.8" y2="663.8" stroke="#ffffff" stroke-width="1" />
<line x1="381.9" y1="663.4" x2="387.1" y2="658.2" stroke="#ffffff" stroke-width="1.3" />
<line x1="384.5" y1="653.8" x2="384.5" y2="663.8" stroke="#ffffff" stroke-width="1" />
<line x1="413.1" y1="663.4" x2="418.3" y2="658.2" stroke="#ffffff" stroke-width="1.3" />
<line x1="415.7" y1="653.8" x2="415.7" y2="663.8" stroke="#ffffff" stroke-width="1" />
<line x1="444.6" y1="663.4" x2="449.8" y2="658.2" stroke="#ffffff" stroke-width="1.3" />
<line x1="447.2" y1="653.8" x2="447.2" y2="663.8" stroke="#ffffff" stroke-width="1" />
<line x1="476.6" y1="663.4" x2="481.8" y2="658.2" stroke="#ffffff" stroke-width="1.3" />
<line x1="479.2" y1="653.8" x2="479.2" y2="663.8" stroke="#ffffff" stroke-width="1" />
<line x1="508.1" y1="663.4" x2="513.3" y2="658.2" stroke="#ffffff" stroke-width="1.3" />
<line x1="510.7" y1="653.8" x2="510.7" y2="663.8" stroke="#ffffff" stroke-width="1" />
<line x1="539" y1="663.4" x2="544.2" y2="658.2" stroke="#ffffff" stroke-width="1.3" />
<line x1="541.6" y1="653.8" x2="541.6" y2="663.8" stroke="#ffffff" stroke-width="1" />
<text x="342.8" y="658.8" font-size="8" fill="#ffffff" text-anchor="middle" textLength="12.5" lengthAdjust="spacingAndGlyphs"  font-weight="bold" >380</text>
<text x="368.65" y="658.8" font-size="8" fill="#ffffff" text-anchor="middle" textLength="13" lengthAdjust="spacingAndGlyphs"  font-weight="bold" >600</text>
<text x="400.1" y="658.8" font-size="8" fill="#ffffff" text-anchor="middle" textLength="13" lengthAdjust="spacingAndGlyphs"  font-weight="bold" >600</text>
<text x="431.45" y="658.8" font-size="8" fill="#ffffff" text-anchor="middle" textLength="13" lengthAdjust="spacingAndGlyphs"  font-weight="bold" >600</text>
<text x="463.2" y="658.8" font-size="8" fill="#ffffff" text-anchor="middle" textLength="13" lengthAdjust="spacingAndGlyphs"  font-weight="bold" >600</text>
<text x="494.95" y="658.8" font-size="8" fill="#ffffff" text-anchor="middle" textLength="13" lengthAdjust="spacingAndGlyphs"  font-weight="bold" >600</text>
<text x="526.15" y="658.8" font-size="8" fill="#ffffff" text-anchor="middle" textLength="13" lengthAdjust="spacingAndGlyphs"  font-weight="bold" >600</text>
<line x1="875.1" y1="344" x2="875.1" y2="537.3" stroke="#ffffff" stroke-width="1.2" />
<line x1="872.5" y1="346.6" x2="877.7" y2="341.4" stroke="#ffffff" stroke-width="1.3" />
<line x1="868.1" y1="344" x2="878.1" y2="344" stroke="#ffffff" stroke-width="1" />
<line x1="872.5" y1="350.2" x2="877.7" y2="345" stroke="#ffffff" stroke-width="1.3" />
<line x1="868.1" y1="347.6" x2="878.1" y2="347.6" stroke="#ffffff" stroke-width="1" />
<line x1="872.5" y1="381.8" x2="877.7" y2="376.6" stroke="#ffffff" stroke-width="1.3" />
<line x1="868.1" y1="379.2" x2="878.1" y2="379.2" stroke="#ffffff" stroke-width="1" />
<line x1="872.5" y1="413.8" x2="877.7" y2="408.6" stroke="#ffffff" stroke-width="1.3" />
<line x1="868.1" y1="411.2" x2="878.1" y2="411.2" stroke="#ffffff" stroke-width="1" />
<line x1="872.5" y1="445.3" x2="877.7" y2="440.1" stroke="#ffffff" stroke-width="1.3" />
<line x1="868.1" y1="442.7" x2="878.1" y2="442.7" stroke="#ffffff" stroke-width="1" />
<line x1="872.5" y1="476.7" x2="877.7" y2="471.5" stroke="#ffffff" stroke-width="1.3" />
<line x1="868.1" y1="474.1" x2="878.1" y2="474.1" stroke="#ffffff" stroke-width="1" />
<line x1="872.5" y1="508.5" x2="877.7" y2="503.3" stroke="#ffffff" stroke-width="1.3" />
<line x1="868.1" y1="505.9" x2="878.1" y2="505.9" stroke="#ffffff" stroke-width="1" />
<line x1="872.5" y1="539.9" x2="877.7" y2="534.7" stroke="#ffffff" stroke-width="1.3" />
<line x1="868.1" y1="537.3" x2="878.1" y2="537.3" stroke="#ffffff" stroke-width="1" />
<text x="871.9" y="345.8" font-size="8" fill="#ffffff" text-anchor="middle" textLength="8" lengthAdjust="spacingAndGlyphs" transform="rotate(-90 871.9 345.8)" font-weight="bold" >110</text>
<text x="871.9" y="363.4" font-size="8" fill="#ffffff" text-anchor="middle" textLength="13" lengthAdjust="spacingAndGlyphs" transform="rotate(-90 871.9 363.4)" font-weight="bold" >600</text>
<text x="871.9" y="395.2" font-size="8" fill="#ffffff" text-anchor="middle" textLength="13" lengthAdjust="spacingAndGlyphs" transform="rotate(-90 871.9 395.2)" font-weight="bold" >600</text>
<text x="871.9" y="426.95" font-size="8" fill="#ffffff" text-anchor="middle" textLength="13" lengthAdjust="spacingAndGlyphs" transform="rotate(-90 871.9 426.95)" font-weight="bold" >600</text>
<text x="871.9" y="458.4" font-size="8" fill="#ffffff" text-anchor="middle" textLength="13" lengthAdjust="spacingAndGlyphs" transform="rotate(-90 871.9 458.4)" font-weight="bold" >600</text>
<text x="871.9" y="490" font-size="8" fill="#ffffff" text-anchor="middle" textLength="13" lengthAdjust="spacingAndGlyphs" transform="rotate(-90 871.9 490)" font-weight="bold" >600</text>
<text x="871.9" y="521.6" font-size="8" fill="#ffffff" text-anchor="middle" textLength="13" lengthAdjust="spacingAndGlyphs" transform="rotate(-90 871.9 521.6)" font-weight="bold" >600</text>
<line x1="736" y1="543" x2="736" y2="689.4" stroke="#ffffff" stroke-width="1.2" />
<line x1="733.4" y1="545.6" x2="738.6" y2="540.4" stroke="#ffffff" stroke-width="1.3" />
<line x1="729" y1="543" x2="739" y2="543" stroke="#ffffff" stroke-width="1" />
<line x1="733.4" y1="571.4" x2="738.6" y2="566.2" stroke="#ffffff" stroke-width="1.3" />
<line x1="729" y1="568.8" x2="739" y2="568.8" stroke="#ffffff" stroke-width="1" />
<line x1="733.4" y1="603" x2="738.6" y2="597.8" stroke="#ffffff" stroke-width="1.3" />
<line x1="729" y1="600.4" x2="739" y2="600.4" stroke="#ffffff" stroke-width="1" />
<line x1="733.4" y1="634.6" x2="738.6" y2="629.4" stroke="#ffffff" stroke-width="1.3" />
<line x1="729" y1="632" x2="739" y2="632" stroke="#ffffff" stroke-width="1" />
<line x1="733.4" y1="666.2" x2="738.6" y2="661" stroke="#ffffff" stroke-width="1.3" />
<line x1="729" y1="663.6" x2="739" y2="663.6" stroke="#ffffff" stroke-width="1" />
<line x1="733.4" y1="692" x2="738.6" y2="686.8" stroke="#ffffff" stroke-width="1.3" />
<line x1="729" y1="689.4" x2="739" y2="689.4" stroke="#ffffff" stroke-width="1" />
<text x="733.6" y="555.9" font-size="8" fill="#ffffff" text-anchor="middle" textLength="13" lengthAdjust="spacingAndGlyphs" transform="rotate(-90 733.6 555.9)" font-weight="bold" >490</text>
<text x="733.6" y="584.6" font-size="8" fill="#ffffff" text-anchor="middle" textLength="13" lengthAdjust="spacingAndGlyphs" transform="rotate(-90 733.6 584.6)" font-weight="bold" >600</text>
<text x="733.6" y="616.2" font-size="8" fill="#ffffff" text-anchor="middle" textLength="13" lengthAdjust="spacingAndGlyphs" transform="rotate(-90 733.6 616.2)" font-weight="bold" >600</text>
<text x="733.6" y="647.8" font-size="8" fill="#ffffff" text-anchor="middle" textLength="13" lengthAdjust="spacingAndGlyphs" transform="rotate(-90 733.6 647.8)" font-weight="bold" >600</text>
<text x="733.6" y="676.5" font-size="8" fill="#ffffff" text-anchor="middle" textLength="13" lengthAdjust="spacingAndGlyphs" transform="rotate(-90 733.6 676.5)" font-weight="bold" >490</text>
<text x="386.4" y="420.8" font-size="10.8" fill="#ffffff"  textLength="135.2" lengthAdjust="spacingAndGlyphs"   stroke="#fff" stroke-width="0.45">LÁT GẠCH PRIMER 600 X 600</text>
<text x="386.4" y="433.6" font-size="10.8" fill="#ffffff"  textLength="79" lengthAdjust="spacingAndGlyphs"   stroke="#fff" stroke-width="0.45">MÀU VÀNG KEM</text>
<text x="890.2" y="448" font-size="10.8" fill="#ffffff"  textLength="135.5" lengthAdjust="spacingAndGlyphs"   stroke="#fff" stroke-width="0.45">LÁT GẠCH PRIMER 600 X 600</text>
<text x="890.2" y="460.8" font-size="10.8" fill="#ffffff"  textLength="79" lengthAdjust="spacingAndGlyphs"   stroke="#fff" stroke-width="0.45">MÀU VÀNG KEM</text>
<text x="374" y="604.3" font-size="10.8" fill="#ffffff"  textLength="134.5" lengthAdjust="spacingAndGlyphs"   stroke="#fff" stroke-width="0.45">LÁT GẠCH PRIMER 600 X 600</text>
<text x="374" y="617.1" font-size="10.8" fill="#ffffff"  textLength="79" lengthAdjust="spacingAndGlyphs"   stroke="#fff" stroke-width="0.45">MÀU VÀNG KEM</text>
<text x="581.6" y="611.4" font-size="10.8" fill="#ffffff"  textLength="135.4" lengthAdjust="spacingAndGlyphs"   stroke="#fff" stroke-width="0.45">LÁT GẠCH PRIMER 600 X 600</text>
<text x="581.6" y="623.8" font-size="10.8" fill="#ffffff"  textLength="79" lengthAdjust="spacingAndGlyphs"   stroke="#fff" stroke-width="0.45">MÀU VÀNG KEM</text>
<text x="246.8" y="583.8" font-size="10.8" fill="#ffffff"  textLength="68.4" lengthAdjust="spacingAndGlyphs"   stroke="#fff" stroke-width="0.45">LÁT GẠCH ĐỎ</text>
<text x="246.8" y="595.8" font-size="10.8" fill="#ffffff"  textLength="45" lengthAdjust="spacingAndGlyphs"   stroke="#fff" stroke-width="0.45">HẠ LONG</text>
<text x="880" y="615.8" font-size="10.8" fill="#ffffff"  textLength="118.7" lengthAdjust="spacingAndGlyphs"   stroke="#fff" stroke-width="0.45">LÁT GẠCH ĐỎ HẠ LONG</text>
<text x="600" y="491.8" font-size="10.8" fill="#ffffff"  textLength="170.4" lengthAdjust="spacingAndGlyphs"   stroke="#fff" stroke-width="0.45">CỬA ĐÁ GRANIT KIM SA HẠT TRUNG</text>
<text x="625.6" y="506.4" font-size="10.8" fill="#ffffff"  textLength="78.4" lengthAdjust="spacingAndGlyphs"   stroke="#fff" stroke-width="0.45">BẰNG VIÊN CỬA</text>
<mask id="wmm" maskUnits="userSpaceOnUse" x="0" y="0" width="1500" height="1098"><path d="M220.3,489.6 H251 A58,57.7 0 0 1 251,605 H220.3 Z" fill="#fff"/><path d="M242.7,512.3 H251 A35.6,35 0 0 1 251,582.3 H242.7 Z" fill="#000"/><polygon points="318.3,489.6 339.8,489.6 357.5,566 372.4,489.6 398.5,489.6 409.7,566 424.7,489.6 450.8,489.6 423.3,605 403,605 384,538 365.5,605 345.8,605" fill="#fff"/><circle cx="513.7" cy="547.3" r="60.5" fill="#fff"/><circle cx="513.7" cy="547.3" r="38" fill="#000"/><polygon points="521.7,541 603.7,541 603.7,459" fill="#000"/><rect x="509.7" y="541" width="56" height="22" fill="#fff"/><text transform="translate(573.61 605) scale(0.74 1)" font-size="167.5" font-weight="bold" fill="#fff">S</text><rect x="656" y="489.6" width="28" height="115.4" fill="#fff"/><rect x="723" y="489.6" width="28" height="115.4" fill="#fff"/><rect x="656" y="536" width="95" height="23" fill="#fff"/><polygon points="752,605 801,489.6 824,489.6 873,605 849,605 840,583 785,583 776,605" fill="#fff"/><polygon points="812.5,519 831,561 794,561" fill="#000"/><path d="M876.8,489.6 H914 A35.5,35.5 0 0 1 914,560.6 H876.8 Z" fill="#fff"/><rect x="876.8" y="489.6" width="20" height="115.4" fill="#fff"/><path d="M896.8,511 H914 A14.3,14.3 0 0 1 914,539.6 H896.8 Z" fill="#000"/><polygon points="910,556 934,556 955,605 931,605" fill="#fff"/><rect x="963.2" y="489.6" width="21.6" height="115.4" fill="#fff"/><rect x="963.2" y="489.6" width="80.8" height="22" fill="#fff"/><rect x="963.2" y="537" width="73.6" height="22" fill="#fff"/><rect x="963.2" y="583" width="80.8" height="22" fill="#fff"/><rect x="1059" y="590.8" width="15" height="14.6" fill="#fff"/><circle cx="1112.5" cy="577.8" r="30" fill="#fff"/><circle cx="1112.5" cy="577.8" r="15.8" fill="#000"/><polygon points="1112.5,577.8 1160,544.8 1160,610.8" fill="#000"/><circle cx="1171.6" cy="577.8" r="29.6" fill="#fff"/><circle cx="1171.6" cy="577.8" r="15.5" fill="#000"/><rect x="1205" y="548.3" width="14" height="57.5" fill="#fff"/><rect x="1205" y="548.3" width="23.9" height="24" fill="#fff"/><path d="M1205,572.2 A23.9,23.9 0 0 1 1252.8,572.2 Z" fill="#fff"/><rect x="1238.85" y="571.7" width="14" height="34.1" fill="#fff"/><path d="M1238.9,572.2 A23.9,23.9 0 0 1 1286.7,572.2 Z" fill="#fff"/><rect x="1272.7" y="571.7" width="14" height="34.1" fill="#fff"/><path d="M1219,572.2 A9.9,9.9 0 0 1 1238.8,572.2 Z" fill="#000"/><rect x="1219" y="572.2" width="19.8" height="40" fill="#000"/><path d="M1252.9,572.2 A9.9,9.9 0 0 1 1272.7,572.2 Z" fill="#000"/><rect x="1252.9" y="572.2" width="19.8" height="40" fill="#000"/><rect x="1200" y="605.8" width="100" height="10" fill="#000"/></mask>
<filter id="wmline" filterUnits="userSpaceOnUse" x="180" y="450" width="1140" height="190"><feMorphology in="SourceAlpha" operator="erode" radius="1.6" result="er"/><feComposite in="SourceAlpha" in2="er" operator="out" result="edge"/><feGaussianBlur in="edge" stdDeviation="2.2" result="bl"/><feFlood flood-color="#a2a2a2" result="c1"/><feComposite in="c1" in2="edge" operator="in" result="line"/><feFlood flood-color="#b8b8b8" flood-opacity="0.38" result="c2"/><feComposite in="c2" in2="bl" operator="in" result="glow"/><feMerge><feMergeNode in="glow"/><feMergeNode in="line"/></feMerge></filter>
<g filter="url(#wmline)"><rect x="200" y="470" width="1110" height="150" fill="#fff" mask="url(#wmm)"/></g></svg></body></html>
